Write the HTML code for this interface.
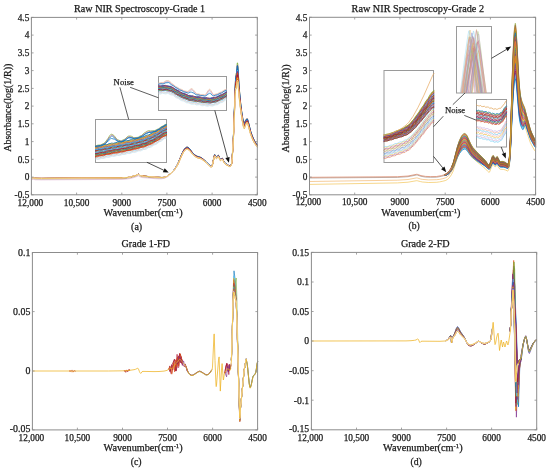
<!DOCTYPE html><html><head><meta charset="utf-8"><style>html,body{margin:0;padding:0;background:#fff;width:550px;height:471px;overflow:hidden}svg{display:block}</style></head><body><svg width="550" height="471" viewBox="0 0 550 471" font-family='"Liberation Serif", "DejaVu Serif", serif' fill="#1a1a1a">
<rect width="550" height="471" fill="#fff"/>
<style>path{fill:none;stroke-linejoin:round;stroke-linecap:round}text{stroke:#1a1a1a;stroke-width:0.25px}</style>
<path d="M31.5 178.3 33 178 36 178.4 41.5 178.5 74 178.2 110 178 119 178 122.5 178 127 177.6 129 177.3 130.5 177 133 176.3 135 175.7 136 175.3 137.5 174.5 138.4 174.2 139 174.6 139.5 175 140.5 175.5 141.5 175.8 143 176.1 154.5 177.1 159 177.4 162 177.5 164 177.4 165 177.2 166.5 176.5 167.5 176 168.5 175.3 171.5 172.6 173 171.1 174 169.9 175 168.5 176 166.9 177.5 164.2 178.5 162.1 182 153.4 183.5 150.4 184.5 148.9 185.5 147.8 186 147.4 186.5 147.2 187 147.1 187.5 147.1 188 147.3 189 148 190 149.2 192.5 152.6 193.5 153.6 194.5 154.5 195.5 155.3 196.5 155.9 197.5 156.3 200.5 157.3 201.5 157.8 202.5 158.5 204 159.7 206.5 162 209 164.6 211 166.4 211.5 166.5 211.8 166.2 212 165.8 212.5 163.9 214 156.7 214.5 154.8 214.6 154.7 215 154.7 216 156.8 216.5 157.4 217 157 218 155.3 218.4 155.2 219 156.2 220 158.9 220.3 159.3 220.5 159.4 221 159.1 221.5 158.5 222 158.1 222.3 158.1 222.5 158.3 223 159.3 224 161.7 225 162.9 226 163.7 229 165.6 229.5 165.8 230 165.9 230.5 165.7 231 165.2 231.2 164.6 231.5 163.6 231.8 161.9 232.2 157 233 144.4 233.5 133.5 235 91.1 235.5 78.9 235.8 75.3 236 73.8 236.2 73.4 236.5 72.7 236.6 72 237.2 63.7 237.4 62.8 237.5 62.9 237.8 64.3 238 67.1 239.2 87.1 240.4 100.5 241 106.1 241.8 112.1 242.5 117 243 119.6 243.3 120.8 243.8 122.1 244 122.5 244.2 122.6 244.5 122.3 245.5 120.3 246.8 118.7 247 118.6 247.2 118.6 247.5 119.1 248 120.7 248.8 123.6 250.5 130.7 252 135.1 253.5 138.7 254.5 140.7 256.5 143.9 257 144.5 257.5 144.9" stroke="#77AC30" stroke-width="0.8"/>
<path d="M31.5 178.3 33 178 36 178.4 41.5 178.5 74 178.2 110 178 119 178 122.5 178 127 177.6 129 177.3 130.5 177 133 176.3 135 175.7 136 175.3 137.5 174.5 138.4 174.2 139 174.6 139.5 175 140.5 175.5 141.5 175.8 143 176.1 154.5 177.1 159 177.4 162 177.5 164 177.4 165 177.2 166.5 176.5 167.5 176 168.5 175.3 171.5 172.6 173 171.1 174 169.9 175 168.5 176 166.9 177.5 164.2 178.5 162.1 182 153.5 183.5 150.4 184.5 148.9 185.5 147.8 186 147.5 186.5 147.2 187 147.1 187.5 147.2 188 147.4 189 148.1 190 149.2 192.5 152.6 193.5 153.7 194.5 154.5 195.5 155.3 196.5 155.9 197.5 156.4 200.5 157.3 201.5 157.8 202.5 158.5 204 159.7 206.5 162 209 164.6 211 166.5 211.5 166.5 211.8 166.2 212 165.8 212.5 164 214 156.7 214.5 154.8 214.6 154.7 215 154.8 216 156.8 216.5 157.4 217 157 218 155.4 218.4 155.2 219 156.2 220 158.9 220.3 159.3 220.5 159.4 221 159.1 221.5 158.5 222 158.1 222.3 158.1 222.5 158.3 223 159.3 224 161.7 225 162.9 226 163.7 229 165.6 229.5 165.8 230 165.9 230.5 165.7 231 165.2 231.2 164.6 231.5 163.6 231.8 161.9 232.2 157 233 144.5 233.5 133.7 235 92 235.5 80.2 235.8 76.8 236 75.6 236.2 75.3 236.5 74.7 236.6 74.1 237.2 66.1 237.4 65.3 237.5 65.3 237.8 66.7 238 69.3 239.2 88.3 239.8 94.4 240.5 102 241.2 108.5 242 114 242.8 118.6 243.2 120.9 243.8 122.3 244 122.7 244.3 122.8 244.5 122.6 244.8 122.1 245.5 120.5 246.8 118.8 247 118.7 247.2 118.7 247.5 119.2 248 120.7 248.8 123.6 250.5 130.7 252 135.1 253.5 138.7 254.5 140.7 256.5 143.9 257 144.6 257.5 145" stroke="#7E2F8E" stroke-width="0.8"/>
<path d="M31.5 178.3 33 178 36 178.4 41.5 178.5 74 178.2 110 178 119 178 122.5 178 127 177.6 129 177.3 130.5 177 133 176.3 135 175.7 136 175.3 137.5 174.5 138.4 174.2 139 174.6 139.5 175 140.5 175.5 141.5 175.8 143 176.1 154.5 177.1 159 177.4 162 177.5 164 177.4 165 177.2 166.5 176.5 167.5 176 168.5 175.3 171.5 172.7 173 171.1 174 169.9 175 168.6 176 167 177.5 164.3 178.5 162.2 182 153.7 183.5 150.7 184.5 149.2 185.5 148.1 186 147.7 186.5 147.5 187 147.4 187.5 147.4 188 147.6 189 148.3 190 149.5 192.5 152.8 193.5 153.8 194.5 154.7 195.5 155.5 196.5 156.1 197.5 156.5 200.5 157.5 201.5 158 202.5 158.7 204 159.9 206.5 162.1 209 164.7 211 166.5 211.5 166.6 211.8 166.3 212 165.9 212.5 164.1 214 156.9 214.5 155 214.6 154.9 215 154.9 216 157 216.5 157.5 217 157.2 218 155.5 218.4 155.4 219 156.4 220 159.1 220.3 159.5 220.5 159.5 221 159.3 221.5 158.7 222 158.2 222.3 158.3 222.5 158.5 223 159.5 224 161.8 225 163 226 163.8 229 165.7 229.5 165.9 230 166 230.5 165.8 231 165.3 231.2 164.7 231.5 163.8 231.8 162 232.2 157.2 233 144.8 233.5 134 235 92.6 235.5 80.8 235.8 77.4 236 76.1 236.2 75.8 236.5 75.2 236.6 74.7 237.2 66.6 237.4 65.8 237.5 65.9 237.8 67.2 238 69.9 239.2 88.9 239.8 94.9 240.5 102.5 241.2 109 242 114.5 242.8 119.1 243.2 121.4 243.8 122.9 244 123.3 244.3 123.4 244.5 123.2 244.8 122.7 245.5 121 246.8 119.3 247 119.1 247.2 119.2 247.5 119.6 248 121.2 248.8 124.1 250.5 131.1 252 135.5 253.5 139 254.5 141 256.5 144.2 257 144.8 257.5 145.2" stroke="#0072BD" stroke-width="0.8"/>
<path d="M31.5 178.3 33 178 36 178.4 41.5 178.5 74 178.2 110 178 119 178 122.5 178 127 177.6 129 177.3 130.5 177 133 176.3 135 175.7 136 175.3 137.5 174.5 138.4 174.3 139 174.6 139.5 175 140.5 175.5 141.5 175.8 143 176.1 154.5 177.1 159 177.4 162 177.5 164 177.4 165 177.1 166.5 176.5 167.5 176 168.5 175.3 171.5 172.7 173 171.2 174 170 175 168.6 176 167.1 177.5 164.4 178.5 162.3 182 153.8 183.5 150.9 184.5 149.4 185.5 148.3 186 147.9 186.5 147.7 187 147.6 187.5 147.6 188 147.8 189 148.5 190 149.7 192.5 153 193.5 154 194.5 154.9 195.5 155.6 196.5 156.3 197.5 156.7 200.5 157.6 201.5 158.1 202.5 158.8 204 160 206.5 162.3 209 164.8 211 166.6 211.5 166.7 211.8 166.4 212 166 212.5 164.2 214 157 214.5 155.2 214.6 155 215 155.1 216 157.1 216.5 157.7 217 157.3 218 155.7 218.4 155.6 219 156.6 220 159.2 220.3 159.6 220.5 159.7 221 159.4 221.5 158.8 222 158.4 222.3 158.4 222.5 158.6 223 159.6 224 162 225 163.1 226 163.9 229 165.8 229.5 166 230 166 230.5 165.9 231 165.3 231.2 164.8 231.5 163.9 231.8 162.1 232.2 157.4 233 145 233.5 134.5 235 93.9 235.5 82.7 235.8 79.5 236 78.4 236.2 78.2 236.5 77.7 236.6 77.2 237.2 69.5 237.4 68.8 237.5 68.8 237.8 70.1 238 72.6 239.2 90.6 240.4 102.5 241.8 113.4 242.5 118.2 243.2 122 243.8 123.5 244 123.9 244.3 124 244.5 123.8 244.8 123.3 245.5 121.6 246.5 120 246.8 119.7 247 119.6 247.2 119.7 247.5 120.1 248 121.6 248.8 124.5 250.5 131.4 252 135.8 253.5 139.3 254.5 141.3 256.5 144.4 257 145.1 257.5 145.5" stroke="#0072BD" stroke-width="0.8"/>
<path d="M31.5 178.3 33 178 36 178.4 41.5 178.4 74 178.1 110 178 119 178 122.5 177.9 127 177.6 129 177.3 130.5 177 133 176.3 135 175.7 136 175.3 137.5 174.6 138.4 174.3 139 174.6 139.5 175.1 140.5 175.5 141.5 175.9 143 176.1 154.5 177.1 159 177.4 162 177.5 164 177.4 165 177.1 166.5 176.5 167.5 176 168.5 175.3 171.5 172.8 173 171.2 174 170.1 175 168.7 176 167.2 177.5 164.6 178.5 162.5 182 154.1 183.5 151.2 184.5 149.7 185.5 148.7 186 148.3 186.5 148.1 187 148 187.5 148 188 148.2 189 148.9 190 150 192.5 153.3 193.5 154.3 194.5 155.2 195.5 155.9 196.5 156.5 197.5 157 200.5 157.9 201.5 158.4 202.5 159 204 160.2 206.5 162.4 209 164.9 211 166.8 211.5 166.8 211.8 166.5 212 166.1 212.5 164.3 214 157.3 214.5 155.5 214.6 155.3 215 155.4 216 157.4 216.5 157.9 217 157.6 218 156 218.4 155.8 219 156.8 220 159.4 220.3 159.8 220.5 159.9 221 159.6 221.5 159 222 158.6 222.3 158.7 222.5 158.9 223 159.8 224 162.2 225 163.3 226 164.1 229 165.9 229.5 166.1 230 166.2 230.5 166 231 165.5 231.2 164.9 231.5 164 231.8 162.3 232.2 157.6 233 145.5 233.5 135 235 95.1 235.5 84 235.8 80.8 236 79.7 236.2 79.6 236.5 79.1 236.6 78.6 237.2 71.1 237.4 70.3 237.5 70.3 237.8 71.6 238 74.1 239.2 91.7 240.4 103.6 241.8 114.2 242.5 119.1 243.2 122.8 243.8 124.4 244 124.8 244.3 124.9 244.5 124.7 244.8 124.2 245.5 122.4 246.5 120.8 246.8 120.5 247 120.4 247.2 120.4 247.5 120.8 248 122.4 248.8 125.2 250.5 132 252 136.3 253.5 139.8 254.5 141.7 256.5 144.8 257 145.5 257.5 145.9" stroke="#4DBEEE" stroke-width="0.8"/>
<path d="M31.5 178.3 33 178 36 178.4 41.5 178.4 74 178.1 110 178 119 178 122.5 177.9 127 177.6 129 177.3 130.5 177 133 176.3 135 175.7 136 175.3 137.5 174.6 138.4 174.3 139 174.6 139.5 175.1 140.5 175.5 141.5 175.9 143 176.1 154.5 177.1 159 177.4 162 177.5 164 177.4 165 177.1 166.5 176.5 167.5 176 168.5 175.3 171.5 172.8 173 171.2 174 170.1 175 168.7 176 167.2 177.5 164.6 178.5 162.5 182 154.1 183.5 151.2 184.5 149.7 185.5 148.6 186 148.2 186.5 148 187 147.9 187.5 148 188 148.2 189 148.8 190 150 192.5 153.3 193.5 154.3 194.5 155.1 195.5 155.9 196.5 156.5 197.5 156.9 200.5 157.8 201.5 158.3 202.5 159 204 160.2 206.5 162.4 209 164.9 211 166.7 211.5 166.8 211.8 166.5 212 166.1 212.5 164.3 214 157.3 214.5 155.4 214.6 155.3 215 155.4 216 157.3 216.5 157.9 217 157.5 218 155.9 218.4 155.8 219 156.8 220 159.4 220.3 159.8 220.5 159.9 221 159.6 221.5 159 222 158.6 222.3 158.6 222.5 158.8 223 159.8 224 162.1 225 163.3 226 164.1 229 165.9 229.5 166.1 230 166.2 230.5 166 231 165.5 231.2 164.9 231.5 164 231.8 162.3 232.2 157.6 233 145.4 233.5 135 235 95.3 235.5 84.3 235.8 81.3 236 80.2 236.2 80.1 236.5 79.8 236.6 79.3 237.2 71.9 237.4 71.1 237.5 71.1 237.8 72.4 238 74.8 239.2 92.1 240.4 103.6 241.2 110.6 242 115.8 242.8 120.5 243.3 123.1 243.8 124.4 244 124.9 244.3 125 244.5 124.8 244.8 124.3 245.5 122.4 246.5 120.7 246.8 120.4 247 120.3 247.2 120.3 247.5 120.7 248 122.3 248.8 125.1 250.5 132 252 136.3 253.5 139.7 254.5 141.7 256.5 144.8 257 145.4 257.5 145.8" stroke="#7E2F8E" stroke-width="0.8"/>
<path d="M31.5 178.3 33 177.9 36 178.4 41.5 178.4 74 178.1 122.5 177.9 127 177.6 129 177.3 130.5 177 133 176.3 135 175.7 136 175.3 137.5 174.6 138.4 174.3 139 174.6 139.5 175.1 140.5 175.5 141.5 175.9 143 176.1 154.5 177.1 159 177.4 162 177.5 164 177.4 165 177.1 166.5 176.5 167.5 176 168.5 175.3 171.5 172.8 173 171.3 174 170.1 175 168.8 176 167.3 177.5 164.7 178.5 162.6 182 154.3 183.5 151.4 184.5 149.9 185.5 148.9 186 148.5 186.5 148.3 187 148.2 187.5 148.2 188 148.4 189 149.1 190 150.2 192.5 153.5 193.5 154.5 194.5 155.3 195.5 156.1 196.5 156.7 197.5 157.1 200.5 158 201.5 158.5 202.5 159.2 204 160.3 206.5 162.6 209 165 211 166.8 211.5 166.9 211.8 166.6 212 166.2 212.5 164.4 214 157.4 214.5 155.6 214.6 155.5 215 155.6 216 157.5 216.5 158.1 217 157.7 218 156.1 218.4 156 219 157 220 159.6 220.3 160 220.5 160 221 159.7 221.5 159.2 222 158.8 222.3 158.8 222.5 159 223 160 224 162.3 225 163.4 226 164.2 229 166 229.5 166.2 230 166.3 230.5 166.1 231 165.6 231.2 165 231.5 164.1 231.8 162.4 232.2 157.8 233 145.7 233.5 135.4 235 96.2 235.5 85.5 235.8 82.5 236 81.5 236.2 81.5 236.5 81.1 236.6 80.7 237.2 73.4 237.4 72.7 237.5 72.7 237.8 73.9 238 76.3 239.2 93.1 240.4 104.4 241.2 111.2 242 116.4 242.8 121.1 243.3 123.7 243.8 125.1 244 125.6 244.3 125.7 244.5 125.5 244.8 124.9 245.5 123 246.5 121.3 246.8 120.9 247 120.8 247.2 120.9 247.5 121.2 248 122.8 248.8 125.5 250.5 132.4 252 136.6 253.5 140.1 254.5 142 256.5 145.1 257 145.7 257.5 146.1" stroke="#A2142F" stroke-width="0.8"/>
<path d="M31.5 178.3 33 177.9 36 178.4 41.5 178.4 74 178.1 122.5 177.9 127 177.6 129 177.3 130.5 177 133 176.3 135 175.7 136 175.3 137.5 174.6 138.4 174.3 139 174.6 139.5 175.1 140.5 175.5 141.5 175.9 143 176.1 154.5 177.1 159 177.4 162 177.5 164 177.4 165 177.1 166.5 176.5 167.5 176 168.5 175.3 171.5 172.8 173 171.3 174 170.1 175 168.8 176 167.3 177.5 164.7 178.5 162.6 182 154.4 183.5 151.4 184.5 150 185.5 148.9 186 148.6 186.5 148.4 187 148.3 187.5 148.3 188 148.5 189 149.2 190 150.3 192.5 153.5 193.5 154.5 194.5 155.4 195.5 156.1 196.5 156.7 197.5 157.1 200.5 158.1 201.5 158.5 202.5 159.2 204 160.4 206.5 162.6 209 165 211 166.9 211.5 166.9 211.8 166.6 212 166.2 212.5 164.5 214 157.5 214.5 155.7 214.6 155.5 215 155.6 216 157.6 216.5 158.1 217 157.8 218 156.2 218.4 156.1 219 157 220 159.6 220.3 160 220.5 160.1 221 159.8 221.5 159.2 222 158.8 222.3 158.9 222.5 159.1 223 160 224 162.3 225 163.4 226 164.2 229 166 229.5 166.2 230 166.3 230.5 166.1 231 165.6 231.2 165.1 231.5 164.2 231.8 162.5 232.2 157.8 233 145.8 233.5 135.5 235 96.4 235.5 85.7 235.8 82.7 236 81.7 236.2 81.7 236.5 81.3 236.6 80.8 237.2 73.6 237.4 72.9 237.5 72.9 237.8 74.1 238 76.5 239.2 93.3 240.4 104.6 241.2 111.4 242 116.6 242.8 121.3 243.3 123.9 243.8 125.4 244 125.9 244.3 126 244.5 125.8 244.8 125.3 245.5 123.2 246.5 121.4 246.8 121.1 247 120.9 247.2 121 247.5 121.4 248 122.9 248.8 125.7 250.5 132.5 252 136.7 253.5 140.2 254.5 142.1 256.5 145.2 257 145.8 257.5 146.2" stroke="#D95319" stroke-width="0.8"/>
<path d="M31.5 178.2 33 177.9 36 178.3 41.5 178.4 74 178.1 122.5 177.9 127 177.5 129 177.3 130.5 177 133 176.3 135 175.7 136 175.4 137.5 174.6 138.4 174.3 139 174.7 139.5 175.1 140.5 175.5 141.5 175.9 143 176.1 154.5 177.1 159 177.4 162 177.5 164 177.4 165 177.1 166.5 176.5 167.5 176 168.5 175.3 171.5 172.8 173 171.4 174 170.2 175 168.9 176 167.4 177.5 164.9 178.5 162.8 182 154.6 183.5 151.7 184.5 150.3 185.5 149.2 186 148.9 186.5 148.7 187 148.6 187.5 148.6 188 148.8 189 149.5 190 150.6 192.5 153.8 193.5 154.8 194.5 155.6 195.5 156.4 196.5 157 197.5 157.4 200.5 158.3 201.5 158.8 202.5 159.4 204 160.6 206.5 162.8 209 165.2 211 167 211.5 167 211.8 166.8 212 166.3 212.5 164.6 214 157.7 214.5 155.9 214.6 155.8 215 155.8 216 157.8 216.5 158.3 217 158 218 156.4 218.4 156.3 219 157.3 220 159.8 220.3 160.2 220.5 160.3 221 160 221.5 159.4 222 159 222.3 159.1 222.5 159.3 223 160.2 224 162.5 225 163.6 226 164.3 229 166.2 229.5 166.4 230 166.4 230.5 166.2 231 165.7 231.2 165.2 231.5 164.3 231.8 162.6 232.2 158 233 146.2 233.5 136 235 97.6 235.5 87.1 235.8 84.3 236 83.4 236.2 83.4 236.5 83.1 236.6 82.6 237.2 75.6 237.4 74.9 237.5 74.9 237.8 76.1 238 78.4 239.2 94.7 240.5 106.4 241.2 112.2 242.2 119 243 123.3 243.5 125.4 244 126.6 244.3 126.8 244.5 126.6 244.8 126 245.5 124 246.5 122.1 246.8 121.8 247 121.6 247.2 121.6 247.5 122 248 123.5 250.5 133 252 137.2 253.5 140.6 254.5 142.5 256.5 145.5 257 146.2 257.5 146.5" stroke="#A2142F" stroke-width="0.8"/>
<path d="M31.5 178.2 33 177.9 36 178.3 41.5 178.4 74 178.1 122.5 177.9 127 177.5 129 177.3 130.5 177 133 176.3 135 175.7 136 175.4 137.5 174.6 138.4 174.4 139 174.7 139.5 175.1 140.5 175.6 141.5 175.9 143 176.1 154.5 177.1 159 177.4 162 177.5 164 177.4 165 177.1 166.5 176.5 167.5 176 168.5 175.3 171.5 172.9 173 171.4 174 170.3 175 169 176 167.5 177.5 165 178.5 162.9 182 154.9 183.5 152 184.5 150.6 185.5 149.5 186 149.2 186.5 149 187 148.9 187.5 148.9 188 149.1 189 149.8 190 150.9 192.5 154.1 193.5 155 194.5 155.9 195.5 156.6 196.5 157.2 197.5 157.6 200.5 158.5 201.5 158.9 202.5 159.6 204 160.7 206.5 162.9 209 165.3 211 167.1 211.5 167.1 211.8 166.9 212 166.5 212.5 164.7 214 157.9 214.5 156.1 214.6 156 215 156.1 216 158 216.5 158.5 217 158.2 218 156.6 218.4 156.5 219 157.5 220 160 220.3 160.4 220.5 160.4 221 160.2 221.5 159.6 222 159.2 222.3 159.2 222.5 159.4 223 160.4 224 162.6 225 163.7 226 164.5 229 166.3 229.5 166.5 230 166.5 230.5 166.3 231 165.9 231.2 165.3 231.5 164.4 231.8 162.8 232.2 158.2 233 146.5 233.5 136.5 235 98.8 235.5 88.6 235.8 85.9 236 85.1 236.2 85.1 236.5 84.9 236.6 84.5 237.2 77.7 237.4 77 237.5 77 237.8 78.1 238 80.3 239.2 96 240.4 106.5 241.2 112.9 242.2 119.6 243 124 243.5 126.1 244 127.3 244.3 127.5 244.5 127.3 244.8 126.7 245.5 124.6 246.5 122.7 246.8 122.3 247 122.2 247.2 122.2 247.5 122.6 248 124.1 250.5 133.5 252 137.6 253.5 141 254.5 142.8 256.5 145.9 257 146.5 257.5 146.9" stroke="#D95319" stroke-width="0.8"/>
<path d="M31.5 178.2 33 177.9 36 178.3 41.5 178.4 74 178.1 122.5 177.9 127 177.5 129 177.3 130.5 177 133 176.3 135 175.7 136 175.4 137.5 174.6 138.4 174.4 139 174.7 139.5 175.1 140.5 175.6 141.5 175.9 143 176.1 154.5 177.1 159 177.4 162 177.5 164 177.4 165 177.1 166.5 176.5 167.5 176 168.5 175.3 171.5 172.9 173 171.4 174 170.3 175 169 176 167.5 177.5 164.9 178.5 162.9 182 154.8 183.5 151.9 184.5 150.5 185.5 149.5 186 149.1 186.5 148.9 187 148.8 187.5 148.9 188 149 189 149.7 190 150.8 192.5 154 193.5 155 194.5 155.8 195.5 156.5 196.5 157.1 197.5 157.5 200.5 158.4 201.5 158.9 202.5 159.5 204 160.7 206.5 162.9 209 165.3 211 167 211.5 167.1 211.8 166.8 212 166.4 212.5 164.7 214 157.8 214.5 156.1 214.6 155.9 215 156 216 157.9 216.5 158.5 217 158.1 218 156.6 218.4 156.4 219 157.4 220 159.9 220.3 160.3 220.5 160.4 221 160.1 221.5 159.5 222 159.1 222.3 159.2 222.5 159.4 223 160.3 224 162.6 225 163.7 226 164.4 229 166.2 229.5 166.4 230 166.5 230.5 166.3 231 165.8 231.2 165.3 231.5 164.4 231.8 162.8 232.2 158.2 233 146.4 233.5 136.4 235 98.9 235.5 89 235.8 86.3 236 85.6 236.2 85.8 236.5 85.6 236.6 85.2 237.2 78.6 237.4 77.9 237.5 77.9 237.8 79 238 81.2 239.2 95.9 240.4 106.5 241.2 112.8 242.2 119.5 243 123.9 243.5 126.1 244 127.4 244.3 127.5 244.5 127.3 244.8 126.8 245.5 124.6 246.5 122.6 246.8 122.2 247 122 247.2 122.1 247.5 122.4 248 123.9 250.5 133.3 252 137.5 253.5 140.9 254.5 142.7 256.5 145.8 257 146.4 257.5 146.8" stroke="#EDB120" stroke-width="0.8"/>
<path d="M31.5 178.2 33 177.9 36 178.3 41.5 178.4 74 178.1 122.5 177.9 127 177.5 129 177.3 130.5 177 133 176.3 135 175.7 136 175.4 137.5 174.6 138.4 174.4 139 174.7 139.5 175.1 140.5 175.6 141.5 175.9 143 176.1 154.5 177.1 159 177.4 162 177.5 164 177.4 165 177.1 166.5 176.5 167.5 176 168.5 175.3 171.5 172.9 173 171.5 174 170.3 175 169 176 167.6 177.5 165 178.5 163 182 155 183.5 152.1 184.5 150.7 185.5 149.7 186 149.3 186.5 149.1 187 149 187.5 149.1 188 149.3 189 149.9 190 151 192.5 154.2 193.5 155.1 194.5 156 195.5 156.7 196.5 157.3 197.5 157.7 200.5 158.6 201.5 159 202.5 159.7 204 160.8 206.5 163 209 165.4 211 167.1 211.5 167.2 211.8 166.9 212 166.5 212.5 164.8 214 158 214.5 156.2 214.6 156.1 215 156.2 216 158.1 216.5 158.6 217 158.3 218 156.7 218.4 156.6 219 157.6 220 160.1 220.3 160.5 220.5 160.5 221 160.2 221.5 159.7 222 159.3 222.3 159.3 222.5 159.5 223 160.4 224 162.7 225 163.8 226 164.5 229 166.3 229.5 166.5 230 166.6 230.5 166.4 231 165.9 231.2 165.4 231.5 164.5 231.8 162.9 232.2 158.3 233 146.7 233.5 136.8 235 99.8 235.5 90 235.8 87.5 236 86.8 236.2 87 236.5 86.9 236.6 86.5 237.2 80 237.4 79.3 237.5 79.3 237.8 80.4 238 82.5 239.2 96.9 240.2 106.1 241.2 113.4 242.2 120 243 124.5 243.5 126.7 244 128 244.2 128.2 244.5 127.9 245.5 125.1 246.2 123.5 246.8 122.7 247 122.5 247.2 122.5 247.5 122.9 248 124.4 250.5 133.7 252 137.8 253.5 141.2 254.5 143 256.5 146 257 146.6 257.5 147" stroke="#D95319" stroke-width="0.8"/>
<path d="M31.5 179 33.5 178.7 35.5 179.1 41.5 179.2 122.5 178.7 126.5 178.4 130.5 177.8 134.5 176.7 138.5 175.2 139.5 175.9 140.5 176.4 142.5 176.9 155.5 178 159.5 178.2 162.5 178.1 164.5 177.8 165.5 177.5 168.5 175.7 172.5 172.2 175.5 168.4" stroke="#9A8A5A" stroke-width="0.7" stroke-opacity="0.8"/>
<path d="M31.5 179.7 33.5 179.4 35.5 179.8 41.5 179.9 122.5 179.4 126.5 179.1 130.5 178.5 134.5 177.4 138.5 175.9 139.5 176.6 140.5 177.1 142.5 177.6 155.5 178.7 159.5 178.9 161.5 178.8 164.5 178.3 167.5 176.8 170.5 174.3 172.5 172.3 175.5 168.4" stroke="#D8A0C8" stroke-width="0.7" stroke-opacity="0.7"/>
<path d="M31.5 178.2 33 177.9 36 178.3 41.5 178.4 122.5 177.9 127 177.5 130.5 177 135 175.7 138.4 174.4 140.5 175.6 143 176.1 159 177.4 164 177.4 166.5 176.5 168.5 175.4 171.5 172.9 174 170.4 176 167.7 177.5 165.2 182 155.2 183.5 152.4 185.5 149.9 187 149.3 188 149.5 189 150.2 192.5 154.4 194.5 156.2 196.5 157.5 200.5 158.7 202.5 159.8 206.5 163.1 211 167.2 211.5 167.3 212 166.6 214 158.2 214.6 156.3 215 156.4 216 158.3 216.5 158.8 217 158.4 218 156.9 218.4 156.8 220.3 160.6 220.5 160.7 221 160.4 222 159.5 222.3 159.5 223 160.6 224 162.8 225 163.9 229 166.4 230 166.7 230.5 166.5 231 166 231.5 164.6 232.2 158.5 233.5 137.2 235.5 91.2 235.8 88.8 236 88.2 236.2 88.4 236.5 88.4 236.6 88 237.4 81 237.8 82.1 238 84.1 239.2 98 240.2 106.9 242.5 122.2 243.5 127.3 244 128.6 244.2 128.8 244.5 128.6 246.2 124.1 246.8 123.2 247.2 123 248 124.8 250.5 134.1 252 138.2 254.5 143.3 256.5 146.3 257.5 147.3" stroke="#ffffff" stroke-width="1.3"/>
<path d="M31.5 178.2 33 177.9 36 178.3 41.5 178.4 74 178.1 122.5 177.9 127 177.5 129 177.2 130.5 177 133 176.3 135 175.7 136 175.4 137.5 174.7 138.4 174.4 139 174.7 139.5 175.1 140.5 175.6 141.5 175.9 143 176.1 154.5 177.1 159 177.4 162 177.5 164 177.4 165 177.1 166.5 176.5 167.5 176 168.5 175.4 171.5 172.9 173 171.5 174 170.4 175 169.1 176 167.7 177.5 165.2 178.5 163.1 182 155.2 183.5 152.4 184.5 151 185.5 149.9 186 149.6 186.5 149.4 187 149.3 187.5 149.3 188 149.5 189 150.2 190 151.2 192.5 154.4 193.5 155.3 194.5 156.2 195.5 156.9 196.5 157.5 197.5 157.9 200.5 158.7 201.5 159.2 202.5 159.8 204 161 206.5 163.1 209 165.5 211 167.2 211.5 167.3 211.8 167 212 166.6 212.5 164.9 214 158.2 214.5 156.4 214.6 156.3 215 156.4 216 158.3 216.5 158.8 217 158.4 218 156.9 218.4 156.8 219 157.7 220 160.2 220.3 160.6 220.5 160.7 221 160.4 221.5 159.8 222 159.5 222.3 159.5 222.5 159.7 223 160.6 224 162.8 225 163.9 226 164.7 229 166.4 229.5 166.6 230 166.7 230.5 166.5 231 166 231.2 165.5 231.5 164.6 231.8 163 232.2 158.5 233 147 233.5 137.2 235 100.8 235.5 91.2 235.8 88.8 236 88.2 236.2 88.4 236.5 88.4 236.6 88 237.2 81.7 237.4 81 237.5 81 237.8 82.1 238 84.1 239.2 98 240.2 106.9 241.2 114.1 242.5 122.2 243 125.1 243.5 127.3 244 128.6 244.2 128.8 244.5 128.6 245.5 125.7 246.2 124.1 246.8 123.2 247 123 247.2 123 247.5 123.4 248 124.8 250.5 134.1 252 138.2 253.5 141.5 254.5 143.3 256.5 146.3 257 146.9 257.5 147.3" stroke="#E3B040" stroke-width="0.85"/>
<line x1="31.4" y1="194.8" x2="31.4" y2="192.6" stroke="#8c8c8c" stroke-width="0.8"/>
<line x1="31.4" y1="17.4" x2="31.4" y2="19.6" stroke="#8c8c8c" stroke-width="0.8"/>
<line x1="76.6" y1="194.8" x2="76.6" y2="192.6" stroke="#8c8c8c" stroke-width="0.8"/>
<line x1="76.6" y1="17.4" x2="76.6" y2="19.6" stroke="#8c8c8c" stroke-width="0.8"/>
<line x1="121.8" y1="194.8" x2="121.8" y2="192.6" stroke="#8c8c8c" stroke-width="0.8"/>
<line x1="121.8" y1="17.4" x2="121.8" y2="19.6" stroke="#8c8c8c" stroke-width="0.8"/>
<line x1="166.9" y1="194.8" x2="166.9" y2="192.6" stroke="#8c8c8c" stroke-width="0.8"/>
<line x1="166.9" y1="17.4" x2="166.9" y2="19.6" stroke="#8c8c8c" stroke-width="0.8"/>
<line x1="212.1" y1="194.8" x2="212.1" y2="192.6" stroke="#8c8c8c" stroke-width="0.8"/>
<line x1="212.1" y1="17.4" x2="212.1" y2="19.6" stroke="#8c8c8c" stroke-width="0.8"/>
<line x1="257.3" y1="194.8" x2="257.3" y2="192.6" stroke="#8c8c8c" stroke-width="0.8"/>
<line x1="257.3" y1="17.4" x2="257.3" y2="19.6" stroke="#8c8c8c" stroke-width="0.8"/>
<line x1="31.4" y1="194.8" x2="33.6" y2="194.8" stroke="#8c8c8c" stroke-width="0.8"/>
<line x1="257.3" y1="194.8" x2="255.1" y2="194.8" stroke="#8c8c8c" stroke-width="0.8"/>
<line x1="31.4" y1="177.1" x2="33.6" y2="177.1" stroke="#8c8c8c" stroke-width="0.8"/>
<line x1="257.3" y1="177.1" x2="255.1" y2="177.1" stroke="#8c8c8c" stroke-width="0.8"/>
<line x1="31.4" y1="159.3" x2="33.6" y2="159.3" stroke="#8c8c8c" stroke-width="0.8"/>
<line x1="257.3" y1="159.3" x2="255.1" y2="159.3" stroke="#8c8c8c" stroke-width="0.8"/>
<line x1="31.4" y1="141.6" x2="33.6" y2="141.6" stroke="#8c8c8c" stroke-width="0.8"/>
<line x1="257.3" y1="141.6" x2="255.1" y2="141.6" stroke="#8c8c8c" stroke-width="0.8"/>
<line x1="31.4" y1="123.8" x2="33.6" y2="123.8" stroke="#8c8c8c" stroke-width="0.8"/>
<line x1="257.3" y1="123.8" x2="255.1" y2="123.8" stroke="#8c8c8c" stroke-width="0.8"/>
<line x1="31.4" y1="106.1" x2="33.6" y2="106.1" stroke="#8c8c8c" stroke-width="0.8"/>
<line x1="257.3" y1="106.1" x2="255.1" y2="106.1" stroke="#8c8c8c" stroke-width="0.8"/>
<line x1="31.4" y1="88.4" x2="33.6" y2="88.4" stroke="#8c8c8c" stroke-width="0.8"/>
<line x1="257.3" y1="88.4" x2="255.1" y2="88.4" stroke="#8c8c8c" stroke-width="0.8"/>
<line x1="31.4" y1="70.6" x2="33.6" y2="70.6" stroke="#8c8c8c" stroke-width="0.8"/>
<line x1="257.3" y1="70.6" x2="255.1" y2="70.6" stroke="#8c8c8c" stroke-width="0.8"/>
<line x1="31.4" y1="52.9" x2="33.6" y2="52.9" stroke="#8c8c8c" stroke-width="0.8"/>
<line x1="257.3" y1="52.9" x2="255.1" y2="52.9" stroke="#8c8c8c" stroke-width="0.8"/>
<line x1="31.4" y1="35.1" x2="33.6" y2="35.1" stroke="#8c8c8c" stroke-width="0.8"/>
<line x1="257.3" y1="35.1" x2="255.1" y2="35.1" stroke="#8c8c8c" stroke-width="0.8"/>
<line x1="31.4" y1="17.4" x2="33.6" y2="17.4" stroke="#8c8c8c" stroke-width="0.8"/>
<line x1="257.3" y1="17.4" x2="255.1" y2="17.4" stroke="#8c8c8c" stroke-width="0.8"/>
<rect x="31.4" y="17.4" width="225.9" height="177.4" fill="none" stroke="#8c8c8c" stroke-width="1"/>
<text x="29.3" y="197.6" font-size="9.3" text-anchor="end" >-0.5</text>
<text x="29.3" y="180.2" font-size="9.3" text-anchor="end" >0</text>
<text x="29.3" y="162.5" font-size="9.3" text-anchor="end" >0.5</text>
<text x="29.3" y="144.7" font-size="9.3" text-anchor="end" >1</text>
<text x="29.3" y="127" font-size="9.3" text-anchor="end" >1.5</text>
<text x="29.3" y="109.3" font-size="9.3" text-anchor="end" >2</text>
<text x="29.3" y="91.5" font-size="9.3" text-anchor="end" >2.5</text>
<text x="29.3" y="73.8" font-size="9.3" text-anchor="end" >3</text>
<text x="29.3" y="56" font-size="9.3" text-anchor="end" >3.5</text>
<text x="29.3" y="38.3" font-size="9.3" text-anchor="end" >4</text>
<text x="29.3" y="20.6" font-size="9.3" text-anchor="end" >4.5</text>
<text x="30.4" y="205.6" font-size="9.3" text-anchor="middle" >12,000</text>
<text x="76.6" y="205.6" font-size="9.3" text-anchor="middle" >10,500</text>
<text x="121.8" y="205.6" font-size="9.3" text-anchor="middle" >9000</text>
<text x="166.9" y="205.6" font-size="9.3" text-anchor="middle" >7500</text>
<text x="212.1" y="205.6" font-size="9.3" text-anchor="middle" >6000</text>
<text x="257.3" y="205.6" font-size="9.3" text-anchor="middle" >4500</text>
<rect x="95.5" y="119.5" width="71" height="43" fill="#fff" stroke="#9a9a9a" stroke-width="1"/>
<path d="M95.5 158.2 96.5 157.8 97.5 157.6 99.5 157.8 102.5 156.6 104.5 156.8 105.5 156.6 107.5 155.6 109.5 155.7 110.5 155.6 112.5 154.7 115.5 154.8 117.5 153.9 118.5 153.8 120.5 153.9 123.5 152.8 125.5 152.9 128.5 151.7 130.5 151.9 131.5 151.7 133.5 150.7 136.5 150.6 138.5 149.5 139.5 149.3 141.5 149.2 144.5 147.8 146.5 147.6 149.5 145.8 151.5 145.4 152.5 144.9 154.5 143.3 156.5 142.8 157.5 142.2 159.5 140.4 160.5 139.8 162.5 139 164.5 137.3 165.5 136.8 166.5 136.8" stroke="#4DBEEE" stroke-width="0.8" stroke-opacity="0.55"/>
<path d="M95.5 158.6 97.5 158.9 98.5 158.7 100.5 157.8 103.5 157.8 105.5 156.8 106.5 156.6 108.5 156.8 110.5 155.8 111.5 155.6 113.5 155.8 116.5 154.8 118.5 155 119.5 154.8 121.5 153.9 124.5 153.9 126.5 152.9 127.5 152.8 129.5 152.9 131.5 151.9 132.5 151.7 134.5 151.8 137.5 150.4 139.5 150.5 140.5 150.2 142.5 149.1 144.5 149 145.5 148.7 147.5 147.4 150.5 146.7 152.5 145.2 153.5 144.6 155.5 144.1 158.5 141.8 160.5 141 163.5 138.5 166.5 137.7" stroke="#F0B0A0" stroke-width="0.8" stroke-opacity="0.55"/>
<path d="M95.5 159.4 96.5 159.2 98.5 159.4 99.5 159.2 101.5 158.3 103.5 158.4 104.5 158.3 106.5 157.3 109.5 157.3 111.5 156.4 112.5 156.2 114.5 156.4 117.5 155.3 119.5 155.6 120.5 155.3 122.5 154.4 124.5 154.5 125.5 154.4 127.5 153.4 130.5 153.4 132.5 152.4 133.5 152.2 135.5 152.3 138.5 150.9 140.5 150.9 141.5 150.6 143.5 149.5 145.5 149.4 146.5 149 148.5 147.7 151.5 146.9 153.5 145.4 154.5 144.9 156.5 144.3 159.5 141.8 161.5 141 164.5 138.7 166.5 138.4" stroke="#9FD8F0" stroke-width="0.8" stroke-opacity="0.55"/>
<path d="M95.5 146.6 98.5 146.7 100.5 145.9 102.5 145.3 104.5 145.4 106.5 145 108.5 144 110.5 143.9 112.5 144 113.5 143.5 116.5 142.6 117.5 142.9 120.5 142.5 121.5 141.9 122.5 141.7 124.5 141.4 125.5 141.6 126.5 141.4 129.5 140.2 133.5 139.9 134.5 139.6 135.5 138.9 137.5 138.5 138.5 138.3 139.5 138.4 142.5 137.3 143.5 136.6 147.5 135.9 149.5 134.6 151.5 133.5 153.5 133.1 155.5 131.9 157.5 130.3 161.5 128.3 162.5 127.3 165.5 125.4 166.5 125.5" stroke="#0072BD" stroke-width="0.8" stroke-opacity="0.95"/>
<path d="M95.5 148.1 96.5 148.1 97.5 147.8 99.5 148 101.5 147.4 103.5 146.6 104.5 146.7 107.5 146.5 108.5 145.9 111.5 145 112.5 145.3 113.5 145.2 115.5 144.8 117.5 144 121.5 144 122.5 143.4 124.5 142.8 125.5 142.6 126.5 142.8 128.5 142.4 129.5 142.2 130.5 141.5 131.5 141.4 133.5 141.1 134.5 141.3 137.5 140.2 138.5 139.6 140.5 139.6 142.5 139.1 144.5 137.9 146.5 137.3 148.5 137.1 152.5 134.5 153.5 134.3 156.5 133.1 158.5 131.3 160.5 129.9 162.5 129.2 163.5 128.3 166.5 126.6" stroke="#D95319" stroke-width="0.8" stroke-opacity="0.95"/>
<path d="M95.5 150.4 97.5 150.3 98.5 150.5 99.5 150.3 102.5 149.1 103.5 149 104.5 149.2 106.5 148.9 107.5 148.6 108.5 148 110.5 147.6 111.5 147.6 112.5 147.8 115.5 147 116.5 146.5 120.5 146.5 122.5 145.6 124.5 145.1 126.5 145.3 128.5 144.7 130.5 143.8 131.5 143.8 134.5 143.6 135.5 143 138.5 142 139.5 142.1 140.5 141.9 142.5 141.3 144.5 140.2 147.5 139.7 148.5 139.3 149.5 138.5 151.5 137.4 152.5 136.9 153.5 136.8 155.5 135.8 156.5 135.2 157.5 134.2 160.5 132.4 161.5 132.1 165.5 129.3 166.5 129.1" stroke="#EDB120" stroke-width="0.8" stroke-opacity="0.95"/>
<path d="M95.5 154.5 98.5 153.8 99.5 154 102.5 153.5 103.5 152.9 104.5 152.7 106.5 152.4 107.5 152.5 108.5 152.3 111.5 151.2 112.5 151.1 113.5 151.3 115.5 151.1 116.5 150.9 117.5 150.3 119.5 150 120.5 149.9 121.5 150.1 124.5 149.2 125.5 148.7 129.5 148.5 131.5 147.6 133.5 147.1 135.5 147.2 137.5 146.5 139.5 145.5 143.5 145 144.5 144.4 147.5 143 148.5 143 149.5 142.7 151.5 141.7 153.5 140.2 156.5 139.2 157.5 138.6 158.5 137.6 161.5 135.4 162.5 135.2 165.5 133.6 166.5 132.8" stroke="#7E2F8E" stroke-width="0.8" stroke-opacity="0.95"/>
<path d="M95.5 151 98.5 150.4 99.5 150.6 101.5 150.2 102.5 150 103.5 149.4 106.5 149 107.5 149.1 111.5 147.7 113.5 147.9 115.5 147.6 117.5 146.8 119.5 146.5 121.5 146.7 125.5 145.2 127.5 145.2 129.5 145 131.5 144.1 133.5 143.6 135.5 143.7 137.5 143 139.5 142 140.5 142.1 143.5 141.5 144.5 140.8 147.5 139.6 148.5 139.6 149.5 139.2 151.5 138.2 152.5 137.3 153.5 136.8 156.5 135.7 160.5 132.6 161.5 132 162.5 131.8 165.5 130.1 166.5 129.3" stroke="#77AC30" stroke-width="0.8" stroke-opacity="0.95"/>
<path d="M95.5 148 98.5 147.8 99.5 147.2 100.5 147 102.5 146.5 103.5 146.8 104.5 146.6 106.5 146 107.5 145.5 108.5 145.3 111.5 145.2 112.5 145 113.5 144.5 115.5 144 116.5 144 117.5 144.2 120.5 143.5 121.5 142.9 124.5 142.7 125.5 142.8 129.5 141.3 131.5 141.4 133.5 141 135.5 140 137.5 139.7 139.5 139.6 143.5 137.8 144.5 137.9 147.5 137 149.5 135.7 151.5 134.8 152.5 134.7 153.5 134.2 157.5 131.5 158.5 131.2 160.5 130 161.5 129.3 162.5 128.3 164.5 127.1 165.5 126.7 166.5 126.8" stroke="#4DBEEE" stroke-width="0.8" stroke-opacity="0.95"/>
<path d="M95.5 150.5 97.5 150.1 98.5 149.5 102.5 149.4 104.5 148.5 106.5 148 108.5 148.1 111.5 147.3 112.5 146.7 115.5 146.7 116.5 146.8 120.5 145.4 122.5 145.6 124.5 145.2 126.5 144.3 128.5 144 130.5 144.1 131.5 143.5 134.5 142.5 135.5 142.7 138.5 142.1 139.5 141.4 140.5 141.1 142.5 140.6 143.5 140.7 144.5 140.4 146.5 139.5 147.5 138.8 148.5 138.4 149.5 138.3 151.5 137.5 152.5 137 153.5 136.1 156.5 134.6 157.5 134.4 160.5 132.1 161.5 131.1 164.5 129.7 165.5 129.5 166.5 129" stroke="#A2142F" stroke-width="0.8" stroke-opacity="0.95"/>
<path d="M95.5 149.7 97.5 149.4 99.5 149.6 101.5 149 103.5 148.1 107.5 148 109.5 147.1 111.5 146.6 113.5 146.8 115.5 146.4 117.5 145.6 121.5 145.5 122.5 145 125.5 144.1 126.5 144.3 129.5 143.8 130.5 143.1 131.5 142.9 133.5 142.6 134.5 142.8 135.5 142.5 138.5 141.2 139.5 141 140.5 141.1 142.5 140.6 143.5 140.2 144.5 139.5 147.5 138.6 148.5 138.6 151.5 136.9 152.5 136 156.5 134.6 158.5 132.9 160.5 131.4 162.5 130.7 166.5 128.1" stroke="#0072BD" stroke-width="0.8" stroke-opacity="0.95"/>
<path d="M95.5 147.7 97.5 147.6 99.5 146.7 102.5 146.4 103.5 146.5 107.5 145 109.5 145.1 111.5 144.9 113.5 144 115.5 143.7 117.5 143.9 119.5 143.3 121.5 142.5 122.5 142.7 125.5 142.4 126.5 141.8 129.5 141 130.5 141.2 131.5 141.1 133.5 140.5 134.5 139.9 135.5 139.7 138.5 139.5 142.5 137.8 143.5 137.6 144.5 137.7 147.5 136.5 148.5 135.6 151.5 134.6 152.5 134.4 156.5 131.6 158.5 130.9 160.5 129.7 162.5 127.8 164.5 126.8 166.5 126.5" stroke="#D95319" stroke-width="0.8" stroke-opacity="0.95"/>
<path d="M95.5 155.2 98.5 154.5 99.5 154.8 102.5 154.3 103.5 153.7 104.5 153.4 106.5 153.2 107.5 153.3 110.5 152.4 111.5 152 112.5 151.8 113.5 152 115.5 151.9 116.5 151.6 117.5 151 119.5 150.8 120.5 150.7 121.5 150.9 124.5 150 125.5 149.4 129.5 149.3 131.5 148.3 133.5 147.8 135.5 147.9 137.5 147.3 139.5 146.2 140.5 146.3 143.5 145.8 144.5 145.1 147.5 143.8 148.5 143.8 149.5 143.4 151.5 142.5 153.5 141 156.5 139.9 157.5 139.4 158.5 138.4 161.5 136.2 162.5 135.9 165.5 134.4 166.5 133.6" stroke="#EDB120" stroke-width="0.8" stroke-opacity="0.95"/>
<path d="M95.5 152.8 97.5 152.6 99.5 151.6 101.5 151.4 103.5 151.5 107.5 150 108.5 150.2 111.5 149.9 113.5 149 115.5 148.7 117.5 148.9 121.5 147.6 122.5 147.7 125.5 147.4 126.5 146.7 128.5 146.3 129.5 146.1 130.5 146.3 131.5 146 133.5 145.5 134.5 144.9 137.5 144.5 138.5 144.5 140.5 143.5 142.5 142.8 144.5 142.7 146.5 141.9 148.5 140.6 152.5 139.5 156.5 136.7 158.5 136 160.5 134.6 162.5 132.8 164.5 131.8 166.5 131.5" stroke="#7E2F8E" stroke-width="0.8" stroke-opacity="0.95"/>
<path d="M95.5 155.7 98.5 154.9 99.5 155 102.5 154.7 104.5 153.8 106.5 153.5 108.5 153.5 112.5 152.2 113.5 152.3 116.5 152.1 117.5 151.5 120.5 151 121.5 151.2 122.5 151 124.5 150.4 125.5 149.9 128.5 149.6 129.5 149.7 131.5 148.8 133.5 148.2 135.5 148.3 137.5 147.7 139.5 146.6 143.5 146.2 147.5 144.1 149.5 143.8 151.5 142.9 153.5 141.4 157.5 139.8 161.5 136.5 162.5 136.2 165.5 134.9 166.5 134.1" stroke="#77AC30" stroke-width="0.8" stroke-opacity="0.95"/>
<path d="M95.5 152 97.5 151.6 98.5 151.1 101.5 150.8 102.5 150.9 103.5 150.6 104.5 150.1 106.5 149.5 107.5 149.4 108.5 149.6 111.5 148.8 112.5 148.3 115.5 148.2 116.5 148.3 120.5 147 122.5 147.1 124.5 146.8 126.5 145.8 128.5 145.6 130.5 145.6 134.5 144.1 135.5 144.2 138.5 143.7 139.5 143 140.5 142.6 142.5 142.1 143.5 142.2 144.5 142 148.5 139.9 149.5 139.8 152.5 138.6 153.5 137.6 155.5 136.6 156.5 136.1 157.5 135.9 160.5 133.7 161.5 132.6 164.5 131.2 165.5 131.1 166.5 130.5" stroke="#4DBEEE" stroke-width="0.8" stroke-opacity="0.95"/>
<path d="M95.5 151.2 96.5 151.2 97.5 150.9 99.5 151.1 101.5 150.5 103.5 149.7 104.5 149.8 107.5 149.5 108.5 149 111.5 148.1 112.5 148.4 113.5 148.3 115.5 147.9 116.5 147.4 117.5 147.1 118.5 147.2 121.5 147 122.5 146.5 124.5 145.9 125.5 145.7 126.5 145.9 128.5 145.5 129.5 145.2 130.5 144.6 133.5 144.2 134.5 144.4 137.5 143.2 138.5 142.7 140.5 142.6 142.5 142.2 144.5 141 146.5 140.4 148.5 140.2 152.5 137.6 153.5 137.4 156.5 136.2 158.5 134.4 160.5 133 162.5 132.2 163.5 131.4 166.5 129.7" stroke="#A2142F" stroke-width="0.8" stroke-opacity="0.95"/>
<path d="M95.5 154.7 97.5 154.7 98.5 154.8 102.5 153.3 104.5 153.5 106.5 153.1 108.5 152.1 110.5 151.9 112.5 152.1 113.5 151.6 116.5 150.7 117.5 150.9 120.5 150.7 121.5 150.1 122.5 149.8 124.5 149.4 125.5 149.6 126.5 149.5 130.5 148.1 131.5 148.2 133.5 148 134.5 147.7 135.5 147.1 137.5 146.5 138.5 146.3 139.5 146.5 142.5 145.4 143.5 144.7 147.5 144 149.5 142.7 151.5 141.6 153.5 141.2 155.5 140 157.5 138.4 161.5 136.4 163.5 134.7 165.5 133.5 166.5 133.5" stroke="#0072BD" stroke-width="0.8" stroke-opacity="0.95"/>
<path d="M95.5 156.2 97.5 156 98.5 155.7 99.5 155.2 102.5 154.8 103.5 155 106.5 154 107.5 153.5 111.5 153.4 113.5 152.5 115.5 152.1 117.5 152.4 119.5 151.8 121.5 151 122.5 151.1 125.5 150.9 126.5 150.3 129.5 149.4 130.5 149.7 131.5 149.5 133.5 149 134.5 148.4 135.5 148.1 138.5 147.9 139.5 147.7 140.5 147 142.5 146.3 143.5 146 144.5 146.1 146.5 145.4 147.5 145 148.5 144.1 151.5 143 152.5 142.9 156.5 140.1 158.5 139.4 160.5 138.1 162.5 136.3 164.5 135.2 166.5 135" stroke="#D95319" stroke-width="0.8" stroke-opacity="0.95"/>
<path d="M95.5 148.5 97.5 148.3 98.5 148.6 99.5 148.4 102.5 147.2 103.5 147.1 104.5 147.2 106.5 147 107.5 146.7 108.5 146.1 110.5 145.7 111.5 145.6 112.5 145.9 115.5 145 116.5 144.5 120.5 144.6 122.5 143.6 124.5 143.2 126.5 143.3 128.5 142.7 130.5 141.8 134.5 141.7 135.5 141.1 138.5 140 139.5 140.1 140.5 140 142.5 139.4 144.5 138.3 148.5 137.4 149.5 136.6 152.5 135 153.5 134.9 156.5 133.3 157.5 132.3 160.5 130.5 161.5 130.2 165.5 127.3 166.5 127.1" stroke="#EDB120" stroke-width="0.8" stroke-opacity="0.95"/>
<path d="M95.5 149.4 97.5 149 99.5 148.2 103.5 148 104.5 147.5 107.5 146.6 108.5 146.8 111.5 146.3 112.5 145.7 113.5 145.5 115.5 145.3 116.5 145.6 119.5 144.8 120.5 144.3 121.5 144.2 122.5 144.4 124.5 144.1 125.5 143.8 126.5 143.2 128.5 142.8 129.5 142.7 130.5 142.9 133.5 141.9 134.5 141.3 138.5 141 140.5 140 142.5 139.3 144.5 139.3 146.5 138.4 148.5 137.1 149.5 137 152.5 136 153.5 135.1 156.5 133.2 157.5 133.1 158.5 132.5 160.5 131.1 161.5 130 162.5 129.3 164.5 128.4 166.5 128" stroke="#7E2F8E" stroke-width="0.8" stroke-opacity="0.95"/>
<path d="M95.5 153 98.5 152.8 99.5 152.2 102.5 151.5 103.5 151.8 104.5 151.6 106.5 151.1 107.5 150.5 110.5 150.1 111.5 150.2 112.5 150 113.5 149.5 115.5 149 116.5 149 117.5 149.2 120.5 148.5 121.5 147.9 124.5 147.7 125.5 147.8 129.5 146.3 131.5 146.4 133.5 146.1 135.5 145 137.5 144.7 139.5 144.6 143.5 142.8 144.5 142.8 147.5 142 149.5 140.7 151.5 139.8 152.5 139.7 153.5 139.3 157.5 136.5 158.5 136.2 160.5 135 161.5 134.4 162.5 133.3 164.5 132.1 165.5 131.7 166.5 131.8" stroke="#77AC30" stroke-width="0.8" stroke-opacity="0.95"/>
<path d="M95.5 149.6 97.5 149.2 98.5 148.7 100.5 148.8 102.5 148.6 104.5 147.7 106.5 147.2 108.5 147.4 112.5 145.9 113.5 146.1 116.5 146 117.5 145.5 120.5 144.7 121.5 145 122.5 144.9 124.5 144.4 125.5 143.8 126.5 143.5 129.5 143.4 130.5 143.2 131.5 142.7 133.5 142.1 134.5 141.9 135.5 142.1 137.5 141.5 138.5 141.2 139.5 140.5 142.5 140 143.5 140 146.5 138.6 147.5 137.9 149.5 137.6 151.5 136.8 153.5 135.2 155.5 134.3 157.5 133.7 161.5 130.3 165.5 128.8 166.5 128" stroke="#4DBEEE" stroke-width="0.8" stroke-opacity="0.95"/>
<path d="M95.5 156.4 98.5 155.7 99.5 155.9 102.5 155.4 103.5 154.8 104.5 154.6 106.5 154.3 107.5 154.5 108.5 154.3 111.5 153.1 115.5 153 116.5 152.8 117.5 152.2 119.5 151.9 120.5 151.8 121.5 152.1 124.5 151.1 125.5 150.6 129.5 150.4 131.5 149.5 133.5 149 135.5 149.1 137.5 148.4 139.5 147.4 143.5 147 144.5 146.3 147.5 144.9 148.5 144.9 149.5 144.6 151.5 143.6 153.5 142.1 156.5 141.1 157.5 140.6 158.5 139.6 161.5 137.3 162.5 137.1 165.5 135.5 166.5 134.8" stroke="#A2142F" stroke-width="0.8" stroke-opacity="0.95"/>
<path d="M95.5 146.3 98.5 145.8 99.5 146 102.5 145.3 103.5 144.7 106.5 144.4 107.5 144.5 111.5 143.1 113.5 143.3 115.5 143 117.5 142.1 119.5 141.9 121.5 142.1 125.5 140.6 126.5 140.7 129.5 140.4 131.5 139.4 133.5 139 135.5 139.1 139.5 137.4 140.5 137.5 143.5 136.9 144.5 136.1 147.5 135 148.5 135 151.5 133.5 152.5 132.6 155.5 131.4 156.5 131.1 160.5 128 162.5 127.2 166.5 124.7" stroke="#0072BD" stroke-width="0.8" stroke-opacity="0.95"/>
<path d="M95.5 157 97.5 156.8 99.5 155.9 101.5 155.7 103.5 155.8 107.5 154.2 108.5 154.4 111.5 154.1 113.5 153.2 115.5 152.9 117.5 153.1 121.5 151.8 122.5 152 125.5 151.6 126.5 151 129.5 150.3 130.5 150.5 133.5 149.7 134.5 149.1 137.5 148.7 138.5 148.7 140.5 147.7 142.5 147 144.5 146.9 146.5 146.2 148.5 144.9 152.5 143.7 156.5 140.9 158.5 140.2 160.5 138.9 162.5 137 164.5 136.1 166.5 135.7" stroke="#D95319" stroke-width="0.8" stroke-opacity="0.95"/>
<path d="M95.5 147.1 98.5 146.5 99.5 146.8 102.5 146.1 103.5 145.5 106.5 145.1 107.5 145.3 111.5 143.8 113.5 144 115.5 143.8 117.5 142.9 119.5 142.7 121.5 142.8 125.5 141.3 126.5 141.4 129.5 141.2 131.5 140.2 133.5 139.8 135.5 139.9 139.5 138.2 140.5 138.2 143.5 137.7 144.5 137 147.5 135.7 148.5 135.8 149.5 135.4 151.5 134.3 152.5 133.4 155.5 132.1 156.5 131.9 160.5 128.7 161.5 128.2 162.5 127.9 166.5 125.5" stroke="#EDB120" stroke-width="0.8" stroke-opacity="0.95"/>
<path d="M95.5 153.6 97.5 153.2 98.5 152.6 99.5 152.5 102.5 152.4 103.5 152.2 104.5 151.6 106.5 151.1 107.5 151 108.5 151.2 111.5 150.4 112.5 149.8 115.5 149.7 116.5 149.9 120.5 148.5 122.5 148.7 124.5 148.3 126.5 147.3 128.5 147.1 130.5 147.2 134.5 145.6 135.5 145.7 138.5 145.2 139.5 144.5 140.5 144.2 142.5 143.7 143.5 143.7 144.5 143.5 148.5 141.4 149.5 141.3 152.5 140.1 153.5 139.2 155.5 138.1 156.5 137.6 157.5 137.4 160.5 135.2 161.5 134.2 164.5 132.8 165.5 132.6 166.5 132.1" stroke="#7E2F8E" stroke-width="0.8" stroke-opacity="0.95"/>
<path d="M95.5 154.4 97.5 154 98.5 153.5 99.5 153.2 102.5 153.2 103.5 153 104.5 152.4 106.5 151.9 107.5 151.7 108.5 151.9 110.5 151.5 111.5 151.2 112.5 150.6 115.5 150.4 116.5 150.6 120.5 149.3 122.5 149.4 124.5 149.1 126.5 148.1 128.5 147.8 130.5 147.9 134.5 146.4 135.5 146.4 138.5 146 140.5 144.9 142.5 144.4 144.5 144.3 146.5 143.4 148.5 142.2 149.5 142.1 152.5 140.9 153.5 140 156.5 138.3 157.5 138.1 158.5 137.5 160.5 136.1 161.5 135 162.5 134.4 164.5 133.5 165.5 133.4 166.5 132.9" stroke="#77AC30" stroke-width="0.8" stroke-opacity="0.95"/>
<path d="M95.5 152.4 97.5 152.2 99.5 151.3 101.5 151 103.5 151.1 107.5 149.6 108.5 149.7 111.5 149.5 113.5 148.6 115.5 148.3 117.5 148.5 121.5 147.2 122.5 147.3 125.5 147 126.5 146.4 129.5 145.7 130.5 145.9 131.5 145.7 133.5 145.1 134.5 144.5 137.5 144.1 138.5 144.1 140.5 143.1 142.5 142.4 143.5 142.2 144.5 142.3 146.5 141.6 148.5 140.2 151.5 139.2 152.5 139.1 156.5 136.3 158.5 135.6 160.5 134.3 162.5 132.4 164.5 131.4 166.5 131.1" stroke="#4DBEEE" stroke-width="0.8" stroke-opacity="0.95"/>
<path d="M95.5 153.7 98.5 153.6 99.5 153.1 102.5 152.3 103.5 152.5 104.5 152.4 106.5 151.9 107.5 151.3 108.5 151 112.5 150.8 113.5 150.3 115.5 149.8 116.5 149.7 117.5 149.9 119.5 149.6 120.5 149.4 121.5 148.7 124.5 148.4 125.5 148.6 129.5 147.1 131.5 147.2 133.5 146.8 135.5 145.8 137.5 145.4 139.5 145.4 143.5 143.6 144.5 143.6 147.5 142.8 149.5 141.4 151.5 140.5 153.5 140 155.5 138.8 157.5 137.2 158.5 136.9 161.5 135.2 162.5 134.1 164.5 132.9 165.5 132.4 166.5 132.5" stroke="#A2142F" stroke-width="0.8" stroke-opacity="0.95"/>
<path d="M95.5 145.7 96.1 145.7 97.9 145.1 100.3 145 104.5 143.1 108.1 138.3 109.9 135.4 110.5 134.7 111.1 134.3 111.7 134.3 112.3 134.5 114.1 135.6 116.5 138.8 117.7 139.8 120.7 140.9 121.3 140.8 124.9 139.1 127.3 136.7 128.5 136.1 130.9 136.1 131.5 136.3 133.9 137.7 138.1 137.3 139.9 136.1 141.7 135.4 144.1 133.1 147.7 131 148.9 130.7 150.7 131 152.5 130.6 154.3 130.7 154.9 130.6 156.7 129.5 158.5 128.9 160.9 127 163.3 125.8 165.1 124.5 166.3 124.3" stroke="#77AC30" stroke-width="0.8" stroke-opacity="0.9"/>
<path d="M95.5 146 97.9 146.1 99.7 145.4 101.5 145.2 102.7 144.8 105.7 142.5 106.3 141.9 109.3 137.2 111.7 135.2 112.3 135.1 112.9 135.4 115.3 138.1 118.3 140.9 118.9 141.2 122.5 141.1 123.7 140.5 125.5 138.9 129.1 136.6 129.7 136.5 131.5 137.4 133.3 137.8 135.1 138.4 135.7 138.4 137.5 137.7 139.3 137.4 139.9 137.1 141.7 135.7 144.1 134.2 145.9 132.6 146.5 132.2 148.3 131.9 150.1 131.3 152.5 131.7 154.3 131 156.7 130.5 158.5 129.1 160.9 128 162.7 126.4 165.1 125.5 166.3 124.8" stroke="#E07090" stroke-width="0.8" stroke-opacity="0.9"/>
<path d="M95.5 146.6 97.3 146.8 99.1 146.1 101.5 145.9 105.1 143.8 106.3 142.5 108.7 139 110.5 137 111.7 136.1 112.3 136.2 112.9 136.5 118.3 141.6 121.9 141.9 123.1 141.4 126.7 139 127.9 137.9 128.5 137.5 129.1 137.3 132.7 138.2 134.5 139 135.1 139.1 136.9 138.5 139.3 138 141.1 136.7 143.5 135.4 145.3 133.7 145.9 133.4 149.5 132.1 151.9 132.4 153.7 131.8 156.1 131.4 157.9 130.1 160.3 129 162.1 127.4 164.5 126.4 166.3 125.3" stroke="#0072BD" stroke-width="0.8" stroke-opacity="0.9"/>
<path d="M95.5 146.2 96.7 146.1 98.5 145.5 100.3 145.5 102.7 144.5 104.5 144.1 108.7 140.6 110.5 138.8 111.1 138.5 111.7 138.5 114.7 139.3 117.1 141 117.7 141.2 119.5 141.2 121.3 141.5 123.7 140.4 125.5 139.8 127.9 138.1 131.5 137.8 133.9 138.5 136.3 138 138.1 137.9 140.5 136.6 142.3 136.1 144.7 134.3 146.5 133.7 148.3 132.7 148.9 132.5 150.7 132.5 152.5 131.7 154.9 131.3 157.3 129.8 159.1 129.1 161.5 127.1 163.3 126.3 165.1 125 166.3 124.7" stroke="#0072BD" stroke-width="0.8" stroke-opacity="0.9"/>
<rect x="158.5" y="76.5" width="68" height="34" fill="#fff" stroke="#9a9a9a" stroke-width="1"/>
<path d="M158.5 91.9 160.5 92.3 162.5 91.7 163.5 91.6 165.5 92.2 168.5 91.9 171.5 93.5 173.5 93.9 176.5 96.4 178.5 97 181.5 99 184.5 99.8 186.5 101.1 187.5 101.4 189.5 101.5 191.5 102.5 192.5 102.6 194.5 102.4 197.5 103.4 199.5 103.1 200.5 103.3 202.5 104.1 204.5 103.9 205.5 103.9 207.5 104.6 210.5 104 212.5 104.4 213.5 104.3 215.5 103.2 217.5 102.9 218.5 102.6 220.5 101.2 223.5 100.1 225.5 98.4 226.5 98" stroke="#4DBEEE" stroke-width="0.8" stroke-opacity="0.55"/>
<path d="M158.5 92.8 159.5 93.1 160.5 93.1 162.5 92.5 165.5 93 167.5 92.6 168.5 92.8 170.5 94 172.5 94.3 173.5 94.7 175.5 96.5 176.5 97.1 178.5 97.8 180.5 99.3 181.5 99.8 183.5 100.2 186.5 101.9 188.5 102.1 191.5 103.4 194.5 103.2 196.5 104.1 199.5 103.9 201.5 104.7 202.5 104.9 204.5 104.6 207.5 105.4 209.5 104.9 212.5 105.3 215.5 104.1 217.5 103.9 220.5 102 222.5 101.5 223.5 100.9 225.5 99.2 226.5 98.9" stroke="#F0B0A0" stroke-width="0.8" stroke-opacity="0.55"/>
<path d="M158.5 93.7 159.5 94 160.5 94 162.5 93.3 165.5 93.9 167.5 93.5 168.5 93.7 170.5 94.8 172.5 95.2 173.5 95.6 175.5 97.4 176.5 97.9 178.5 98.6 180.5 100.2 181.5 100.7 183.5 101 186.5 102.8 188.5 102.9 191.5 104.2 194.5 104.1 196.5 104.9 199.5 104.7 201.5 105.6 202.5 105.8 204.5 105.5 207.5 106.3 209.5 105.7 212.5 106.1 215.5 104.9 217.5 104.7 220.5 102.8 222.5 102.4 223.5 101.7 225.5 100 226.5 99.8" stroke="#9FD8F0" stroke-width="0.8" stroke-opacity="0.55"/>
<path d="M158.5 86.4 160.5 86.3 162.5 85.7 164.5 85.8 166.5 86.3 167.5 86.1 170.5 86.6 171.5 87.4 174.5 89.1 175.5 89.3 176.5 89.9 178.5 91.2 179.5 92.1 182.5 93.3 183.5 93.4 187.5 95.5 188.5 95.8 189.5 95.6 191.5 96.1 192.5 96.3 193.5 96.9 196.5 97 197.5 96.8 200.5 97.6 201.5 98.1 203.5 97.9 205.5 97.9 207.5 98.6 209.5 98.6 211.5 98 212.5 98.1 215.5 97.9 216.5 97.2 219.5 95.6 220.5 95.6 221.5 95.2 223.5 94.1 224.5 93.1 225.5 92.4 226.5 92.2" stroke="#0072BD" stroke-width="0.8" stroke-opacity="0.95"/>
<path d="M158.5 89.2 160.5 89.2 162.5 88.5 164.5 88.7 166.5 89.2 167.5 89 170.5 89.4 171.5 90.2 174.5 92 175.5 92.2 176.5 92.7 178.5 94 179.5 94.9 180.5 95.5 182.5 96.1 183.5 96.2 187.5 98.4 188.5 98.6 189.5 98.5 191.5 98.9 192.5 99.2 193.5 99.7 196.5 99.9 197.5 99.6 200.5 100.5 201.5 100.9 205.5 100.8 207.5 101.5 209.5 101.4 211.5 100.8 212.5 101 215.5 100.8 219.5 98.5 220.5 98.4 221.5 98.1 223.5 97 224.5 96 225.5 95.3 226.5 95" stroke="#D95319" stroke-width="0.8" stroke-opacity="0.95"/>
<path d="M158.5 87.7 160.5 87.8 161.5 88.1 162.5 87.7 165.5 87.3 169.5 88.5 171.5 88.7 173.5 89.8 175.5 91.5 179.5 93.2 180.5 94.1 181.5 94.6 183.5 95.6 184.5 95.6 187.5 96.7 188.5 97.5 189.5 97.8 191.5 98 192.5 97.8 193.5 98 194.5 98.4 196.5 98.9 197.5 99 198.5 98.7 200.5 99 201.5 99.3 202.5 99.8 205.5 99.9 206.5 99.6 210.5 100.4 214.5 99.2 216.5 99.1 218.5 98.2 220.5 96.8 221.5 96.6 224.5 95.3 225.5 94.4 226.5 93.9" stroke="#EDB120" stroke-width="0.8" stroke-opacity="0.95"/>
<path d="M158.5 89.4 160.5 89.2 161.5 88.8 165.5 89.4 167.5 89 169.5 89.4 171.5 90.7 175.5 92.2 176.5 93.1 179.5 95.3 180.5 95.4 183.5 96.4 185.5 97.8 187.5 98.5 188.5 98.5 189.5 98.7 190.5 99.1 193.5 100 194.5 99.8 197.5 100 198.5 100.5 201.5 101 202.5 100.7 205.5 101.2 206.5 101.7 209.5 101.5 210.5 101.1 212.5 101.4 214.5 101.3 216.5 100 218.5 99.2 220.5 98.9 222.5 97.7 224.5 96 226.5 95.4" stroke="#7E2F8E" stroke-width="0.8" stroke-opacity="0.95"/>
<path d="M158.5 90.4 161.5 90 162.5 90.4 164.5 90.4 165.5 90.5 166.5 90 167.5 90.2 169.5 90.7 170.5 91.5 174.5 92.8 176.5 94.5 178.5 95.9 179.5 96.3 180.5 96.4 182.5 97.3 184.5 98.7 187.5 99.5 188.5 99.5 190.5 100.4 192.5 101.1 194.5 100.8 196.5 101 198.5 101.8 200.5 102 202.5 101.8 203.5 102.2 206.5 102.9 207.5 102.6 210.5 102.3 211.5 102.7 214.5 102.3 215.5 101.6 216.5 101.2 218.5 100.6 219.5 100.5 220.5 100.1 224.5 97.3 225.5 97.1 226.5 96.7" stroke="#77AC30" stroke-width="0.8" stroke-opacity="0.95"/>
<path d="M158.5 85.9 160.5 85.9 162.5 85.2 164.5 85.3 166.5 85.9 167.5 85.7 170.5 86.1 174.5 88.7 175.5 88.9 178.5 90.6 180.5 92.1 182.5 92.9 184.5 93.3 185.5 94 188.5 95.4 189.5 95.2 192.5 95.8 193.5 96.3 196.5 96.6 197.5 96.4 200.5 97.1 201.5 97.6 205.5 97.4 207.5 98.1 209.5 98.1 211.5 97.5 215.5 97.4 219.5 95.1 221.5 94.7 223.5 93.7 225.5 91.9 226.5 91.7" stroke="#4DBEEE" stroke-width="0.8" stroke-opacity="0.95"/>
<path d="M158.5 89.7 160.5 89.4 161.5 89 164.5 89.3 165.5 89.6 167.5 89.3 169.5 89.6 171.5 90.9 175.5 92.4 179.5 95.5 183.5 96.7 185.5 98 187.5 98.8 189.5 98.9 193.5 100.2 194.5 100 197.5 100.2 198.5 100.7 200.5 101.1 201.5 101.3 202.5 101 205.5 101.4 206.5 101.9 209.5 101.7 210.5 101.4 212.5 101.6 214.5 101.5 215.5 101 216.5 100.3 218.5 99.5 220.5 99.2 222.5 97.9 224.5 96.2 226.5 95.6" stroke="#A2142F" stroke-width="0.8" stroke-opacity="0.95"/>
<path d="M158.5 87.1 160.5 86.9 161.5 86.4 164.5 86.7 165.5 87 167.5 86.7 169.5 87 171.5 88.3 175.5 89.8 179.5 92.9 183.5 94 185.5 95.4 187.5 96.2 189.5 96.3 193.5 97.6 194.5 97.5 197.5 97.5 198.5 98 201.5 98.7 202.5 98.4 203.5 98.5 205.5 98.8 206.5 99.2 209.5 99.1 210.5 98.8 211.5 98.7 212.5 99 214.5 98.9 215.5 98.5 216.5 97.7 218.5 96.9 219.5 96.5 220.5 96.5 223.5 94.6 224.5 93.6 226.5 93" stroke="#0072BD" stroke-width="0.8" stroke-opacity="0.95"/>
<path d="M158.5 88.4 160.5 88.2 162.5 88.7 164.5 88.5 166.5 88 168.5 88.6 170.5 89.6 171.5 89.7 172.5 90 174.5 90.9 176.5 92.7 178.5 93.9 179.5 94 180.5 94.4 184.5 96.7 185.5 96.8 187.5 97.3 188.5 97.7 189.5 98.4 191.5 98.9 192.5 99 193.5 98.7 196.5 99.3 197.5 99.8 200.5 99.9 201.5 99.8 203.5 100.5 205.5 100.9 207.5 100.5 209.5 100.5 211.5 101 213.5 100.5 215.5 99.6 216.5 99.5 219.5 98.7 223.5 96 225.5 95.3 226.5 94.8" stroke="#D95319" stroke-width="0.8" stroke-opacity="0.95"/>
<path d="M158.5 88.4 160.5 88.5 161.5 88.4 162.5 87.9 164.5 87.9 165.5 88 166.5 88.4 170.5 88.7 173.5 90.4 174.5 91.3 176.5 92.1 177.5 92.8 178.5 93.2 180.5 94.7 182.5 95.6 184.5 95.9 188.5 98.1 192.5 98.3 194.5 99.1 196.5 99.4 198.5 99.1 200.5 99.6 202.5 100.3 203.5 100.2 206.5 100.1 207.5 100.6 210.5 100.7 211.5 100.2 214.5 99.9 215.5 100 218.5 98.5 219.5 97.8 221.5 97.3 223.5 96.3 225.5 94.6 226.5 94.3" stroke="#EDB120" stroke-width="0.8" stroke-opacity="0.95"/>
<path d="M158.5 90.7 161.5 90.8 162.5 90.4 165.5 90.3 166.5 90.7 169.5 91.2 170.5 91.1 173.5 92.8 174.5 93.7 178.5 95.6 180.5 97.1 182.5 98 183.5 98.2 184.5 98.3 188.5 100.4 191.5 100.7 192.5 100.6 194.5 101.4 196.5 101.8 198.5 101.5 200.5 101.9 202.5 102.7 206.5 102.5 207.5 102.9 210.5 103.2 211.5 102.7 214.5 102.2 215.5 102.3 218.5 101 219.5 100.2 220.5 99.7 221.5 99.6 223.5 98.7 225.5 97 226.5 96.7" stroke="#7E2F8E" stroke-width="0.8" stroke-opacity="0.95"/>
<path d="M158.5 87.2 160.5 87.2 161.5 87.5 164.5 87.1 165.5 86.8 168.5 87.6 169.5 88 171.5 88.2 173.5 89.2 175.5 91 178.5 92.4 179.5 92.7 183.5 95.2 185.5 95.5 187.5 96.2 189.5 97.3 191.5 97.6 193.5 97.4 194.5 97.9 197.5 98.6 198.5 98.4 201.5 98.6 202.5 99.2 203.5 99.4 205.5 99.6 206.5 99.2 207.5 99.3 209.5 99.5 210.5 99.8 211.5 99.7 215.5 98.5 216.5 98.6 219.5 97.3 220.5 96.4 223.5 95.1 224.5 94.8 226.5 93.5" stroke="#77AC30" stroke-width="0.8" stroke-opacity="0.95"/>
<path d="M158.5 88.6 160.5 88.6 161.5 88.9 164.5 88.6 165.5 88.3 166.5 88.4 169.5 89.5 171.5 89.7 173.5 90.6 174.5 91.4 175.5 92.4 178.5 93.9 179.5 94.1 183.5 96.6 185.5 96.9 187.5 97.6 189.5 98.8 191.5 99.1 193.5 98.8 197.5 100.1 198.5 99.9 201.5 100 202.5 100.6 205.5 101 206.5 100.7 207.5 100.7 208.5 100.9 209.5 100.9 210.5 101.2 211.5 101.2 215.5 99.9 216.5 100 219.5 98.7 220.5 97.9 223.5 96.4 224.5 96.2 226.5 94.9" stroke="#4DBEEE" stroke-width="0.8" stroke-opacity="0.95"/>
<path d="M158.5 85.8 160.5 85.9 161.5 86.1 165.5 85.4 169.5 86.6 171.5 86.8 173.5 87.8 175.5 89.6 179.5 91.3 180.5 92.1 183.5 93.7 184.5 93.7 185.5 94 187.5 94.8 188.5 95.5 189.5 95.9 191.5 96.1 192.5 95.9 193.5 96.1 194.5 96.5 196.5 97 197.5 97.1 198.5 96.9 200.5 97.1 201.5 97.3 202.5 97.9 205.5 98 206.5 97.7 210.5 98.5 214.5 97.3 216.5 97.2 218.5 96.3 220.5 94.9 221.5 94.7 224.5 93.4 225.5 92.5 226.5 92" stroke="#A2142F" stroke-width="0.8" stroke-opacity="0.95"/>
<path d="M158.5 86.9 160.5 86.7 161.5 86.2 164.5 86.4 165.5 86.7 167.5 86.5 169.5 86.7 170.5 87.2 171.5 88 174.5 89.4 175.5 89.6 179.5 92.7 183.5 93.8 185.5 95.1 187.5 96 189.5 96 193.5 97.4 197.5 97.3 198.5 97.8 201.5 98.5 202.5 98.2 203.5 98.3 205.5 98.5 206.5 99 207.5 99.1 209.5 98.9 210.5 98.6 211.5 98.5 212.5 98.7 214.5 98.6 215.5 98.3 216.5 97.5 218.5 96.6 219.5 96.3 220.5 96.2 223.5 94.4 224.5 93.4 226.5 92.7" stroke="#0072BD" stroke-width="0.8" stroke-opacity="0.95"/>
<path d="M158.5 87.4 160.5 87.3 162.5 87.7 164.5 87.5 166.5 87.1 168.5 87.7 170.5 88.7 171.5 88.7 173.5 89.5 174.5 90 175.5 91 176.5 91.8 178.5 92.9 179.5 93 180.5 93.5 183.5 95.4 184.5 95.8 185.5 95.8 186.5 96.2 187.5 96.4 188.5 96.8 189.5 97.5 191.5 97.9 192.5 98 193.5 97.7 196.5 98.4 197.5 98.9 201.5 98.8 203.5 99.6 205.5 99.9 207.5 99.5 208.5 99.7 209.5 99.6 211.5 100.1 213.5 99.6 215.5 98.6 216.5 98.6 219.5 97.7 220.5 96.9 223.5 95.1 224.5 94.8 226.5 93.8" stroke="#D95319" stroke-width="0.8" stroke-opacity="0.95"/>
<path d="M158.5 86.9 160.5 86.8 162.5 87.2 166.5 86.6 170.5 88.2 171.5 88.1 173.5 89 174.5 89.5 175.5 90.6 176.5 91.3 178.5 92.4 179.5 92.5 182.5 94.2 183.5 94.9 187.5 95.9 189.5 97 191.5 97.5 192.5 97.5 193.5 97.2 196.5 98 197.5 98.4 201.5 98.3 203.5 99.1 205.5 99.5 207.5 99 208.5 99.2 209.5 99.1 211.5 99.6 213.5 99.1 215.5 98.2 216.5 98.2 219.5 97.2 220.5 96.3 223.5 94.6 224.5 94.4 226.5 93.3" stroke="#EDB120" stroke-width="0.8" stroke-opacity="0.95"/>
<path d="M158.5 86.5 160.5 86.6 161.5 86.5 162.5 86 164.5 86 165.5 86.1 166.5 86.5 170.5 86.8 173.5 88.5 174.5 89.4 176.5 90.2 177.5 90.9 178.5 91.3 180.5 92.8 182.5 93.7 184.5 94 188.5 96.2 192.5 96.4 193.5 96.9 196.5 97.5 197.5 97.2 198.5 97.2 200.5 97.7 202.5 98.4 203.5 98.2 206.5 98.2 207.5 98.7 209.5 98.8 210.5 98.8 211.5 98.3 214.5 98 215.5 98.1 218.5 96.6 219.5 95.9 221.5 95.4 223.5 94.4 225.5 92.7 226.5 92.4" stroke="#7E2F8E" stroke-width="0.8" stroke-opacity="0.95"/>
<path d="M158.5 90.3 161.5 90.3 162.5 89.9 164.5 89.8 165.5 89.8 166.5 90.3 169.5 90.7 170.5 90.6 173.5 92.3 174.5 93.2 178.5 95.1 180.5 96.6 182.5 97.5 184.5 97.8 188.5 100 192.5 100.1 194.5 101 196.5 101.3 198.5 101 200.5 101.5 202.5 102.3 206.5 102 207.5 102.5 210.5 102.6 211.5 102.2 214.5 101.8 215.5 101.9 218.5 100.5 219.5 99.7 221.5 99.1 223.5 98.2 225.5 96.5 226.5 96.2" stroke="#77AC30" stroke-width="0.8" stroke-opacity="0.95"/>
<path d="M158.5 90.1 161.5 89.5 162.5 89.8 165.5 90.1 166.5 89.7 167.5 89.7 169.5 90.2 171.5 91.4 174.5 92.4 175.5 93 176.5 93.9 179.5 95.9 180.5 96 182.5 96.8 183.5 97.3 184.5 98.1 185.5 98.5 187.5 99.1 188.5 99 192.5 100.6 194.5 100.4 196.5 100.5 198.5 101.3 200.5 101.6 202.5 101.4 206.5 102.5 210.5 101.8 212.5 102.2 214.5 101.9 216.5 100.7 218.5 100 220.5 99.6 222.5 98.3 224.5 96.7 226.5 96.2" stroke="#4DBEEE" stroke-width="0.8" stroke-opacity="0.95"/>
<path d="M158.5 89.5 160.5 89.4 162.5 89.9 166.5 89.2 170.5 90.8 171.5 90.7 173.5 91.6 174.5 92.2 175.5 93.2 176.5 93.9 178.5 95 179.5 95.1 182.5 96.8 183.5 97.6 187.5 98.5 189.5 99.7 191.5 100.1 193.5 99.8 196.5 100.6 197.5 101.1 201.5 100.9 203.5 101.8 205.5 102.1 207.5 101.6 208.5 101.8 209.5 101.8 211.5 102.2 213.5 101.7 215.5 100.8 216.5 100.8 219.5 99.8 220.5 98.9 223.5 97.3 224.5 97 226.5 95.9" stroke="#A2142F" stroke-width="0.8" stroke-opacity="0.95"/>
<path d="M158.5 88.2 160.5 88.3 162.5 87.6 164.5 87.7 166.5 88.2 167.5 88.1 170.5 88.4 173.5 90.3 174.5 91.1 176.5 91.8 178.5 93 180.5 94.5 182.5 95.3 184.5 95.6 185.5 96.3 188.5 97.8 189.5 97.7 192.5 98.1 193.5 98.6 196.5 99.1 197.5 98.8 198.5 98.9 200.5 99.4 201.5 99.9 202.5 100 205.5 99.8 206.5 100 207.5 100.4 209.5 100.5 210.5 100.4 211.5 99.9 215.5 99.8 218.5 98.2 219.5 97.5 221.5 97.1 223.5 96.1 225.5 94.3 226.5 94.1" stroke="#0072BD" stroke-width="0.8" stroke-opacity="0.95"/>
<path d="M158.5 83.1 160.9 82.5 162.7 82.6 163.3 82.5 165.7 80.9 168.1 80.5 168.7 80.5 169.3 80.8 171.7 83.5 173.5 84.5 175.3 86.2 177.7 87.4 179.5 88.7 181.9 89.5 183.7 90.7 187.3 91.5 187.9 91.4 188.5 91.1 190.3 89.1 190.9 88.7 191.5 88.6 192.1 88.8 193.3 89.8 196.3 93.4 196.9 93.7 198.7 93.8 200.5 94.5 202.9 94.5 204.1 94.8 204.7 94.9 205.3 94.6 205.9 94.1 208.3 90.3 208.9 89.6 209.5 89.2 210.1 89.4 210.7 90.1 212.5 93.4 213.1 94.2 213.7 94.5 217.3 93.8 219.7 92.4 221.5 91.9 223.9 90.2 226.3 89.2" stroke="#E8C8A0" stroke-width="0.8" stroke-opacity="0.9"/>
<path d="M158.5 83.5 159.7 83.6 161.5 83.1 163.9 82.9 166.3 81.2 166.9 81.2 168.7 81.5 169.9 82.1 172.3 84.6 174.1 85.6 176.5 87.6 178.3 88.3 180.7 89.9 182.5 90.4 184.9 91.7 187.9 91.9 188.5 91.7 189.1 91.4 190.9 89.4 191.5 89.2 192.1 89.5 195.7 93.3 196.9 94.3 197.5 94.5 199.3 94.5 201.7 95.3 203.5 95.1 205.3 95.3 205.9 94.9 206.5 94.2 208.3 90.9 208.9 90.3 209.5 90.2 210.1 90.5 210.7 91.1 213.1 94.6 213.7 95.1 214.3 95.2 216.1 94.5 218.5 93.9 220.3 92.7 222.7 91.9 224.5 90.4 226.3 89.8" stroke="#F0A0B0" stroke-width="0.8" stroke-opacity="0.9"/>
<path d="M158.5 83.9 160.9 84.1 161.5 84 162.7 83.5 165.1 82.9 166.9 81.7 167.5 81.6 168.1 81.8 171.1 83.8 173.5 86.2 175.9 87.4 177.7 89 180.1 89.9 181.9 91.1 183.7 91.5 185.5 92.5 186.7 92.8 189.1 91.8 191.5 90.1 192.1 90.1 192.7 90.5 194.5 93 195.7 94 198.7 95.4 200.5 95.3 202.9 96.1 205.3 95.6 206.5 94.9 208.9 91 209.5 90.7 210.1 91.1 211.9 94 212.5 94.6 213.7 95.4 214.9 95.7 215.5 95.7 217.9 94.4 219.7 94 221.5 92.8 223.9 91.7 225.7 90.3 226.3 90.1" stroke="#C0C0E0" stroke-width="0.8" stroke-opacity="0.9"/>
<path d="M158.5 84.2 160.9 83.7 162.7 83.9 163.3 83.8 165.7 82.8 168.7 82.6 169.3 82.9 171.1 84.6 173.5 85.8 175.3 87.3 177.7 88.5 179.5 89.9 181.9 90.6 183.7 91.8 186.1 92.3 187.9 93.2 188.5 93.1 190.3 92.2 191.5 92.2 193.9 93.2 196.3 94.9 198.7 94.9 200.5 95.6 202.9 95.6 204.7 96.1 205.9 95.8 208.9 93.6 209.5 93.3 210.1 93.4 210.7 93.7 212.5 95.6 213.1 95.9 213.7 95.9 215.5 95.2 217.3 94.9 219.7 93.5 221.5 93 223.9 91.3 226.3 90.3" stroke="#0072BD" stroke-width="0.8" stroke-opacity="0.9"/>
<line x1="119.9" y1="87.3" x2="128.7" y2="119.5" stroke="#333" stroke-width="0.8"/>
<line x1="130.1" y1="87.3" x2="158.5" y2="97.8" stroke="#333" stroke-width="0.8"/>
<text x="113.6" y="84.6" font-size="9" text-anchor="start" textLength="20.3" lengthAdjust="spacingAndGlyphs" >Noise</text>
<line x1="146.9" y1="162.3" x2="163.7" y2="170.2" stroke="#222" stroke-width="0.8"/>
<polygon points="168.7,172.5 162.8,172.2 164.7,168.2" fill="#111"/>
<line x1="214.8" y1="110.5" x2="227.5" y2="157.5" stroke="#222" stroke-width="0.8"/>
<polygon points="228.9,162.8 225.3,158.1 229.6,156.9" fill="#111"/>
<text x="74.1" y="11.6" font-size="10" text-anchor="start" textLength="131" lengthAdjust="spacingAndGlyphs" >Raw NIR Spectroscopy-Grade 1</text>
<text x="103.6" y="216.1" font-size="10" text-anchor="start" textLength="79" lengthAdjust="spacingAndGlyphs" >Wavenumber(cm<tspan font-size="6.5" dy="-3.2">-1</tspan><tspan dy="3.2">)</tspan></text>
<text x="131.1" y="230.2" font-size="10" text-anchor="start" textLength="11.1" lengthAdjust="spacingAndGlyphs" >(a)</text>
<text transform="translate(10.7 107.7) rotate(-90)" font-size="10" text-anchor="middle" textLength="88" lengthAdjust="spacingAndGlyphs">Absorbance(log(1/R))</text>
<path d="M444.5 175.4 446.5 174.8 448.5 173.5 450 172 451.5 170 453.5 166.2 457.5 155 459.5 150.8 461.5 147.8 462.5 146.8 463.5 146.1 464.2 145.9 465.5 146.1 467 147.4 470.5 153.1 472.5 155.6 476.5 158.8 485 164.9 487.5 167.4 488.5 168.2 489.5 168.3 492.5 161.9 493 161.5 493.5 161.8 494.5 163.4 495 163.8 495.5 163.7 496.5 162.7 497.3 162.4 499.5 165.5 500.5 165.9 503.5 166 505.5 166.6 507.5 167.5 508.5 166.8 509.3 163.4 509.5 161.7 510.5 147 512.5 100 513.5 81.7 514.5 70.2 515.3 67.2 515.5 67.6 516.3 73.4 518.8 106.3 519.5 112.8 520.5 118.8 521.5 121.9 522.5 124 523.5 124.2 524.5 122.2 525.5 122.2 530.5 137.2 534.5 144.7 535.5 146" stroke="#D95319" stroke-width="0.65"/>
<path d="M444.5 175.5 446.5 175 448.5 173.8 450 172.5 451.5 170.6 453.5 167.2 457.5 156.9 459.5 153 461.5 150.4 462.5 149.4 464.2 148.6 465.5 148.8 467 149.9 470.5 155.2 472.5 157.4 476.5 160.4 485 165.9 487.5 168.2 488.5 168.9 489.5 169 492.5 163.3 493 162.9 493.5 163.1 494.5 164.6 495 164.9 495.5 164.8 496.5 163.9 497.3 163.6 499.5 166.5 500.5 166.9 503.5 167 505.5 167.5 507.5 168.3 508.5 167.7 509.3 164.6 509.5 163 510.5 149.6 512.5 106.7 513.5 90 514.5 79.5 515.3 76.7 515.5 77.1 516.3 82.4 518.8 112.4 519.5 118.3 520.5 123.9 521.5 126.7 522.5 128.7 523.5 128.4 524.5 125.4 525.5 124.6 530.5 138.8 534.5 146 535.5 147.2" stroke="#4DBEEE" stroke-width="0.65"/>
<path d="M444.5 174.8 446.5 173.9 448.5 172.2 450 170.1 451.5 167.3 453.5 162.1 457.5 146.6 459.5 140.7 461.5 136.7 462.5 135.2 463.5 134.3 464.2 133.9 465.5 134.2 467 136 470.5 143.9 472.5 147.4 476.5 151.9 485 160.2 487.5 163.7 488.5 164.8 489.3 165.1 489.5 164.9 492.5 156.2 493 155.6 493.5 156 494.5 158.1 495 158.7 495.5 158.5 496.5 157.2 497.3 156.8 499.5 161.1 500.5 161.7 502.5 161.6 503.5 161.8 505.5 162.6 506.5 163.4 507.5 163.8 508.5 162.8 509.3 158.2 509.5 155.8 510.5 135.5 512.5 70.5 513.5 45.3 514.5 29.4 515.3 25.2 515.5 25.8 516.3 33.8 518.8 79.2 519.5 88.2 520.5 96.5 521.5 100.8 522.2 102.9 524.5 108.1 530.3 129.5 531.5 132.6 534.5 139 535.5 140.5" stroke="#A2142F" stroke-width="0.65"/>
<path d="M444.5 174.8 446.5 174 448.5 172.3 450 170.3 451.5 167.6 453.5 162.4 457.5 147.3 459.5 141.6 461.5 137.7 462.5 136.3 463.5 135.3 464.2 135 465.5 135.3 467 137 470.5 144.7 472.5 148.1 476.5 152.5 485 160.6 487.5 164.1 488.5 165.1 489.3 165.4 489.5 165.2 492.5 156.7 493 156.1 493.5 156.5 494.5 158.6 495 159.2 495.5 159 496.5 157.7 497.3 157.3 499.5 161.5 500.5 162.1 502.5 162 503.5 162.2 505.5 162.9 506.5 163.7 507.5 164.2 508.5 163.2 509.3 158.7 509.5 156.3 510.5 136.6 512.5 73.2 513.5 48.6 514.5 33.1 515.3 29 515.5 29.6 516.3 37.4 518.8 81.7 519.5 90.4 520.5 98.6 521.5 102.7 522.5 105.6 524.5 109.3 530.3 130.2 531.5 133.2 534.5 139.5 535.5 141" stroke="#EDB120" stroke-width="0.65"/>
<path d="M444.5 174.9 446.5 174.1 448.5 172.5 450 170.5 451.5 167.9 453.5 163 457.5 148.5 459.5 143 461.5 139.2 462.5 137.9 463.5 137 464.2 136.7 465.5 136.9 467 138.6 470.5 146 472.5 149.2 476.5 153.4 485 161.3 487.5 164.6 488.5 165.6 489.3 165.8 489.5 165.7 492.5 157.5 493 156.9 493.5 157.3 494.5 159.3 495 159.9 495.5 159.7 496.5 158.4 497.3 158 499.5 162.1 500.5 162.6 502.5 162.6 503.5 162.8 505.5 163.5 506.5 164.2 507.5 164.7 508.5 163.7 509.3 159.4 509.5 157.1 510.5 138.1 512.5 77.2 513.5 53.6 514.5 38.6 515.3 34.8 515.5 35.3 516.3 42.8 518.8 85.4 519.5 93.8 520.5 101.6 521.5 105.6 522.5 108.4 524.5 111.3 525.5 114.2 529.5 128.7 530.5 131.7 534.5 140.3 535.5 141.7" stroke="#7E2F8E" stroke-width="0.65"/>
<path d="M444.5 175.3 446.5 174.6 448.5 173.3 450 171.8 451.5 169.7 453.5 165.7 457.5 153.8 459.5 149.4 461.5 146.3 462.5 145.2 463.5 144.5 464.2 144.2 465.5 144.5 467 145.8 470.5 151.8 472.5 154.5 476.5 157.9 485 164.2 487.5 166.9 488.5 167.7 489.5 167.8 492.5 161.2 493 160.7 493.5 161 494.5 162.7 495 163.1 495.5 163 496.5 161.9 497.3 161.6 499.5 164.9 500.5 165.3 503.5 165.5 505.5 166 507.5 167 508.5 166.2 509.3 162.7 509.5 160.9 510.5 145.4 512.5 95.9 513.5 76.8 514.5 64.6 515.3 61.5 515.5 61.9 516.3 68 518.8 102.6 519.5 109.4 520.5 115.8 521.5 119 522.5 121.3 523.5 121.7 524.5 120.3 525.5 120.8 530.5 136.2 534.5 143.9 535.5 145.2" stroke="#77AC30" stroke-width="0.65"/>
<path d="M444.5 175.1 446.5 174.4 448.5 173 450 171.2 451.5 168.9 453.5 164.5 457.5 151.5 459.5 146.7 461.5 143.3 462.5 142.1 463.5 141.3 464.2 141 465.5 141.2 467 142.7 470.5 149.3 472.5 152.2 476.5 156 485 163 487.5 165.9 488.5 166.8 489.3 167 489.5 166.9 492.5 159.6 493 159.1 493.5 159.4 494.5 161.2 495 161.7 495.5 161.6 496.5 160.4 497.3 160.1 499.5 163.7 500.5 164.2 503.5 164.3 505.5 164.9 507.5 166 508.5 165.2 509.3 161.3 509.5 159.3 510.5 142.3 512.5 87.9 513.5 66.8 514.5 53.5 515.3 50 515.5 50.5 516.3 57.2 518.8 95.2 519.5 102.7 520.5 109.7 521.5 113.2 522.5 115.8 523.5 116.7 524.5 116.4 525.5 118 530.3 133.8 531.5 136.6 534.5 142.4 535.5 143.7" stroke="#7E2F8E" stroke-width="0.65"/>
<path d="M444.5 175.2 446.5 174.4 448.5 173 450 171.3 451.5 169 453.5 164.7 457.5 151.9 459.5 147.1 461.5 143.8 462.5 142.6 463.5 141.8 464.2 141.5 465.5 141.8 467 143.2 470.5 149.7 472.5 152.6 476.5 156.3 485 163.2 487.5 166.1 488.5 166.9 489.3 167.2 489.5 167.1 492.5 159.8 493 159.4 493.5 159.7 494.5 161.5 495 162 495.5 161.8 496.5 160.7 497.3 160.3 499.5 163.9 500.5 164.4 503.5 164.5 505.5 165.1 507.5 166.2 508.5 165.3 509.3 161.5 509.5 159.5 510.5 142.8 512.5 89.2 513.5 68.5 514.5 55.4 515.3 51.9 515.5 52.4 516.3 59 518.8 96.4 519.5 103.8 520.5 110.7 521.5 114.2 522.5 116.7 523.5 117.5 524.5 117.1 525.5 118.5 530.3 134.1 531.5 136.9 534.5 142.6 535.5 144" stroke="#D95319" stroke-width="0.65"/>
<path d="M444.5 174.9 446.5 174 448.5 172.3 450 170.4 451.5 167.7 453.5 162.6 457.5 147.7 459.5 142.1 461.5 138.2 462.5 136.8 463.5 135.9 464.2 135.6 465.5 135.9 467 137.6 470.5 145.2 472.5 148.5 476.5 152.8 485 160.8 487.5 164.2 488.5 165.2 489.3 165.5 489.5 165.4 492.5 157 493 156.4 493.5 156.8 494.5 158.8 495 159.4 495.5 159.2 496.5 157.9 497.3 157.5 499.5 161.7 500.5 162.2 502.5 162.2 503.5 162.4 505.5 163.1 506.5 163.9 507.5 164.3 508.5 163.4 509.3 158.9 509.5 156.6 510.5 137.1 512.5 74.5 513.5 50.3 514.5 34.9 515.3 30.9 515.5 31.5 516.3 39.2 518.8 82.9 519.5 91.5 520.5 99.6 521.5 103.6 522.5 106.6 524.5 110 530.3 130.5 531.5 133.5 534.5 139.8 535.5 141.2" stroke="#77AC30" stroke-width="0.65"/>
<path d="M444.5 175.3 446.5 174.6 448.5 173.3 450 171.7 451.5 169.5 453.5 165.5 457.5 153.5 459.5 148.9 461.5 145.8 462.5 144.7 463.5 144 464.2 143.7 465.5 143.9 467 145.3 470.5 151.4 472.5 154.1 476.5 157.6 485 164 487.5 166.7 488.5 167.6 489.3 167.8 489.5 167.7 492.5 160.9 493 160.4 493.5 160.7 494.5 162.4 495 162.9 495.5 162.7 496.5 161.7 497.3 161.3 499.5 164.7 500.5 165.1 503.5 165.3 505.5 165.9 507.5 166.8 508.5 166 509.3 162.5 509.5 160.6 510.5 144.9 512.5 94.6 513.5 75.1 514.5 62.8 515.3 59.6 515.5 60 516.3 66.2 518.8 101.4 519.5 108.3 520.5 114.7 521.5 118 522.5 120.4 523.5 120.8 524.5 119.6 525.5 120.4 530.5 135.9 534.5 143.7 535.5 145" stroke="#EDB120" stroke-width="0.65"/>
<path d="M444.5 175.5 446.5 174.9 448.5 173.7 450 172.3 451.5 170.4 453.5 166.8 457.5 156.1 459.5 152.1 461.5 149.3 462.5 148.4 463.5 147.7 464.2 147.5 465.5 147.7 467 148.9 470.5 154.3 472.5 156.7 476.5 159.8 485 165.5 487.5 167.9 488.5 168.6 489.5 168.7 492.5 162.7 493 162.3 493.5 162.6 494.5 164.1 495 164.5 495.5 164.3 496.5 163.4 497.3 163.1 499.5 166.1 500.5 166.5 503.5 166.6 505.5 167.1 507.5 168 508.5 167.3 509.3 164.1 509.5 162.5 510.5 148.6 512.5 104 513.5 86.7 514.5 75.8 515.3 72.9 515.5 73.3 516.3 78.8 518.8 110 519.5 116.1 520.5 121.8 521.5 124.7 522.5 126.8 523.5 126.7 524.5 124.1 525.5 123.6 530.5 138.2 534.5 145.5 535.5 146.7" stroke="#0072BD" stroke-width="0.65"/>
<path d="M444.5 175.1 446.5 174.3 448.5 172.8 450 171 451.5 168.6 453.5 164 457.5 150.4 459.5 145.3 461.5 141.7 462.5 140.5 463.5 139.6 464.2 139.4 465.5 139.6 467 141.2 470.5 148.1 472.5 151.1 476.5 155 485 162.3 487.5 165.4 488.5 166.3 489.3 166.6 489.5 166.4 492.5 158.8 493 158.3 493.5 158.6 494.5 160.5 495 161 495.5 160.9 496.5 159.7 497.3 159.3 499.5 163.1 500.5 163.6 502.5 163.6 503.5 163.7 505.5 164.4 507.5 165.5 508.5 164.6 509.3 160.6 509.5 158.4 510.5 140.7 512.5 83.9 513.5 61.9 514.5 47.9 515.3 44.3 515.5 44.8 516.3 51.8 518.8 91.5 519.5 99.4 520.5 106.7 521.5 110.4 522.5 113 523.5 114.2 524.5 114.5 525.5 116.6 530.5 133.3 534.5 141.6 535.5 143" stroke="#EDB120" stroke-width="0.65"/>
<path d="M444.5 175.1 446.5 174.4 448.5 172.9 450 171.1 451.5 168.8 453.5 164.3 457.5 151.2 459.5 146.2 461.5 142.7 462.5 141.5 463.5 140.7 464.2 140.4 465.5 140.7 467 142.2 470.5 148.9 472.5 151.8 476.5 155.7 485 162.8 487.5 165.7 488.5 166.6 489.3 166.9 489.5 166.8 492.5 159.3 493 158.8 493.5 159.1 494.5 161 495 161.5 495.5 161.3 496.5 160.2 497.3 159.8 499.5 163.5 500.5 164 502.5 164 503.5 164.1 505.5 164.8 507.5 165.8 508.5 165 509.3 161.1 509.5 159 510.5 141.8 512.5 86.6 513.5 65.2 514.5 51.6 515.3 48.1 515.5 48.6 516.3 55.4 518.8 94 519.5 101.6 520.5 108.7 521.5 112.3 522.5 114.8 523.5 115.8 524.5 115.8 525.5 117.5 530.3 133.4 531.5 136.2 534.5 142.1 535.5 143.5" stroke="#0072BD" stroke-width="0.65"/>
<path d="M444.5 174.8 446.5 173.9 448.5 172.2 450 170.2 451.5 167.5 453.5 162.3 457.5 146.9 459.5 141.2 461.5 137.2 462.5 135.8 463.5 134.8 464.2 134.5 465.5 134.8 467 136.5 470.5 144.3 472.5 147.7 476.5 152.2 485 160.4 487.5 163.9 488.5 164.9 489.3 165.2 489.5 165.1 492.5 156.4 493 155.8 493.5 156.2 494.5 158.4 495 159 495.5 158.8 496.5 157.4 497.3 157 499.5 161.3 500.5 161.9 502.5 161.8 503.5 162 505.5 162.8 506.5 163.5 507.5 164 508.5 163 509.3 158.5 509.5 156 510.5 136 512.5 71.8 513.5 47 514.5 31.2 515.3 27.1 515.5 27.7 516.3 35.6 518.8 80.5 519.5 89.3 520.5 97.5 521.5 101.7 522.5 104.7 524.5 108.7 530.3 129.9 531.5 132.9 534.5 139.2 535.5 140.7" stroke="#D95319" stroke-width="0.65"/>
<path d="M444.5 175.2 446.5 174.5 448.5 173.1 450 171.4 451.5 169.2 453.5 164.9 457.5 152.3 459.5 147.6 461.5 144.3 462.5 143.1 463.5 142.3 464.2 142.1 465.5 142.3 467 143.8 470.5 150.2 472.5 153 476.5 156.6 485 163.4 487.5 166.2 488.5 167.1 489.3 167.3 489.5 167.2 492.5 160.1 493 159.6 493.5 159.9 494.5 161.7 495 162.2 495.5 162 496.5 160.9 497.3 160.6 499.5 164.1 500.5 164.6 503.5 164.7 505.5 165.3 507.5 166.3 508.5 165.5 509.3 161.8 509.5 159.8 510.5 143.4 512.5 90.6 513.5 70.1 514.5 57.2 515.3 53.8 515.5 54.3 516.3 60.8 518.8 97.7 519.5 104.9 520.5 111.7 521.5 115.1 522.5 117.6 523.5 118.3 524.5 117.7 525.5 118.9 530.3 134.4 531.5 137.2 534.5 142.9 535.5 144.2" stroke="#7E2F8E" stroke-width="0.65"/>
<path d="M444.5 175.3 446.5 174.7 448.5 173.4 450 171.8 451.5 169.8 453.5 165.8 457.5 154.2 459.5 149.9 461.5 146.8 462.5 145.7 463.5 145 464.2 144.8 465.5 145 467 146.3 470.5 152.2 472.5 154.8 476.5 158.2 485 164.4 487.5 167.1 488.5 167.9 489.5 168 492.5 161.4 493 161 493.5 161.3 494.5 162.9 495 163.3 495.5 163.2 496.5 162.2 497.3 161.9 499.5 165.1 500.5 165.5 503.5 165.7 505.5 166.2 507.5 167.2 508.5 166.4 509.3 163 509.5 161.1 510.5 146 512.5 97.3 513.5 78.4 514.5 66.5 515.3 63.4 515.5 63.8 516.3 69.8 518.8 103.8 519.5 110.5 520.5 116.8 521.5 119.9 522.5 122.2 523.5 122.5 524.5 120.9 525.5 121.3 530.5 136.5 534.5 144.2 535.5 145.5" stroke="#0072BD" stroke-width="0.65"/>
<path d="M444.5 175.5 446.5 174.9 448.5 173.8 450 172.4 451.5 170.5 453.5 167 457.5 156.5 459.5 152.6 461.5 149.9 462.5 148.9 463.5 148.3 464.2 148 465.5 148.2 467 149.4 470.5 154.7 472.5 157.1 476.5 160.1 485 165.7 487.5 168.1 488.5 168.8 489.5 168.9 492.5 163 493 162.6 493.5 162.9 494.5 164.3 495 164.7 495.5 164.6 496.5 163.7 497.3 163.4 499.5 166.3 500.5 166.7 503.5 166.8 505.5 167.3 507.5 168.2 508.5 167.5 509.3 164.4 509.5 162.7 510.5 149.1 512.5 105.3 513.5 88.4 514.5 77.6 515.3 74.8 515.5 75.2 516.3 80.6 518.8 111.2 519.5 117.2 520.5 122.8 521.5 125.7 522.5 127.7 523.5 127.5 524.5 124.8 525.5 124.1 530.5 138.5 534.5 145.8 535.5 147" stroke="#4DBEEE" stroke-width="0.65"/>
<path d="M444.5 174.7 446.5 173.8 448.5 172.1 450 170 451.5 167.2 453.5 161.9 457.5 146.2 459.5 140.3 461.5 136.1 462.5 134.7 463.5 133.7 464.2 133.4 465.5 133.7 467 135.5 470.5 143.5 472.5 147 476.5 151.5 485 160 487.5 163.6 488.5 164.6 489.3 164.9 489.5 164.8 492.5 155.9 493 155.3 493.5 155.7 494.5 157.9 495 158.5 495.5 158.3 496.5 156.9 497.3 156.5 499.5 160.9 500.5 161.5 502.5 161.4 503.5 161.6 505.5 162.4 506.5 163.2 507.5 163.7 508.5 162.7 509.3 158 509.5 155.5 510.5 135 512.5 69.1 513.5 43.6 514.5 27.5 515.3 23.3 515.5 23.9 516.3 32 518.8 78 519.5 87.1 520.5 95.5 521.5 99.8 522.2 102 524.5 107.4 526.5 115.4 530.3 129.2 531.5 132.3 534.5 138.7 535.5 140.2" stroke="#8A9A30" stroke-width="0.65"/>
<path d="M444.5 175.4 446.5 174.8 448.5 173.6 450 172.1 451.5 170.1 453.5 166.4 457.5 155.4 459.5 151.2 461.5 148.3 462.5 147.3 463.5 146.6 464.2 146.4 465.5 146.6 467 147.9 470.5 153.5 472.5 155.9 476.5 159.1 485 165.1 487.5 167.6 488.5 168.3 489.5 168.4 492.5 162.2 493 161.8 493.5 162.1 494.5 163.6 495 164 495.5 163.9 496.5 162.9 497.3 162.6 499.5 165.7 500.5 166.1 503.5 166.2 505.5 166.8 507.5 167.7 508.5 166.9 509.3 163.7 509.5 161.9 510.5 147.5 512.5 101.3 513.5 83.4 514.5 72.1 515.3 69.1 515.5 69.5 516.3 75.2 518.8 107.5 519.5 113.9 520.5 119.8 521.5 122.8 522.5 125 523.5 125 524.5 122.9 525.5 122.7 530.5 137.5 534.5 145 535.5 146.2" stroke="#7E2F8E" stroke-width="0.65"/>
<path d="M444.5 175.5 446.5 174.8 448.5 173.6 450 172.2 451.5 170.3 453.5 166.6 457.5 155.8 459.5 151.7 461.5 148.8 462.5 147.8 463.5 147.2 464.2 146.9 465.5 147.2 467 148.4 470.5 153.9 472.5 156.3 476.5 159.5 485 165.3 487.5 167.7 488.5 168.5 489.5 168.6 492.5 162.5 493 162.1 493.5 162.3 494.5 163.8 495 164.3 495.5 164.1 496.5 163.2 497.3 162.9 499.5 165.9 500.5 166.3 503.5 166.4 505.5 166.9 507.5 167.8 508.5 167.1 509.3 163.9 509.5 162.2 510.5 148.1 512.5 102.6 513.5 85 514.5 73.9 515.3 71 515.5 71.4 516.3 77 518.8 108.7 519.5 115 520.5 120.8 521.5 123.8 522.5 125.9 523.5 125.9 524.5 123.5 525.5 123.2 530.5 137.8 534.5 145.3 535.5 146.5" stroke="#A2142F" stroke-width="0.65"/>
<path d="M444.5 175 446.5 174.2 448.5 172.6 450 170.7 451.5 168.2 453.5 163.4 457.5 149.2 459.5 143.9 461.5 140.2 462.5 138.9 463.5 138 464.2 137.7 465.5 138 467 139.6 470.5 146.8 472.5 150 476.5 154.1 485 161.7 487.5 164.9 488.5 165.9 489.3 166.1 489.5 166 492.5 158 493 157.5 493.5 157.8 494.5 159.8 495 160.3 495.5 160.2 496.5 158.9 497.3 158.5 499.5 162.5 500.5 163 502.5 163 503.5 163.2 505.5 163.9 506.5 164.6 507.5 165 508.5 164.1 509.3 159.9 509.5 157.6 510.5 139.2 512.5 79.9 513.5 56.9 514.5 42.4 515.3 38.6 515.5 39.1 516.3 46.4 518.8 87.8 519.5 96 520.5 103.6 521.5 107.5 522.5 110.2 523.5 111.7 524.5 112.6 525.5 115.2 529.5 129.3 530.5 132.3 534.5 140.8 535.5 142.2" stroke="#7E2F8E" stroke-width="0.65"/>
<path d="M444.5 175.2 446.5 174.5 448.5 173.1 450 171.5 451.5 169.3 453.5 165.1 457.5 152.7 459.5 148 461.5 144.8 462.5 143.6 463.5 142.9 464.2 142.6 465.5 142.9 467 144.3 470.5 150.6 472.5 153.3 476.5 156.9 485 163.6 487.5 166.4 488.5 167.2 489.3 167.5 489.5 167.4 492.5 160.4 493 159.9 493.5 160.2 494.5 161.9 495 162.4 495.5 162.3 496.5 161.2 497.3 160.8 499.5 164.3 500.5 164.8 503.5 164.9 505.5 165.5 507.5 166.5 508.5 165.7 509.3 162 509.5 160.1 510.5 143.9 512.5 91.9 513.5 71.8 514.5 59.1 515.3 55.7 515.5 56.2 516.3 62.6 518.8 98.9 519.5 106.1 520.5 112.7 521.5 116.1 522.5 118.5 523.5 119.2 524.5 118.4 525.5 119.4 530.3 134.8 531.5 137.5 534.5 143.2 535.5 144.5" stroke="#A2142F" stroke-width="0.65"/>
<path d="M444.5 175 446.5 174.2 448.5 172.6 450 170.8 451.5 168.3 453.5 163.6 457.5 149.6 459.5 144.4 461.5 140.7 462.5 139.4 463.5 138.6 464.2 138.3 465.5 138.6 467 140.1 470.5 147.2 472.5 150.4 476.5 154.4 485 161.9 487.5 165.1 488.5 166 489.3 166.3 489.5 166.1 492.5 158.3 493 157.7 493.5 158.1 494.5 160 495 160.6 495.5 160.4 496.5 159.2 497.3 158.8 499.5 162.7 500.5 163.2 502.5 163.2 503.5 163.4 505.5 164 507.5 165.2 508.5 164.3 509.3 160.1 509.5 157.9 510.5 139.7 512.5 81.2 513.5 58.6 514.5 44.2 515.3 40.5 515.5 41 516.3 48.2 518.8 89.1 519.5 97.1 520.5 104.6 521.5 108.4 522.5 111.2 523.5 112.5 524.5 113.2 525.5 115.6 530.5 132.7 534.5 141.1 535.5 142.5" stroke="#A2142F" stroke-width="0.65"/>
<path d="M444.5 175.4 446.5 174.7 448.5 173.4 450 171.9 451.5 169.9 453.5 166 457.5 154.6 459.5 150.3 461.5 147.3 462.5 146.3 463.5 145.6 464.2 145.3 465.5 145.5 467 146.8 470.5 152.7 472.5 155.2 476.5 158.5 485 164.7 487.5 167.2 488.5 168 489.5 168.1 492.5 161.7 493 161.2 493.5 161.5 494.5 163.1 495 163.6 495.5 163.4 496.5 162.4 497.3 162.1 499.5 165.3 500.5 165.7 503.5 165.8 505.5 166.4 507.5 167.3 508.5 166.6 509.3 163.2 509.5 161.4 510.5 146.5 512.5 98.6 513.5 80.1 514.5 68.3 515.3 65.3 515.5 65.7 516.3 71.6 518.8 105.1 519.5 111.6 520.5 117.8 521.5 120.9 522.5 123.1 523.5 123.4 524.5 121.6 525.5 121.8 530.5 136.9 534.5 144.5 535.5 145.7" stroke="#7E2F8E" stroke-width="0.65"/>
<path d="M444.5 175.3 446.5 174.6 448.5 173.2 450 171.6 451.5 169.4 453.5 165.3 457.5 153.1 459.5 148.5 461.5 145.3 462.5 144.2 463.5 143.4 464.2 143.2 465.5 143.4 467 144.8 470.5 151 472.5 153.7 476.5 157.2 485 163.8 487.5 166.6 488.5 167.4 489.3 167.6 489.5 167.5 492.5 160.6 493 160.2 493.5 160.5 494.5 162.2 495 162.6 495.5 162.5 496.5 161.4 497.3 161.1 499.5 164.5 500.5 165 503.5 165.1 505.5 165.7 507.5 166.7 508.5 165.9 509.3 162.3 509.5 160.3 510.5 144.4 512.5 93.3 513.5 73.5 514.5 60.9 515.3 57.7 515.5 58.1 516.3 64.4 518.8 100.1 519.5 107.2 520.5 113.7 521.5 117.1 522.5 119.4 523.5 120 524.5 119 525.5 119.9 530.5 135.6 534.5 143.4 535.5 144.7" stroke="#D95319" stroke-width="0.65"/>
<path d="M444.5 175.6 446.5 175 448.5 173.9 450 172.5 451.5 170.8 453.5 167.3 457.5 157.3 459.5 153.5 461.5 150.9 462.5 149.9 464.2 149.1 465.5 149.3 467 150.5 470.5 155.6 472.5 157.8 476.5 160.7 485 166.1 487.5 168.4 488.5 169.1 489.5 169.2 492.5 163.5 493 163.1 493.5 163.4 494.5 164.8 495 165.2 495.5 165 496.5 164.2 497.3 163.9 499.5 166.7 500.5 167.1 503.5 167.2 505.5 167.7 507.5 168.5 508.5 167.8 509.3 164.9 509.5 163.3 510.5 150.1 512.5 108 513.5 91.7 514.5 81.3 515.3 78.7 515.5 79 516.3 84.2 518.8 113.7 519.5 119.5 520.5 124.9 521.5 127.6 522.5 129.6 523.5 129.2 524.5 126.1 525.5 125.1 530.5 139.1 534.5 146.3 535.5 147.5" stroke="#0072BD" stroke-width="0.65"/>
<path d="M444.5 174.9 446.5 174 448.5 172.4 450 170.4 451.5 167.8 453.5 162.8 457.5 148.1 459.5 142.5 461.5 138.7 462.5 137.3 463.5 136.4 464.2 136.1 465.5 136.4 467 138.1 470.5 145.6 472.5 148.9 476.5 153.1 485 161.1 487.5 164.4 488.5 165.4 489.3 165.7 489.5 165.5 492.5 157.2 493 156.7 493.5 157 494.5 159.1 495 159.7 495.5 159.5 496.5 158.2 497.3 157.8 499.5 161.9 500.5 162.4 502.5 162.4 503.5 162.6 505.5 163.3 506.5 164 507.5 164.5 508.5 163.5 509.3 159.2 509.5 156.8 510.5 137.6 512.5 75.8 513.5 51.9 514.5 36.8 515.3 32.8 515.5 33.4 516.3 41 518.8 84.1 519.5 92.7 520.5 100.6 521.5 104.6 522.5 107.5 524.5 110.6 530.5 131.4 534.5 140 535.5 141.5" stroke="#0072BD" stroke-width="0.65"/>
<path d="M444.5 174.9 446.5 174.1 448.5 172.5 450 170.6 451.5 168.1 453.5 163.2 457.5 148.9 459.5 143.5 461.5 139.7 462.5 138.4 463.5 137.5 464.2 137.2 465.5 137.5 467 139.1 470.5 146.4 472.5 149.6 476.5 153.8 485 161.5 487.5 164.7 488.5 165.7 489.3 166 489.5 165.8 492.5 157.7 493 157.2 493.5 157.6 494.5 159.6 495 160.1 495.5 159.9 496.5 158.7 497.3 158.3 499.5 162.3 500.5 162.8 502.5 162.8 503.5 163 505.5 163.7 506.5 164.4 507.5 164.8 508.5 163.9 509.3 159.7 509.5 157.4 510.5 138.7 512.5 78.5 513.5 55.2 514.5 40.5 515.3 36.7 515.5 37.2 516.3 44.6 518.8 86.6 519.5 94.9 520.5 102.6 521.5 106.5 522.5 109.3 523.5 110.8 524.5 111.9 525.5 114.7 529.5 129 530.5 132 534.5 140.5 535.5 142" stroke="#D95319" stroke-width="0.65"/>
<path d="M444.5 175 446.5 174.2 448.5 172.7 450 170.9 451.5 168.4 453.5 163.8 457.5 150 459.5 144.8 461.5 141.2 462.5 140 463.5 139.1 464.2 138.8 465.5 139.1 467 140.7 470.5 147.7 472.5 150.7 476.5 154.7 485 162.1 487.5 165.2 488.5 166.2 489.3 166.4 489.5 166.3 492.5 158.5 493 158 493.5 158.4 494.5 160.3 495 160.8 495.5 160.6 496.5 159.4 497.3 159.1 499.5 162.9 500.5 163.4 502.5 163.4 503.5 163.6 505.5 164.2 507.5 165.3 508.5 164.4 509.3 160.4 509.5 158.2 510.5 140.2 512.5 82.5 513.5 60.2 514.5 46.1 515.3 42.4 515.5 42.9 516.3 50 518.8 90.3 519.5 98.2 520.5 105.6 521.5 109.4 522.5 112.1 523.5 113.3 524.5 113.9 525.5 116.1 530.5 133 534.5 141.3 535.5 142.7" stroke="#D95319" stroke-width="0.65"/>
<path d="M444.5 175.1 446.5 174.3 448.5 172.8 450 171.1 451.5 168.7 453.5 164.1 457.5 150.8 459.5 145.7 461.5 142.2 462.5 141 463.5 140.2 464.2 139.9 465.5 140.2 467 141.7 470.5 148.5 472.5 151.5 476.5 155.3 485 162.5 487.5 165.6 488.5 166.5 489.3 166.7 489.5 166.6 492.5 159.1 493 158.5 493.5 158.9 494.5 160.8 495 161.3 495.5 161.1 496.5 159.9 497.3 159.6 499.5 163.3 500.5 163.8 502.5 163.8 503.5 163.9 505.5 164.6 507.5 165.7 508.5 164.8 509.3 160.8 509.5 158.7 510.5 141.3 512.5 85.2 513.5 63.5 514.5 49.8 515.3 46.2 515.5 46.7 516.3 53.6 518.8 92.8 519.5 100.5 520.5 107.7 521.5 111.3 522.5 113.9 523.5 115 524.5 115.1 525.5 117.1 530.3 133.1 531.5 135.9 534.5 141.9 535.5 143.2" stroke="#77AC30" stroke-width="0.65"/>
<path d="M309.5 181.5 397.5 180.2 408 179.5 416.5 177.9 417.5 178 420.5 179 422.5 179.4 428.5 179.9 436.5 179.7 439.5 179.4 442.5 178.7 445.5 177.8 447 177 448.5 175.7 450.5 173.1 451.5 171.3 453 168 457.5 152.3 459.5 147 461 144 462.5 142 463.5 141.1 464.5 140.7 465.5 141.1 467 142.7 470.5 149.8 472.5 153 476.5 157 485 164.6 487.5 167.8 488.5 168.7 489.3 168.9 489.5 168.8 492.5 160.8 493 160.3 493.5 160.6 494.5 162.6 495 163.1 495.5 163 496.5 161.7 497.3 161.3 499.6 165.4 500.5 165.8 502.5 165.7 503.5 165.9 505.5 166.6 506.5 167.3 507.5 167.7 507.9 167.5 508.5 166.8 509.3 162.6 509.5 160.3 510.5 141.9 513 69.9 514.3 47.3 514.5 45.1 515.3 41.3 515.5 41.8 516.3 49.1 518.8 90.5 519.5 98.7 520.5 106.3 521.5 110.1 522.2 112.1 524.5 116.9 526.5 124.1 530.3 136.5 531.5 139.3 534.5 145 535.5 146.4" stroke="#EDA040" stroke-width="0.75" stroke-opacity="0.7"/>
<path d="M309.5 184.4 397.5 182.9 408 182.2 416.5 180.7 417.5 180.8 420.5 181.6 422.5 182 428.5 182.5 436.5 182.3 439.5 181.9 442.5 181.3 445.5 180.5 447 179.7 448.5 178.6 450.5 176.1 451.5 174.5 453 171.5 457.5 157.2 459.5 152.3 461 149.7 462.5 147.8 463.5 147 464.5 146.6 465.5 146.9 467 148.4 470.5 154.9 472.5 157.7 476.5 161.4 485 168.3 487.5 171.1 488.5 172 489.3 172.2 489.5 172.1 492.5 164.8 493 164.3 493.5 164.6 494.5 166.4 495 166.9 495.5 166.7 496.5 165.6 497.3 165.2 499.6 168.9 500.5 169.3 503.5 169.4 505.5 170 507.5 171 507.9 170.8 508.5 170.2 509.3 166.3 509.5 164.3 510.5 147.5 513 81.8 514.3 61.3 514.5 59.3 515.3 55.8 515.5 56.3 516.3 62.9 518.8 100.6 519.5 108.1 520.5 115 522.2 120.3 524.5 124.7 526.5 131.3 530.3 142.5 531.5 145 534.5 150.3 535.5 151.5" stroke="#EDB120" stroke-width="0.75" stroke-opacity="0.7"/>
<path d="M309.5 178 397.5 177.4 408 176.7 416.5 175 417.5 175.1 421 176.3 425.5 177.1 430.5 177.3 436.5 177.2 441.5 176.3 444.5 175.4 446.5 174.5 448.5 172.8 449.5 171.5 451.5 167.9" stroke="#A09088" stroke-width="0.7"/>
<path d="M309.5 177.3 397.5 176.7 408 176 416.5 174.3 417.5 174.4 421 175.6 425.5 176.4 430.5 176.6 436.5 176.5 441.5 175.6 444.5 174.7 446.5 173.8 448.5 172.1 449.5 170.8 451.5 167.2" stroke="#D98060" stroke-width="0.7"/>
<line x1="309.5" y1="194.8" x2="309.5" y2="192.6" stroke="#8c8c8c" stroke-width="0.8"/>
<line x1="309.5" y1="17.3" x2="309.5" y2="19.5" stroke="#8c8c8c" stroke-width="0.8"/>
<line x1="354.7" y1="194.8" x2="354.7" y2="192.6" stroke="#8c8c8c" stroke-width="0.8"/>
<line x1="354.7" y1="17.3" x2="354.7" y2="19.5" stroke="#8c8c8c" stroke-width="0.8"/>
<line x1="399.9" y1="194.8" x2="399.9" y2="192.6" stroke="#8c8c8c" stroke-width="0.8"/>
<line x1="399.9" y1="17.3" x2="399.9" y2="19.5" stroke="#8c8c8c" stroke-width="0.8"/>
<line x1="445.2" y1="194.8" x2="445.2" y2="192.6" stroke="#8c8c8c" stroke-width="0.8"/>
<line x1="445.2" y1="17.3" x2="445.2" y2="19.5" stroke="#8c8c8c" stroke-width="0.8"/>
<line x1="490.4" y1="194.8" x2="490.4" y2="192.6" stroke="#8c8c8c" stroke-width="0.8"/>
<line x1="490.4" y1="17.3" x2="490.4" y2="19.5" stroke="#8c8c8c" stroke-width="0.8"/>
<line x1="535.6" y1="194.8" x2="535.6" y2="192.6" stroke="#8c8c8c" stroke-width="0.8"/>
<line x1="535.6" y1="17.3" x2="535.6" y2="19.5" stroke="#8c8c8c" stroke-width="0.8"/>
<line x1="309.5" y1="194.8" x2="311.7" y2="194.8" stroke="#8c8c8c" stroke-width="0.8"/>
<line x1="535.6" y1="194.8" x2="533.4" y2="194.8" stroke="#8c8c8c" stroke-width="0.8"/>
<line x1="309.5" y1="177.1" x2="311.7" y2="177.1" stroke="#8c8c8c" stroke-width="0.8"/>
<line x1="535.6" y1="177.1" x2="533.4" y2="177.1" stroke="#8c8c8c" stroke-width="0.8"/>
<line x1="309.5" y1="159.3" x2="311.7" y2="159.3" stroke="#8c8c8c" stroke-width="0.8"/>
<line x1="535.6" y1="159.3" x2="533.4" y2="159.3" stroke="#8c8c8c" stroke-width="0.8"/>
<line x1="309.5" y1="141.6" x2="311.7" y2="141.6" stroke="#8c8c8c" stroke-width="0.8"/>
<line x1="535.6" y1="141.6" x2="533.4" y2="141.6" stroke="#8c8c8c" stroke-width="0.8"/>
<line x1="309.5" y1="123.8" x2="311.7" y2="123.8" stroke="#8c8c8c" stroke-width="0.8"/>
<line x1="535.6" y1="123.8" x2="533.4" y2="123.8" stroke="#8c8c8c" stroke-width="0.8"/>
<line x1="309.5" y1="106.1" x2="311.7" y2="106.1" stroke="#8c8c8c" stroke-width="0.8"/>
<line x1="535.6" y1="106.1" x2="533.4" y2="106.1" stroke="#8c8c8c" stroke-width="0.8"/>
<line x1="309.5" y1="88.3" x2="311.7" y2="88.3" stroke="#8c8c8c" stroke-width="0.8"/>
<line x1="535.6" y1="88.3" x2="533.4" y2="88.3" stroke="#8c8c8c" stroke-width="0.8"/>
<line x1="309.5" y1="70.6" x2="311.7" y2="70.6" stroke="#8c8c8c" stroke-width="0.8"/>
<line x1="535.6" y1="70.6" x2="533.4" y2="70.6" stroke="#8c8c8c" stroke-width="0.8"/>
<line x1="309.5" y1="52.8" x2="311.7" y2="52.8" stroke="#8c8c8c" stroke-width="0.8"/>
<line x1="535.6" y1="52.8" x2="533.4" y2="52.8" stroke="#8c8c8c" stroke-width="0.8"/>
<line x1="309.5" y1="35.1" x2="311.7" y2="35.1" stroke="#8c8c8c" stroke-width="0.8"/>
<line x1="535.6" y1="35.1" x2="533.4" y2="35.1" stroke="#8c8c8c" stroke-width="0.8"/>
<line x1="309.5" y1="17.3" x2="311.7" y2="17.3" stroke="#8c8c8c" stroke-width="0.8"/>
<line x1="535.6" y1="17.3" x2="533.4" y2="17.3" stroke="#8c8c8c" stroke-width="0.8"/>
<rect x="309.5" y="17.3" width="226.1" height="177.5" fill="none" stroke="#8c8c8c" stroke-width="1"/>
<text x="307.3" y="197.6" font-size="9.3" text-anchor="end" >-0.5</text>
<text x="307.3" y="180.2" font-size="9.3" text-anchor="end" >0</text>
<text x="307.3" y="162.5" font-size="9.3" text-anchor="end" >0.5</text>
<text x="307.3" y="144.7" font-size="9.3" text-anchor="end" >1</text>
<text x="307.3" y="127" font-size="9.3" text-anchor="end" >1.5</text>
<text x="307.3" y="109.2" font-size="9.3" text-anchor="end" >2</text>
<text x="307.3" y="91.5" font-size="9.3" text-anchor="end" >2.5</text>
<text x="307.3" y="73.7" font-size="9.3" text-anchor="end" >3</text>
<text x="307.3" y="56" font-size="9.3" text-anchor="end" >3.5</text>
<text x="307.3" y="38.2" font-size="9.3" text-anchor="end" >4</text>
<text x="307.3" y="20.5" font-size="9.3" text-anchor="end" >4.5</text>
<text x="308.5" y="205.4" font-size="9.3" text-anchor="middle" >12,000</text>
<text x="354.7" y="205.4" font-size="9.3" text-anchor="middle" >10,500</text>
<text x="399.9" y="205.4" font-size="9.3" text-anchor="middle" >9000</text>
<text x="445.2" y="205.4" font-size="9.3" text-anchor="middle" >7500</text>
<text x="490.4" y="205.4" font-size="9.3" text-anchor="middle" >6000</text>
<text x="535.6" y="205.4" font-size="9.3" text-anchor="middle" >4500</text>
<rect x="384" y="70.5" width="49.5" height="92" fill="#fff" stroke="#9a9a9a" stroke-width="1"/>
<path d="M384 136.7 385 136.5 386 137 387 136.5 388 136.3 389 135.2 390 135.6 391 135.2 392 135.4 393 134.2 395 133.6 396 133.7 397 133.3 398 132.4 400 131.7 401 132.1 402 131.1 403 130.7 404 129.7 405 130 407 128.8 408 127.6 409 126.9 410 126.4 412 124.4 413 122.5 414 121.9 415 120.6 416 120 417 117.9 419 115.1 420 114.4 424 108.2 425 107.4 427 104.1 428 102.1 429 101.5 430 99.9 431 98.9 432 96.8 433 96 434 95.8" stroke="#0072BD" stroke-width="0.8" stroke-opacity="0.9"/>
<path d="M384 135.7 385 134.8 386 135.4 387 135 388 135.2 389 134 391 133.6 392 133.8 394 132.3 396 131.7 397 132 398 130.9 399 130.6 400 129.7 401 130.2 403 129.1 404 128 406 127.5 407 126.9 408 126.1 409 124.7 410 124.3 411 123.2 412 122.6 413 120.5 414 119.5 415 118.1 416 117.5 419 112.5 421 110.4 424 105 425 104.3 426 102.6 427 101.3 428 99 431 95.4 433 92.2 434 92" stroke="#77AC30" stroke-width="0.8" stroke-opacity="0.9"/>
<path d="M384 139.1 385 139.9 386 139.3 387 139 388 138.2 390 138.5 392 137.4 393 136.7 394 137.1 395 136.6 396 136.6 397 135.3 398 135.4 399 135.1 400 135.4 402 133.9 403 133.6 405 133.5 406 132.4 407 131.9 408 131 409 131.2 410 130 411 129.2 412 127.5 413 127 415 125.1 417 122 418 121.3 420 119.2 421 117 422 116.1 423 114.7 424 114.2 425 112.3 427 109.3 429 107.6 432 103.1 433 103.1 434 102.6" stroke="#4DBEEE" stroke-width="0.8" stroke-opacity="0.9"/>
<path d="M384 141.7 385 140.9 386 140.6 389 140.5 390 139.5 391 139.4 392 139 393 139.5 394 138.6 395 138.3 396 137.5 397 137.9 399 137.3 400 136.6 401 136.2 402 136.5 404 135.8 405 134.6 406 134.8 407 134.2 408 134.3 409 132.9 411 131.2 412 130.9 413 129.9 414 128.5 416 126.2 417 125.9 418 124.2 419 123.1 420 121.2 421 120.9 423 118.7 424 116.8 428 112.5 429 110.7 431 108.7 432 108.4 433 106.9 434 106.9" stroke="#7E2F8E" stroke-width="0.8" stroke-opacity="0.9"/>
<path d="M384 135.6 385 136.3 386 135.4 387 135.2 388 134.5 389 134.9 391 134.2 392 133.4 393 133 394 133.2 396 132.4 397 131.2 398 131.4 399 131 400 131.1 401 129.9 403 129.1 404 129.1 405 128.5 406 127.5 408 126.2 409 126.1 410 124.6 411 123.6 412 121.9 413 121.6 415 119.1 416 117.2 418 114.9 420 112.1 421 110 422 109 423 107.5 424 106.7 425 104.3 427 101.2 428 100.5 431 95.4 432 94.2 433 93.7 434 92.9" stroke="#D95319" stroke-width="0.8" stroke-opacity="0.9"/>
<path d="M384 141.2 385 141.1 386 140.2 387 140.2 388 139.9 389 140.4 390 139.5 391 139.2 392 138.5 393 138.9 395 138.2 396 137.4 397 137.1 398 137.4 400 136.7 401 135.7 402 136 403 135.5 404 135.7 405 134.5 407 133.7 408 133.8 409 133 410 131.8 412 130 413 129.7 414 128.1 415 127.1 416 125.4 417 125.1 419 122.8 420 120.9 423 118.1 424 116.7 425 114.8 426 114 427 112.8 428 112.2 429 110.2 430 109.2 431 107.7 432 107.5 433 106.6 434 106.2" stroke="#A2142F" stroke-width="0.8" stroke-opacity="0.9"/>
<path d="M384 137.9 385 138.4 386 138.3 389 136.8 390 137.3 391 136.8 392 136.6 393 135.4 394 135.6 395 135.2 396 135.5 397 134.4 399 133.7 400 133.8 401 133.6 402 132.6 404 131.7 405 132.1 406 131 407 130.6 408 129.3 409 129.3 411 127.6 412 126.1 413 124.9 414 124.3 416 122.1 417 120 418 119.2 419 117.8 420 117.2 421 115.1 423 112.3 424 111.6 428 105.6 429 105 430 103.3 431 102.1 432 100.2 434 99.6" stroke="#C06040" stroke-width="0.8" stroke-opacity="0.9"/>
<path d="M384 136.9 385 136.9 386 136 387 136 388 135.6 389 136.1 390 135.2 391 134.9 392 134 393 134.4 395 133.6 396 132.8 397 132.3 398 132.6 400 131.8 401 130.6 402 130.8 403 130.3 404 130.4 405 129.1 407 127.9 408 127.8 409 127.1 410 125.7 412 123.5 413 123.1 414 121.4 415 120.3 416 118.3 417 117.8 419 115.2 420 113.2 424 108.1 425 105.9 426 104.8 427 103.3 428 102.6 429 100.4 431 97.3 432 96.9 433 95.7 434 95.1" stroke="#8B4513" stroke-width="0.8" stroke-opacity="0.9"/>
<path d="M384 139.9 385 139.1 386 139.6 387 139.3 388 139.4 389 138.3 391 138 392 138.2 393 137.7 394 136.8 396 136.4 397 136.7 398 135.7 399 135.5 400 134.7 401 135.2 403 134.4 404 133.4 406 133.1 407 132.6 408 131.9 409 130.6 410 130.4 411 129.5 412 129 413 127.1 414 126.2 415 125 416 124.6 419 120.2 420 119.1 421 118.4 422 116.7 423 115.5 424 113.6 425 113.2 426 111.7 427 110.6 428 108.6 431 105.7 433 103.1 434 103.2" stroke="#0072BD" stroke-width="0.8" stroke-opacity="0.9"/>
<path d="M384 138.3 385 138.3 386 138.7 388 137.9 389 137 390 137.4 391 137 392 137.1 393 135.9 395 135.5 396 135.7 398 134.3 399 134 400 133.8 401 134.1 402 133 403 132.7 404 131.8 405 132.3 406 131.5 407 131.1 408 129.8 410 128.9 411 128.1 413 125.2 414 124.6 415 123.5 416 122.8 417 120.6 418 119.6 419 118.2 420 117.6 423 112.9 425 111 428 106 429 105.6 430 104 431 102.9 432 101 433 100.5 434 100.3" stroke="#77AC30" stroke-width="0.8" stroke-opacity="0.9"/>
<path d="M384 140.7 385 141 386 140 387 140 388 139.4 389 140 390 139.4 391 139 392 138.2 394 138.3 396 137.4 397 136.6 398 137 399 136.6 400 136.6 401 135.4 402 135.5 403 135.1 404 135.3 405 134.5 407 133.3 409 132.8 412 129.3 413 129.2 414 127.8 415 126.9 416 125 417 124.4 419 122.4 421 119.2 422 118.4 424 116.4 425 114.3 426 113.3 427 111.9 428 111.6 429 109.8 431 107 434 105.5" stroke="#4DBEEE" stroke-width="0.8" stroke-opacity="0.9"/>
<path d="M384 140.3 385 140.4 386 139.4 387 139.4 388 138.9 389 139.6 390 138.7 391 138.4 392 137.6 393 137.9 394 137.7 397 136.1 398 136.4 399 136 400 135.9 401 134.7 402 134.9 403 134.4 404 134.7 405 133.6 407 132.5 408 132.4 409 131.9 410 130.6 412 128.5 413 128.4 414 126.8 415 125.9 416 124 417 123.6 419 121.3 420 119.5 421 118.2 422 117.3 424 115.1 425 113 426 112.1 427 110.8 428 110.3 429 108.4 431 105.6 432 105.3 433 104.5 434 104" stroke="#7E2F8E" stroke-width="0.8" stroke-opacity="0.9"/>
<path d="M384 134.8 385 135.4 386 135.2 388 134.1 389 133.8 390 134.1 392 133.3 393 132.1 394 132.4 395 131.9 396 132.1 397 130.8 399 130.1 400 130.3 401 129.8 402 128.8 404 127.9 405 128.1 406 126.9 407 126.3 408 125 409 125.1 411 123 412 121.3 415 118.2 416 116.8 417 114.7 418 113.8 419 112.3 420 111.5 421 109.2 423 106.1 424 105.4 427 100 428 98.7 429 97.8 432 92.4 433 92.1 434 91.4" stroke="#D95319" stroke-width="0.8" stroke-opacity="0.9"/>
<path d="M384 137.7 385 136.8 386 137.3 387 137 388 137.2 389 136.1 391 135.7 392 135.8 393 135.3 394 134.4 396 133.8 397 134.2 398 133.2 399 132.9 400 132 401 132.5 403 131.6 404 130.5 406 130.1 408 128.9 409 127.4 410 127.1 411 126.1 412 125.6 413 123.6 414 122.6 415 121.3 416 120.8 419 116.1 420 114.9 421 114.2 422 112.4 423 111 424 109 425 108.4 426 106.8 427 105.7 428 103.5 431 100.2 433 97.3 434 97.2" stroke="#A2142F" stroke-width="0.8" stroke-opacity="0.9"/>
<path d="M384 138.9 385 138.8 386 139.2 388 138.5 389 137.5 390 138 391 137.6 392 137.7 393 136.5 395 136 396 136.2 397 135.8 398 134.9 400 134.4 401 134.8 402 133.8 403 133.4 404 132.5 405 133 407 131.9 408 130.6 410 129.7 412 127.7 413 126 414 125.5 415 124.3 416 123.7 417 121.6 418 120.6 419 119.2 420 118.6 423 114 424 112.9 425 112.2 428 107.2 429 106.8 430 105.3 431 104.4 432 102.4 433 101.9 434 101.8" stroke="#C06040" stroke-width="0.8" stroke-opacity="0.9"/>
<path d="M384 141.3 385 140.9 386 141.5 387 141 388 141 389 139.9 390 140.2 391 139.8 392 140.1 393 139.1 394 138.7 395 138.5 397 138.4 398 137.5 399 137.3 400 136.9 401 137.4 402 136.6 403 136.3 404 135.4 405 135.7 407 134.9 409 133.2 410 132.9 412 131.3 413 129.5 414 129 415 127.9 416 127.5 417 125.7 419 123.2 420 122.6 421 121.5 424 117.4 425 116.9 426 115.3 427 114.2 428 112.3 429 111.9 430 110.7 431 109.9 432 108.2 433 107.6 434 107.7" stroke="#8B4513" stroke-width="0.8" stroke-opacity="0.9"/>
<path d="M384 137.5 385 137.4 386 137.8 388 137.1 389 136.1 390 136.5 391 136.1 392 136.2 393 135 395 134.5 396 134.7 398 133.3 400 132.8 401 133.1 402 132 403 131.7 404 130.8 405 131.2 407 129.9 408 128.7 410 127.7 412 125.6 413 123.9 414 123.3 415 122.1 416 121.4 417 119.2 418 118.1 419 116.6 420 116.1 423 111.2 425 109.2 428 104.1 429 103.6 430 102 431 100.9 432 98.8 433 98.3 434 98.1" stroke="#0072BD" stroke-width="0.8" stroke-opacity="0.9"/>
<path d="M384 135.4 385 135 386 134.3 388 134 389 134.4 390 133.3 391 133.1 392 132.3 393 132.8 395 131.7 396 130.8 398 130.7 399 130.2 400 129.7 401 128.6 402 128.8 403 128.3 404 128.2 405 126.8 406 126.4 407 125.7 408 125.7 411 122.1 413 120.5 416 115.6 417 115.1 419 112.1 420 109.9 423 106.3 425 102.4 427 99.7 428 98.7 429 96.4 431 93.3 432 92.8 433 91.2 434 90.6" stroke="#77AC30" stroke-width="0.8" stroke-opacity="0.9"/>
<path d="M384 136.3 385 135.8 386 136.4 387 135.9 388 135.9 389 134.7 390 134.9 391 134.6 392 134.8 393 133.8 394 133.2 395 133 397 132.8 398 131.8 399 131.5 400 130.9 401 131.4 402 130.4 403 130.1 404 128.9 405 129.1 407 128.1 409 126 410 125.6 412 123.7 413 121.7 414 120.9 415 119.6 416 119 417 117 419 114 420 113.2 421 111.9 424 106.9 425 106.2 426 104.4 427 103 428 100.8 429 100.1 430 98.6 431 97.5 432 95.5 433 94.5 434 94.3" stroke="#4DBEEE" stroke-width="0.8" stroke-opacity="0.9"/>
<path d="M384 136.6 386 135.4 389 135.4 390 134.4 391 134.2 392 133.6 393 134.1 394 133.2 395 132.9 396 131.9 397 132.2 398 132 399 131.5 401 130.1 402 130.3 404 129.5 405 128.1 406 128 407 127.3 408 127.3 409 125.9 411 123.7 412 123.1 413 122.1 416 117.6 417 117.1 418 115.3 419 114 420 111.9 421 111.1 423 108.6 425 104.8 428 101.1 429 98.9 431 96.2 432 95.7 433 93.9 434 93.5" stroke="#7E2F8E" stroke-width="0.8" stroke-opacity="0.9"/>
<path d="M384 137.7 386 136.6 389 136.6 390 135.5 391 135.4 392 134.8 393 135.3 394 134.5 395 134.1 396 133.2 397 133.4 398 133.2 399 132.8 401 131.4 402 131.6 403 131.2 404 131 405 129.6 406 129.5 407 128.8 408 128.9 409 127.5 411 125.4 412 124.8 413 123.9 416 119.5 417 119.1 418 117.3 419 116.1 420 114 421 113.2 423 110.8 425 107.2 428 103.7 429 101.5 430 100.4 431 98.9 432 98.5 433 96.9 434 96.5" stroke="#D95319" stroke-width="0.8" stroke-opacity="0.9"/>
<path d="M384 138.3 385 137.4 386 137.8 387 137.5 388 137.8 389 136.8 391 136.2 392 136.3 393 136 394 135 396 134.4 397 134.8 398 133.9 399 133.6 400 132.7 401 133.1 403 132.3 404 131.3 405 130.8 406 130.9 408 129.8 409 128.2 410 127.9 411 126.9 412 126.5 413 124.6 415 122.2 416 121.6 420 115.9 421 115.2 422 113.5 423 112.2 424 110.1 425 109.5 426 108 427 107 428 104.9 431 101.5 433 98.7 434 98.7" stroke="#A2142F" stroke-width="0.8" stroke-opacity="0.9"/>
<path d="M384 139.9 385 140.3 386 140.3 389 138.8 390 139.3 391 138.8 392 138.7 393 137.5 394 137.7 395 137.4 396 137.6 397 136.6 399 136 400 136.1 401 135.9 402 135 404 134.2 405 134.6 406 133.6 407 133.2 408 132 409 132.1 411 130.6 413 128 414 127.4 416 125.4 417 123.4 418 122.7 419 121.4 420 120.9 421 118.9 423 116.2 424 115.6 428 110 429 109.6 430 108 431 106.9 432 105.1 434 104.8" stroke="#C06040" stroke-width="0.8" stroke-opacity="0.9"/>
<path d="M384 138.5 385 139.3 387 138.4 388 137.7 390 137.9 392 136.9 393 136 394 136.4 395 136 396 136 397 134.7 398 134.8 399 134.4 400 134.7 402 133.2 403 132.9 405 132.8 406 131.6 407 131.2 408 130.2 409 130.4 410 129.2 411 128.4 412 126.7 413 126.1 415 124.2 417 121 418 120.3 420 118.1 421 116 422 115 423 113.5 424 113 427 108 429 106.3 432 101.7 433 101.6 434 101.1" stroke="#8B4513" stroke-width="0.8" stroke-opacity="0.9"/>
<path d="M384 147.3 385 146.3 386 146.6 387 146.4 388 146.6 389 145.8 390 145.3 393 145 394 144 395 143.8 396 143.2 397 143.8 398 142.9 399 142.6 400 141.7 401 142 402 141.8 403 141.4 405 139.9 406 140 408 139 409 137.4 410 137.1 411 136.1 412 135.7 413 134 415 131.5 416 130.9 417 129.8 420 125.3 421 124.8 422 123.1 423 121.9 424 119.8 425 119.2 427 116.7 428 114.8 429 113.5 432 110.4 433 108.8 434 108.8" stroke="#4DBEEE" stroke-width="0.8" stroke-opacity="0.5"/>
<path d="M384 147.6 385 148.2 386 147.9 388 146.9 389 146.6 390 147 392 146.2 393 145.1 394 145.4 395 145 396 145.2 397 144 399 143.4 400 143.6 401 143.2 402 142.3 404 141.6 405 141.9 406 140.8 407 140.3 408 139.2 409 139.3 411 137.5 412 135.9 415 133.2 416 132 417 130.1 418 129.3 419 128 420 127.3 421 125.2 423 122.5 424 121.9 427 117.2 428 116.1 429 115.4 432 110.7 433 110.6 434 110.2" stroke="#EDB120" stroke-width="0.8" stroke-opacity="0.5"/>
<path d="M384 149.6 385 148.8 386 148.4 389 148.4 390 147.4 391 147.2 392 146.7 393 147.3 394 146.4 395 146.1 396 145.2 397 145.5 398 145.3 399 144.9 401 143.6 402 143.9 404 143.2 405 141.9 406 141.9 407 141.3 408 141.4 409 140 411 138.1 412 137.6 413 136.6 414 135.1 416 132.6 417 132.2 418 130.5 419 129.3 420 127.3 421 126.7 423 124.4 424 122.4 425 121 428 117.7 429 115.7 431 113.4 432 113 433 111.4 434 111.2" stroke="#7E2F8E" stroke-width="0.8" stroke-opacity="0.5"/>
<path d="M384 150.2 385 149.4 386 150 387 149.6 388 149.8 389 148.6 391 148.3 392 148.5 394 147.1 396 146.7 397 147 398 145.9 399 145.7 400 144.9 401 145.5 402 144.9 403 144.5 404 143.5 406 143.2 407 142.7 408 142 409 140.7 410 140.5 411 139.5 412 139 413 137 414 136.2 415 134.9 416 134.5 419 130 421 128.2 424 123.3 425 122.8 426 121.2 427 120.2 428 118.1 431 115.1 433 112.4 434 112.4" stroke="#D95319" stroke-width="0.8" stroke-opacity="0.5"/>
<path d="M384 151 385 151.6 386 150.7 387 150.6 388 149.9 389 150.4 391 149.6 392 148.8 393 148.5 394 148.8 396 148 397 146.9 398 147.2 399 146.8 400 147 401 145.9 403 145.2 404 145.3 405 144.8 406 143.9 408 142.8 409 142.8 410 141.4 411 140.6 412 139 413 138.8 415 136.6 416 134.7 419 131.7 420 130.3 421 128.4 422 127.5 423 126.3 424 125.6 425 123.4 427 120.6 428 120.2 431 115.6 432 114.6 433 114.4 434 113.8" stroke="#77AC30" stroke-width="0.8" stroke-opacity="0.5"/>
<path d="M384 152.3 385 151.5 386 152.1 387 151.7 388 151.8 389 150.7 391 150.4 392 150.6 394 149.2 396 148.8 397 149.1 398 148 399 147.8 400 147.1 401 147.6 402 147 403 146.7 404 145.6 406 145.4 407 144.9 408 144.1 409 142.9 410 142.6 411 141.7 412 141.2 413 139.2 414 138.4 415 137.1 416 136.7 419 132.2 421 130.4 424 125.6 425 125.1 426 123.6 427 122.5 428 120.4 431 117.5 433 114.8 434 114.8" stroke="#E08080" stroke-width="0.8" stroke-opacity="0.5"/>
<path d="M384 153 385 153.7 386 152.8 387 152.7 388 151.9 389 152.4 391 151.7 392 151 393 150.6 394 150.9 396 150.2 397 149 398 149.3 399 148.9 400 149.2 401 148 403 147.3 404 147.4 405 147 406 146 408 144.9 409 145 410 143.6 411 142.8 412 141.2 413 140.9 415 138.8 416 137 418 135 420 132.6 421 130.6 422 129.8 423 128.5 424 127.9 425 125.7 427 122.9 428 122.4 431 118 432 117 433 116.8 434 116.2" stroke="#0072BD" stroke-width="0.8" stroke-opacity="0.5"/>
<path d="M384 154.8 385 154 386 153.6 389 153.7 390 152.6 391 152.5 392 152 393 152.5 394 151.6 395 151.3 396 150.4 397 150.8 398 150.6 399 150.2 401 148.9 402 149.2 404 148.6 405 147.3 406 147.3 407 146.7 408 146.8 409 145.4 411 143.5 412 143.1 413 142.2 414 140.6 416 138.1 417 137.7 418 136.1 419 134.9 420 132.9 421 132.4 423 130.1 424 128.2 425 126.8 428 123.6 429 121.6 430 120.6 431 119.3 432 119 433 117.4 434 117.2" stroke="#9090D0" stroke-width="0.8" stroke-opacity="0.5"/>
<path d="M384 155.2 385 154.8 386 155.3 387 154.9 388 154.8 389 153.7 390 154 391 153.6 392 153.8 393 152.9 394 152.4 395 152.2 397 152.1 398 151.1 399 150.9 400 150.4 401 150.9 402 150.1 403 149.8 404 148.7 405 149 407 148.2 409 146.3 410 146 412 144.3 413 142.4 414 141.8 415 140.6 416 140.1 417 138.2 419 135.5 420 134.9 421 133.7 424 129.3 425 128.7 426 127 427 125.8 428 123.8 429 123.3 430 122 431 121.1 432 119.3 433 118.5 434 118.5" stroke="#4DBEEE" stroke-width="0.8" stroke-opacity="0.5"/>
<path d="M384 156.8 385 155.7 386 156 387 155.8 388 156.1 390 154.7 393 154.5 394 153.5 395 153.3 396 152.7 397 153.3 398 152.5 399 152.2 400 151.3 401 151.5 402 151.4 403 151 405 149.5 406 149.6 408 148.8 409 147.2 410 146.9 411 145.9 412 145.6 413 143.9 415 141.5 416 140.9 417 139.9 420 135.4 421 135 422 133.3 423 132.2 424 130.1 425 129.5 427 127.2 428 125.4 429 124 432 121.2 433 119.6 434 119.6" stroke="#EDB120" stroke-width="0.8" stroke-opacity="0.5"/>
<path d="M384 157.6 385 156.7 386 157.2 387 156.9 388 157.1 389 156 391 155.6 392 155.8 393 155.4 394 154.5 396 154 397 154.4 398 153.4 399 153.2 400 152.3 401 152.8 403 152 404 151.1 405 150.8 406 150.8 408 149.7 409 148.3 410 148 411 147.1 412 146.7 413 144.8 414 143.9 415 142.6 416 142.2 419 137.8 420 136.7 421 136.1 422 134.4 423 133.2 424 131.3 425 130.8 426 129.4 427 128.3 428 126.3 431 123.4 433 120.7 434 120.8" stroke="#7E2F8E" stroke-width="0.8" stroke-opacity="0.5"/>
<path d="M384 158.2 385 158.9 386 158.2 387 157.9 388 157.2 389 157.5 390 157.4 393 155.7 394 156.1 395 155.6 396 155.5 397 154.3 398 154.5 399 154.2 400 154.4 401 153.5 402 153 403 152.6 405 152.5 406 151.4 407 151 408 150.2 409 150.4 410 149.1 411 148.3 412 146.6 413 146.3 415 144.4 417 141.3 418 140.6 420 138.4 421 136.3 422 135.5 423 134.1 424 133.6 425 131.6 427 128.7 428 128.2 429 127 431 124 432 122.8 433 122.8 434 122.2" stroke="#D95319" stroke-width="0.8" stroke-opacity="0.5"/>
<path d="M384 135.5 387 134.9 391 133.6 395 131.8 399 129.8 402 128.1 405 125.9 407 124.2 409 122.1 413 116.4 418 107.4 424 95.1 432 76.9 433 74.9 434 73.4" stroke="#E8A860" stroke-width="0.8" stroke-opacity="0.9"/>
<rect x="456.5" y="26.5" width="35" height="66.5" fill="#fff" stroke="#9a9a9a" stroke-width="1"/>
<path d="M466.3 92.5 471.6 61.3 472.5 57.5 472.9 56.7 473.7 51.4 474.1 51.1 474.5 49.1 475 49.6 475.4 52.4 475.9 53.2 476.3 54.9 476.7 58.6 477.2 59.5 478.1 64.9 478.9 68.4 483.3 92.5" stroke="#D9A86A" stroke-width="0.6" stroke-opacity="0.65"/>
<path d="M465.8 92.5 470 46.9 470.6 42.8 470.9 38.5 471.2 37.6 471.8 32.7 472.4 35.9 473.2 45.7 473.5 47.2 477.5 92.5" stroke="#B58FD0" stroke-width="0.6" stroke-opacity="0.65"/>
<path d="M461.3 92.5 465.9 55.8 466.3 54.5 467.4 45.4 469 37.2 469.8 40.1 470.3 44.3 470.7 45 471.6 51.6 472 53.2 477.7 92.5" stroke="#7FCBEA" stroke-width="0.6" stroke-opacity="0.65"/>
<path d="M471 92.5 475 60.6 476.1 54 476.4 50.7 478.2 40.3 479.9 48.1 481.5 58.2 486.3 92.5" stroke="#E39A8E" stroke-width="0.6" stroke-opacity="0.65"/>
<path d="M463.6 92.5 467.2 69 469.6 55.9 470 52.7 470.4 51.8 471.7 46 472.1 47.3 473.8 55.9 474.2 56.9 480.1 92.5" stroke="#9FC36A" stroke-width="0.6" stroke-opacity="0.65"/>
<path d="M462.9 92.5 467.2 51.1 468.6 39.5 470 30 471.7 42.1 474.5 67.7 476.9 92.5" stroke="#E0B050" stroke-width="0.6" stroke-opacity="0.65"/>
<path d="M465.7 92.5 470.4 49.8 471.9 39.7 472.3 42.1 472.6 42.4 473.6 51.2 474.9 60.3 478.5 92.5" stroke="#C07890" stroke-width="0.6" stroke-opacity="0.65"/>
<path d="M467.1 92.5 470.7 58.6 472.6 43.3 473.6 37.1 474 38.6 474.3 41.8 474.7 42.7 475.4 48.9 475.8 50.2 481 92.5" stroke="#8FB0E0" stroke-width="0.6" stroke-opacity="0.65"/>
<path d="M470.2 92.5 474.6 45.5 475.3 41.1 475.6 36.9 476.5 30.6 476.9 31.8 477.4 35.3 477.8 36.7 479.5 48.4 484.9 92.5" stroke="#A070C0" stroke-width="0.6" stroke-opacity="0.65"/>
<path d="M462.3 92.5 465.2 71.3 467.4 57.6 467.8 54.4 468.1 53.3 468.9 48.1 469.2 47.3 469.6 45.6 470 46.5 470.5 49.8 471.3 52.6 471.8 55.7 472.2 56.6 472.6 60 473.1 61.3 473.9 67.3 475.2 73.9 478.3 92.5" stroke="#E08A50" stroke-width="0.6" stroke-opacity="0.65"/>
<path d="M462.8 92.5 468.2 50.1 468.9 44.8 469.3 44 469.7 40.9 470.5 37 470.8 37.6 471.5 44 472.8 53 477.2 92.5" stroke="#D9A86A" stroke-width="0.6" stroke-opacity="0.65"/>
<path d="M461.5 92.5 465.6 67.4 466.3 63.7 467 61.8 467.7 57.2 468.3 55 468.8 55.7 469.7 59.7 470.1 60.2 471.4 66.9 472.3 69.9 472.7 72.5 473.2 73.3 477.1 92.5" stroke="#B58FD0" stroke-width="0.6" stroke-opacity="0.65"/>
<path d="M460.3 92.5 465.1 54.7 465.5 52.9 466 48.7 467.7 36.8 468.6 31.8 469 30.7 471.2 45.3 476.2 92.5" stroke="#7FCBEA" stroke-width="0.6" stroke-opacity="0.65"/>
<path d="M460.6 92.5 463.9 73.2 466.4 60 468.1 53.2 468.5 52.3 468.9 50 470.2 56.6 472.2 68.9 475.5 92.5" stroke="#E39A8E" stroke-width="0.6" stroke-opacity="0.65"/>
<path d="M470.4 92.5 474.3 55 476 43.4 476.3 45.6 476.6 46 477.2 51.9 478 58 481.7 92.5" stroke="#9FC36A" stroke-width="0.6" stroke-opacity="0.65"/>
<path d="M466.2 92.5 471 62.7 471.3 62.1 472 57 472.7 53.9 473.1 53.6 473.7 57.2 474 57.4 474.3 60.3 474.6 61.2 475.3 65.8 476.5 72.6 479.3 92.5" stroke="#E0B050" stroke-width="0.6" stroke-opacity="0.65"/>
<path d="M466.1 92.5 470.6 60.6 471.6 55.4 472.3 50.6 472.7 50.3 473 47.9 473.4 48.8 473.9 51.5 474.3 52 474.8 55.4 478.4 72.4 481.9 92.5" stroke="#C07890" stroke-width="0.6" stroke-opacity="0.65"/>
<path d="M464.3 92.5 468.2 59.5 469.8 48.6 470.2 44.5 470.9 40.3 471.7 33.9 472.1 33 474.3 45 476 56.5 480.7 92.5" stroke="#8FB0E0" stroke-width="0.6" stroke-opacity="0.65"/>
<path d="M466.3 92.5 471.5 59.3 473.1 50.6 473.5 49.6 473.8 46.7 474.2 46.1 476.3 55.9 477.9 65.2 478.3 66.5 482.3 92.5" stroke="#A070C0" stroke-width="0.6" stroke-opacity="0.65"/>
<path d="M467.8 92.5 470.8 62.2 472.5 46.3 473.7 38.1 474.5 41.5 475.2 47.3 476 51 481.3 92.5" stroke="#E08A50" stroke-width="0.6" stroke-opacity="0.65"/>
<path d="M468.3 92.5 472.8 54.1 473.6 49.1 474.9 38.6 476.5 29.5 478.5 44.5 483.3 92.5" stroke="#D9A86A" stroke-width="0.6" stroke-opacity="0.65"/>
<path d="M471.5 92.5 475.6 53.7 476.3 49.4 477 42.5 477.4 40 477.7 39 478.4 34 478.8 34.8 481 53.9 484.9 92.5" stroke="#B58FD0" stroke-width="0.6" stroke-opacity="0.65"/>
<path d="M464.1 92.5 468.3 57.6 469.2 50.5 470.5 43.7 470.9 46.2 471.3 46.9 473.1 59.1 473.9 62.8 477.9 92.5" stroke="#7FCBEA" stroke-width="0.6" stroke-opacity="0.65"/>
<path d="M462.2 92.5 466.6 56.3 468.4 43.2 468.7 40.9 469.1 40.1 469.4 37.5 470.2 42.2 470.6 43 471.3 47.8 471.7 51.7 472.4 55.9 476.9 92.5" stroke="#E39A8E" stroke-width="0.6" stroke-opacity="0.65"/>
<path d="M472.2 92.5 476.2 45.9 477.1 39.2 477.7 32.7 478 31.5 478.4 32.8 478.8 35.3 479.1 39.3 479.5 40.5 480.7 49.1 485.9 92.5" stroke="#9FC36A" stroke-width="0.6" stroke-opacity="0.65"/>
<path d="M464.5 92.5 468.9 64.9 470.2 58.3 470.6 54.6 471 53.3 471.9 47.6 472.8 45.1 473.2 42.8 473.6 44.5 473.9 45.3 474.3 49.3 474.7 50.3 476.9 64.7 480.6 92.5" stroke="#E0B050" stroke-width="0.6" stroke-opacity="0.65"/>
<path d="M471.5 92.5 475.7 53.9 475.9 53 476.8 45 477.4 41.9 477.8 44.6 478.1 45.3 478.5 47 479.2 52.9 479.5 54.4 480.5 61.9 484.4 92.5" stroke="#C07890" stroke-width="0.6" stroke-opacity="0.65"/>
<path d="M464.6 92.5 468.1 65.9 469.1 60.6 470 53.2 470.3 52.4 470.7 50 471 49.1 471.7 51.2 472.1 54.5 472.4 55.2 472.8 58.4 473.1 59.7 475.3 73 478.1 92.5" stroke="#8FB0E0" stroke-width="0.6" stroke-opacity="0.65"/>
<path d="M466.8 92.5 473.3 55.3 473.7 55 474.9 49.5 475.2 49.9 476.3 57.7 476.5 61.1 477.1 64.1 480.4 92.5" stroke="#A070C0" stroke-width="0.6" stroke-opacity="0.65"/>
<path d="M464.5 92.5 469.3 55.3 470.5 48.2 471.8 39.2 472.2 38.7 472.6 36.3 475.3 55.2 479.4 92.5" stroke="#E08A50" stroke-width="0.6" stroke-opacity="0.65"/>
<path d="M464.3 92.5 467 72.6 470.5 51.6 471.2 48.7 472.7 57 473.3 61.4 477.2 92.5" stroke="#D9A86A" stroke-width="0.6" stroke-opacity="0.65"/>
<path d="M463.7 92.5 466.3 65.7 469 42.6 469.6 39.5 471.2 52.1 475.1 92.5" stroke="#B58FD0" stroke-width="0.6" stroke-opacity="0.65"/>
<path d="M465.7 92.5 470.7 48.7 471.5 44.2 472.3 37 472.7 34.9 473.1 33.9 473.4 30.9 473.9 31.9 476.1 45.7 476.5 49.9 478.7 64.7 482.2 92.5" stroke="#7FCBEA" stroke-width="0.6" stroke-opacity="0.65"/>
<path d="M469.8 92.5 474.8 55.2 475.8 50.1 476.5 44.4 476.9 43.8 477.7 46.7 478.1 49.6 478.4 50.5 482.3 75.9 484.7 92.5" stroke="#E39A8E" stroke-width="0.6" stroke-opacity="0.65"/>
<path d="M463.1 92.5 468.8 62.6 470.1 57.2 471.5 50.7 471.9 50.4 472.3 52.5 473.2 54.6 475 63.6 475.8 67 480.7 92.5" stroke="#9FC36A" stroke-width="0.6" stroke-opacity="0.65"/>
<path d="M472.1 92.5 476.8 58.5 477.4 54.4 477.8 52.8 478.1 52.4 478.4 50.5 478.7 51.9 479.1 52.5 479.8 57.8 483 75.7 485.5 92.5" stroke="#E0B050" stroke-width="0.6" stroke-opacity="0.65"/>
<path d="M469.6 92.5 475.1 55.8 477.6 42.4 478 41.3 478.5 43.5 478.9 44.3 479.3 47.9 479.7 48.6 482.9 69.4 486.2 92.5" stroke="#C07890" stroke-width="0.6" stroke-opacity="0.65"/>
<path d="M466.9 92.5 470.9 65.7 471.2 64.9 471.5 61.5 471.8 60.4 472.5 55.8 473.2 52.7 473.5 52.2 473.9 53.2 474.2 55.9 474.6 55.9 475.3 60.7 476.1 63.5 480.9 92.5" stroke="#8FB0E0" stroke-width="0.6" stroke-opacity="0.65"/>
<path d="M468.4 92.5 473.4 66.5 474.2 63.7 474.6 60.9 474.9 60.7 475.3 58 476.1 56 477.2 61.7 478.4 69.5 478.6 70.4 481.7 92.5" stroke="#A070C0" stroke-width="0.6" stroke-opacity="0.65"/>
<path d="M465.6 92.5 468.7 74.9 471.8 59.7 472.2 56.8 473.6 51 474 48.1 474.5 47.7 474.9 50.2 475.3 50.5 475.7 52.8 476.1 53.9 477 59.7 477.4 60.8 478.2 66 478.6 67.6 482.8 92.5" stroke="#E08A50" stroke-width="0.6" stroke-opacity="0.65"/>
<path d="M461.4 92.5 465.9 58.3 467.5 48.5 467.9 44.9 468.3 43.7 468.7 39.5 469.2 39.2 469.6 36.5 470.4 39.4 471.3 46.2 472.6 53.7 473.1 55.3 478.4 92.5" stroke="#D9A86A" stroke-width="0.6" stroke-opacity="0.65"/>
<path d="M463.9 92.5 466.1 76.5 470.6 46.9 471.9 39.3 472.3 38.6 472.8 36.4 473.5 39.8 474.6 47.3 474.9 51 475.6 55.3 479.9 92.5" stroke="#B58FD0" stroke-width="0.6" stroke-opacity="0.65"/>
<path d="M470.6 92.5 474.9 56.2 475.2 55.1 475.5 51.7 475.9 50.8 476.8 44.5 477.1 46.5 477.4 46.9 478.4 55 479 58.1 483.1 92.5" stroke="#7FCBEA" stroke-width="0.6" stroke-opacity="0.65"/>
<path d="M462.5 92.5 465.4 70.5 465.7 69.7 467.7 55.6 468 55.7 468.3 53.5 468.6 55.8 468.9 55.3 470.5 64.9 474.5 92.5" stroke="#E39A8E" stroke-width="0.6" stroke-opacity="0.65"/>
<rect x="476.5" y="99.5" width="30" height="47.5" fill="#fff" stroke="#9a9a9a" stroke-width="1"/>
<path d="M476.5 104.8 477.5 105.5 478.5 105.8 479.5 105.9 480.5 105.5 481.5 106.4 482.5 106.6 484.5 106.3 485.5 107.2 487.5 107 488.5 107.2 489.5 108.1 491.5 108 493.5 109.2 495.5 108.7 496.5 109.3 497.5 109.2 498.5 108.6 499.5 108.3 500.5 108.4 504.5 103.6 505.5 101.6 506.5 100.6" stroke="#E0A050" stroke-width="0.8" stroke-opacity="0.9"/>
<path d="M476.5 110.4 477.5 110.5 478.5 110 479.5 111 481.5 111.1 482.5 110.8 483.5 111.9 484.5 111.6 486.5 111.6 487.5 112.6 488.5 112.2 489.5 112.4 490.5 112.8 491.5 113.7 492.5 113.2 495.5 114.3 496.5 113.6 498.5 114 499.5 113.6 500.5 112.5 501.5 112.3 502.5 111.4 504.5 107.7 506.5 106" stroke="#0072BD" stroke-width="0.8" stroke-opacity="0.95"/>
<path d="M476.5 111.2 477.5 111.3 478.5 110.9 480.5 112 482.5 111.7 483.5 112.4 484.5 112.7 485.5 112.4 486.5 112.5 487.5 113.1 488.5 113.4 489.5 113.1 491.5 114.3 492.5 114.4 493.5 114.1 494.5 114.8 495.5 115 497.5 114.3 498.5 114.8 499.5 114.4 501.5 112.7 502.5 112.4 504.5 108.7 505.5 107.3 506.5 107" stroke="#77AC30" stroke-width="0.8" stroke-opacity="0.95"/>
<path d="M476.5 111.3 477.5 112 478.5 112.3 479.5 112.4 480.5 112 481.5 113 484.5 112.8 485.5 113.7 487.5 113.5 488.5 113.7 489.5 114.6 490.5 114.4 491.5 114.6 493.5 115.7 494.5 115.2 495.5 115.3 496.5 115.7 497.5 115.7 498.5 115 500.5 114.9 504.5 110.1 505.5 108.1 506.5 107" stroke="#7E2F8E" stroke-width="0.8" stroke-opacity="0.95"/>
<path d="M476.5 112.9 478.5 112.9 479.5 112.6 480.5 113.7 483.5 113.5 484.5 114.5 485.5 114 487.5 114.3 488.5 115.3 489.5 114.7 491.5 115.6 492.5 116.4 493.5 115.7 494.5 116.2 496.5 116.6 497.5 115.8 498.5 116.3 499.5 116 500.5 115.5 501.5 114.1 502.5 113.8 505.5 108.7 506.5 108.5" stroke="#D95319" stroke-width="0.8" stroke-opacity="0.95"/>
<path d="M476.5 113.6 477.5 113.2 478.5 113.5 479.5 114.2 481.5 114 483.5 115 484.5 114.6 485.5 114.7 487.5 115.7 488.5 115.2 490.5 116.3 491.5 116.7 492.5 116.2 493.5 117 494.5 117.3 495.5 117.2 496.5 116.7 497.5 117.4 499.5 116.6 500.5 115.7 501.5 115.8 504.5 111 505.5 110.4 506.5 108.7" stroke="#A2142F" stroke-width="0.8" stroke-opacity="0.95"/>
<path d="M476.5 114.5 477.5 113.8 478.5 114.6 479.5 114.9 480.5 115 481.5 114.6 482.5 115.6 485.5 115.4 486.5 116.3 488.5 116.1 489.5 116.4 490.5 117.3 491.5 117.1 492.5 117.2 494.5 118.2 495.5 117.7 496.5 117.7 497.5 118.1 498.5 117.9 499.5 117.1 501.5 116.5 503.5 113.3 505.5 111 506.5 109.5" stroke="#8B3A2F" stroke-width="0.8" stroke-opacity="0.95"/>
<path d="M476.5 115.2 477.5 114.6 478.5 115.6 480.5 115.7 481.5 115.4 482.5 116.5 483.5 116.2 485.5 116.2 486.5 117.2 487.5 116.7 488.5 117 489.5 117.3 490.5 118.2 491.5 117.7 494.5 119.1 495.5 118.3 496.5 118.7 497.5 118.9 498.5 118.7 499.5 117.8 500.5 117.9 501.5 117.2 502.5 115.9 503.5 114 504.5 113.2 506.5 110.3" stroke="#4DBEEE" stroke-width="0.8" stroke-opacity="0.95"/>
<path d="M476.5 116.1 479.5 115.9 480.5 116.9 481.5 116.7 483.5 116.8 484.5 117.7 485.5 117.2 487.5 117.6 488.5 118.4 489.5 117.8 492.5 119.5 493.5 118.8 494.5 119.5 495.5 119.7 496.5 119.8 497.5 118.9 498.5 119.5 500.5 118.6 501.5 117.3 502.5 117.1 505.5 111.9 506.5 111.8" stroke="#C05030" stroke-width="0.8" stroke-opacity="0.95"/>
<path d="M476.5 116.7 477.5 116.2 478.5 117.2 480.5 117.3 481.5 117.1 482.5 118.2 483.5 117.8 485.5 117.9 486.5 118.9 487.5 118.3 489.5 118.9 490.5 119.8 491.5 119.3 494.5 120.7 495.5 119.9 496.5 120.4 498.5 120.3 499.5 119.3 500.5 119.5 501.5 118.8 502.5 117.5 503.5 115.6 504.5 114.8 506.5 111.9" stroke="#7E2F8E" stroke-width="0.8" stroke-opacity="0.95"/>
<path d="M476.5 117.7 477.5 117.2 479.5 118.2 481.5 117.9 483.5 119 484.5 118.6 485.5 118.7 486.5 119.3 487.5 119.6 488.5 119.2 490.5 120.4 491.5 120.6 492.5 120.3 493.5 121 494.5 121.3 496.5 120.7 497.5 121.4 498.5 121.1 500.5 119.8 501.5 119.8 504.5 115.1 505.5 114.4 506.5 112.7" stroke="#A2142F" stroke-width="0.8" stroke-opacity="0.95"/>
<path d="M476.5 117.7 477.5 118.5 479.5 118.8 480.5 118.4 481.5 119.5 484.5 119.2 485.5 120.2 486.5 119.9 488.5 120.1 489.5 121.1 490.5 120.7 491.5 121 493.5 122.1 494.5 121.5 496.5 122.1 497.5 122.1 498.5 121.3 499.5 121.4 500.5 121.2 501.5 120.3 502.5 118.7 503.5 117.8 505.5 114.5 506.5 113.4" stroke="#0072BD" stroke-width="0.8" stroke-opacity="0.95"/>
<path d="M476.5 119.1 478.5 119.5 479.5 119 480.5 119.9 481.5 120.1 483.5 119.8 484.5 120.7 486.5 120.5 487.5 120.6 488.5 121.5 490.5 121.4 492.5 122.7 493.5 122.4 494.5 122.4 495.5 122.9 496.5 123 497.5 122.4 498.5 122.3 499.5 122.6 500.5 121.9 501.5 120.7 503.5 118.9 505.5 115.2 506.5 114.6" stroke="#77AC30" stroke-width="0.8" stroke-opacity="0.95"/>
<path d="M476.5 119.4 477.5 120.2 480.5 120.2 481.5 121.2 482.5 120.8 483.5 120.8 484.5 121.1 485.5 121.8 486.5 121.3 488.5 121.9 489.5 122.6 490.5 122.1 491.5 122.8 493.5 123.6 494.5 122.9 495.5 123.7 497.5 123.6 498.5 122.8 499.5 123.4 501.5 121.8 502.5 120.3 503.5 119.7 504.5 117.7 506.5 115" stroke="#7E2F8E" stroke-width="0.8" stroke-opacity="0.95"/>
<path d="M476.5 120.9 479.5 120.8 480.5 121.7 482.5 121.5 483.5 121.7 484.5 122.5 485.5 121.9 487.5 122.5 488.5 123.2 489.5 122.6 492.5 124.3 493.5 123.6 494.5 124.4 496.5 124.5 497.5 123.7 498.5 124.4 500.5 123.4 501.5 122.1 502.5 122 505.5 116.7 506.5 116.6" stroke="#D95319" stroke-width="0.8" stroke-opacity="0.95"/>
<path d="M476.5 126 477.5 126.7 478.5 127.1 479.5 127.2 480.5 126.9 481.5 127.9 482.5 128 484.5 127.9 485.5 128.8 487.5 128.6 488.5 128.9 489.5 129.9 491.5 130 493.5 131.3 494.5 130.9 495.5 130.9 496.5 131.4 497.5 131.3 498.5 130.6 500.5 130.3 501.5 129 504.5 124.3 505.5 121.9 506.5 120.6" stroke="#C0A0E0" stroke-width="0.8" stroke-opacity="0.7"/>
<path d="M476.5 128.3 477.5 127.8 479.5 129 480.5 129 481.5 128.8 482.5 129.5 483.5 129.9 484.5 129.7 485.5 129.7 486.5 130.4 487.5 130.7 488.5 130.4 489.5 130.9 490.5 131.7 491.5 131.9 492.5 131.8 493.5 132.5 494.5 132.9 496.5 132.3 497.5 132.9 498.5 132.6 500.5 131.2 501.5 131 504.5 125.2 505.5 124.1 506.5 122.2" stroke="#F0A080" stroke-width="0.8" stroke-opacity="0.7"/>
<path d="M476.5 129.1 477.5 129.9 479.5 130.3 480.5 130 481.5 131.1 484.5 131 485.5 132 486.5 131.8 487.5 131.8 488.5 132 489.5 133.1 490.5 132.8 491.5 133.1 493.5 134.4 494.5 133.9 496.5 134.5 497.5 134.5 498.5 133.6 500.5 133.3 501.5 132.1 504.5 127.3 505.5 125.1 506.5 123.7" stroke="#4DBEEE" stroke-width="0.8" stroke-opacity="0.7"/>
<path d="M476.5 131.4 478.5 131.3 479.5 131.5 480.5 132.4 482.5 132.3 483.5 132.6 484.5 133.4 485.5 132.9 486.5 133.1 488.5 134.2 489.5 133.8 492.5 135.6 493.5 135 494.5 135.8 496.5 136 497.5 135.2 498.5 135.8 500.5 134.6 501.5 133.2 502.5 132.7 505.5 126.4 506.5 126.1" stroke="#E8B0C0" stroke-width="0.8" stroke-opacity="0.7"/>
<path d="M476.5 132.9 477.5 133 478.5 132.5 479.5 133.6 481.5 133.8 482.5 133.6 483.5 134.7 484.5 134.5 486.5 134.5 487.5 135.6 488.5 135.3 489.5 135.5 490.5 136 491.5 136.9 492.5 136.6 495.5 137.7 496.5 137 498.5 137.3 499.5 136.9 500.5 135.7 501.5 135.2 502.5 134.1 504.5 129.7 506.5 127.3" stroke="#EDB120" stroke-width="0.8" stroke-opacity="0.7"/>
<path d="M476.5 134.5 478.5 134.7 479.5 134.4 480.5 135.5 483.5 135.4 484.5 136.5 485.5 136.1 487.5 136.4 488.5 137.4 489.5 137 491.5 138 492.5 138.8 493.5 138.3 494.5 138.7 496.5 139.2 497.5 138.4 498.5 138.7 499.5 138.5 500.5 137.8 501.5 136.3 502.5 135.6 505.5 129.5 506.5 128.9" stroke="#A0D0F0" stroke-width="0.8" stroke-opacity="0.7"/>
<path d="M476.5 135.4 478.5 136.4 479.5 136.5 480.5 136.3 481.5 137 482.5 137.4 484.5 137.2 485.5 138 486.5 138.2 487.5 137.9 488.5 138.3 489.5 139.1 490.5 139.3 491.5 139.2 493.5 140.5 495.5 140.1 496.5 140.7 497.5 140.6 499.5 139.5 500.5 139.6 504.5 133.6 505.5 131.2 506.5 130" stroke="#D0A0D0" stroke-width="0.8" stroke-opacity="0.7"/>
<path d="M476.5 137.6 477.5 137 478.5 137.8 479.5 138.2 480.5 138.3 481.5 138 482.5 138.9 483.5 139.1 485.5 139 486.5 139.8 488.5 139.7 489.5 140.2 490.5 141.1 492.5 141.1 494.5 142.2 496.5 141.7 497.5 142.2 498.5 141.9 500.5 140.6 501.5 140.2 504.5 134.7 505.5 133.4 506.5 131.5" stroke="#4DBEEE" stroke-width="0.8" stroke-opacity="0.7"/>
<line x1="452.8" y1="104.7" x2="465" y2="93" stroke="#333" stroke-width="0.8"/>
<line x1="443.3" y1="116.2" x2="433.5" y2="126.8" stroke="#333" stroke-width="0.8"/>
<line x1="464.3" y1="115.4" x2="476.5" y2="120.3" stroke="#333" stroke-width="0.8"/>
<text x="444.9" y="113.2" font-size="9" text-anchor="start" textLength="20.2" lengthAdjust="spacingAndGlyphs" >Noise</text>
<line x1="433.5" y1="156.4" x2="442.8" y2="167.9" stroke="#222" stroke-width="0.8"/>
<polygon points="446.3,172.2 441.1,169.3 444.5,166.5" fill="#111"/>
<line x1="491.5" y1="58.3" x2="506.5" y2="49.4" stroke="#222" stroke-width="0.8"/>
<polygon points="511.2,46.6 507.6,51.3 505.3,47.5" fill="#111"/>
<line x1="501.2" y1="147" x2="503.7" y2="153.3" stroke="#222" stroke-width="0.8"/>
<polygon points="505.8,158.4 501.7,154.1 505.8,152.5" fill="#111"/>
<text x="351.6" y="11.6" font-size="10" text-anchor="start" textLength="132.4" lengthAdjust="spacingAndGlyphs" >Raw NIR Spectroscopy-Grade 2</text>
<text x="381.3" y="216.3" font-size="10" text-anchor="start" textLength="79.2" lengthAdjust="spacingAndGlyphs" >Wavenumber(cm<tspan font-size="6.5" dy="-3.2">-1</tspan><tspan dy="3.2">)</tspan></text>
<text x="408.5" y="229.4" font-size="10" text-anchor="start" textLength="11.2" lengthAdjust="spacingAndGlyphs" >(b)</text>
<text transform="translate(288.6 108.5) rotate(-90)" font-size="10" text-anchor="middle" textLength="88" lengthAdjust="spacingAndGlyphs">Absorbance(log(1/R))</text>
<path d="M231.4 360 232.2 336 233 302 234 279 235 286.8 236.3 303 239.8 421.1 240.5 408 244.2 370 246.2 359.2" stroke="#7E2F8E" stroke-width="0.6"/>
<path d="M231.4 360 234 270.8 235 278.5 236.3 303 239.8 420 240.5 408 244.2 370 246.2 359.2" stroke="#0072BD" stroke-width="0.6"/>
<path d="M231.4 360 232.2 336 233 302 233.8 282.9 235 294.4 236.3 303 237.3 333 239.7 420.3 240.5 408 244.2 370 246.2 359.2" stroke="#D95319" stroke-width="0.6"/>
<path d="M231.4 360 232.2 336 233 302 233.7 292 236.2 278 236.9 300 238.4 372 239.2 402 240 416.7 240.5 408 244.2 370 246.2 359.2" stroke="#77AC30" stroke-width="0.6"/>
<path d="M231.4 360 232.2 336 233 302 234 275.9 235 283.9 236.3 303 237.3 333 239.7 420.1 240.5 408 244.2 370 246.2 359.2" stroke="#4DBEEE" stroke-width="0.6"/>
<path d="M231.4 360 232.2 336 233.6 279.9 235 286.7 236.3 303 239.8 421.7 240.5 408 244.2 370 246.2 359.2" stroke="#A2142F" stroke-width="0.6"/>
<path d="M231.4 360 232.2 336 233.6 278.1 235 286.8 236.3 303 239.8 421.3 240.5 408 244.2 370 246.2 359.2" stroke="#EDB120" stroke-width="0.6"/>
<path d="M231.4 360 232.2 336 233 302 233.8 283.6 236.3 303 239.7 417.7 242 392 244.2 370 246.2 359.2" stroke="#7E2F8E" stroke-width="0.6"/>
<path d="M231.4 360 232.2 336 233 302 233.9 285.4 235 294.8 236.3 303 237.3 333 239.2 402 239.9 417.8 240.5 408 244.2 370 246.2 359.2" stroke="#0072BD" stroke-width="0.6"/>
<path d="M231.4 360 232.2 336 233 302 233.8 283.1 235 289.5 236.3 303 237.3 333 239.2 402 239.9 419.1 240.5 408 244.2 370 246.2 359.2" stroke="#D95319" stroke-width="0.6"/>
<path d="M231.4 360 232.2 336 233 302 233.8 286.1 236.3 303 237.3 333 239.2 402 239.9 417.9 240.5 408 244.2 370 246.2 359.2" stroke="#77AC30" stroke-width="0.6"/>
<path d="M231.4 360 232.2 336 233 302 233.7 287.5 236.3 303 239.8 418.4 240.5 408 244.2 370 246.2 359.2" stroke="#4DBEEE" stroke-width="0.6"/>
<path d="M231.4 360 232.2 336 233 302 233.7 288.7 236.3 303 237.3 333 239.2 402 239.8 417.7 240.5 408 244.2 370 246.2 359.2" stroke="#A2142F" stroke-width="0.6"/>
<path d="M231.4 360 232.2 336 233 302 233.7 289.6 236.3 303 237.3 333 239.2 402 239.8 418.3 240.5 408 244.2 370 246.2 359.2" stroke="#EDB120" stroke-width="0.6"/>
<path d="M231.4 360 232.2 336 233 302 233.7 290.7 236.3 303 239.8 418.2 240.5 408 244.2 370 246.2 359.2" stroke="#7E2F8E" stroke-width="0.6"/>
<path d="M231.4 360 232.2 336 233 302 233.7 292 236.3 303 239.8 418 240.5 408 244.2 370 246.2 359.2" stroke="#EDB120" stroke-width="0.6"/>
<path d="M246.2 359.7 247.2 364.4 247.7 367.9 249.2 382.9 249.7 386.2 250.2 387 250.7 386.5 251.2 384.7 252.7 377.6 253.2 376.1 253.7 375.2 254.2 375.1 255.7 372.9 256.2 370.6 257.2 363.6 257.7 361.8" stroke="#0072BD" stroke-width="0.55"/>
<path d="M246.2 359.5 247.2 363.9 247.7 367.7 249.2 383.3 249.7 386.4 250.2 387.5 251.2 385.1 252.7 377.5 253.2 376.1 254.7 374.8 255.7 372.7 256.2 370.5 257.2 363.1 257.7 361.9" stroke="#7E2F8E" stroke-width="0.55"/>
<path d="M246.2 359.8 246.7 361.1 247.2 364.2 249.2 383.1 249.7 386.5 250.2 387.6 250.7 386.5 251.7 383.1 252.7 377.6 253.2 376.1 254.2 374.7 254.7 374.5 255.7 373 257.2 363.2 257.7 361.7" stroke="#77AC30" stroke-width="0.55"/>
<path d="M186 366.9 187.5 371 188.5 373.1 190 374.8 191 375.4 192 375.6 193.5 375.1 198 372.1 199.5 371.6 201 372 205.5 374.8 206.5 375.1 207.5 374.9 208.5 374.4 210 373.1 212 369.8" stroke="#0072BD" stroke-width="0.5" stroke-opacity="0.8"/>
<path d="M186 366.5 187.5 370.6 188.5 372.8 190 374.4 191 375 192 375.2 193.5 374.7 198 371.8 199.5 371.2 201 371.6 205.5 374.4 206.5 374.7 207.5 374.5 208.5 374 210 372.7 212 369.4" stroke="#7E2F8E" stroke-width="0.5" stroke-opacity="0.8"/>
<path d="M186 366.4 187.5 370.6 188.5 372.7 190 374.4 191 374.9 192 375.2 193.5 374.6 198 371.7 199.5 371.1 201 371.5 205.5 374.4 206.5 374.6 207.5 374.5 208.5 373.9 210 372.6 212 369.3" stroke="#77AC30" stroke-width="0.5" stroke-opacity="0.8"/>
<path d="M186 366.4 187.5 370.6 188.5 372.7 190 374.4 191 375 192 375.2 193.5 374.7 198 371.7 199.5 371.1 201 371.6 205.5 374.4 206.5 374.7 207.5 374.5 208.5 374 210 372.6 212 369.3" stroke="#A2142F" stroke-width="0.5" stroke-opacity="0.8"/>
<path d="M32.5 371 108.5 371 125 370.8 128.5 370.5 134 369.7 135.5 369.3 137.5 368.3 138.1 368.4 138.5 369 139.4 371.5 140 372.7 140.7 373.4 141 373.2 142 371.7 143 371.4 154 371.6 159 371.5 164 371.1 167 370.4 169.3 368.7 171.5 368.6 172.6 368.2 173.5 367.1 175.5 363.9 178.3 361 179.5 359.2 179.8 359.1 180.5 359.6 182.6 362.4 185 365" stroke="#ffffff" stroke-width="1.3"/>
<path d="M212 369.8 212.6 366 214 334.8 214.2 333.9 215.4 372 216 385.3 216.2 386.6 216.5 385.2 218.5 360.1 219 356.8 220.3 391.1 221.5 370.1 222.1 363.6 223.3 380 223.5 379.6 224.5 373.4 225 372.3 227 369.4 228 368.5 228.5 368.8 229.5 370.4 230 370.5 230.3 370 231.5 360 233 302 233.7 292 236.3 303 239.8 418 240.5 408 244.2 370 246.2 359.2" stroke="#ffffff" stroke-width="1.3"/>
<path d="M169 368.9 169.9 371.7 171.8 364.7 172.7 369.9 173.7 360.7 174.5 359 176.2 370.8 177.4 364.3 178.4 355.8 179 360.3 179.7 355 180.4 353.9 181.3 360 182.4 362.2" stroke="#A2142F" stroke-width="0.7" stroke-opacity="0.95"/>
<path d="M169 368.9 170 368.2 170.8 373.5 171.9 372.8 172.9 365.3 173.7 363.7 174.4 369.8 175.2 369.8 176.1 370.6 177.1 354.3 177.9 367.7 178.8 367.2 179.6 353.4 180.6 362.9 181.4 356.7 182.2 365" stroke="#B01838" stroke-width="0.7" stroke-opacity="0.95"/>
<path d="M169 368.9 169.8 365.9 170.4 371.2 171.2 369.3 172 364.6 174 360.4 174.9 360.3 175.7 371.2 176.7 359.5 177.8 357.1 178.7 365.6 179.6 353.8 180.8 356.8 181.6 363.4 182.4 360.9" stroke="#A2142F" stroke-width="0.7" stroke-opacity="0.95"/>
<path d="M169 368.9 169.9 366.7 170.9 367.3 171.8 374.2 173.8 362 174.5 371.8 175.5 359.8 176.3 366.8 177.4 357.2 178.6 366.2 180.2 353.7 181.4 358.2 182.4 360.6" stroke="#D95319" stroke-width="0.7" stroke-opacity="0.95"/>
<path d="M176 363.3 176.6 363.3 177.4 364 179 362 180.2 357.6 181 361.6 181.8 359.6 182.5 364.8 183.6 365.4 184.4 366.9 185.3 363.9 186.8 369.3 187.6 371.5" stroke="#A2142F" stroke-width="0.6" stroke-opacity="0.95"/>
<path d="M176 363.3 176.8 363.6 178 361.3 179.2 356.7 179.9 357 181 361.5 182 360.1 182.9 365.4 183.6 360.9 184.3 363.9 186.2 367.4 186.9 371 187.7 371.1" stroke="#7E2F8E" stroke-width="0.6" stroke-opacity="0.95"/>
<path d="M224.8 372.7 225.8 373.1 226.5 363.5 227.3 365.5 228.4 371.7 229.3 371 230.3 366.3" stroke="#A2142F" stroke-width="0.7" stroke-opacity="0.95"/>
<path d="M224.8 372.7 225.9 366 227 363.1 228 365.9 228.8 374.6 229.5 364.3 230.6 368.1" stroke="#B01838" stroke-width="0.7" stroke-opacity="0.95"/>
<path d="M224.8 372.7 225.9 366.6 226.8 364.4 227.6 370.6 228.3 371.7 229 364.6 230 369.3 230.9 365.3" stroke="#A2142F" stroke-width="0.7" stroke-opacity="0.95"/>
<path d="M224.8 372.7 225.4 373.7 226.6 376.8 227.6 366.5 228.4 371.7 229.4 364.9 230.2 368.8 231.1 364" stroke="#7E2F8E" stroke-width="0.7" stroke-opacity="0.95"/>
<path d="M69.5 371 70.5 371.3 71.6 370.4 72.3 370.3 73.1 371.5 74.5 370.7 75.4 371.2" stroke="#A2142F" stroke-width="0.6" stroke-opacity="0.95"/>
<path d="M69.5 371 70.3 370.6 71.4 371.6 73.5 371.8 74.5 370.7" stroke="#D95319" stroke-width="0.6" stroke-opacity="0.95"/>
<path d="M124.5 370.8 125.5 371.2 126.6 369.9 127.4 371.5 128.4 369.9 129.4 370.2" stroke="#A2142F" stroke-width="0.6" stroke-opacity="0.95"/>
<path d="M124.5 370.8 125.3 371.7 126.1 370 127.1 371.1 127.8 370.8 128.8 369.5 129.8 369.9" stroke="#D95319" stroke-width="0.6" stroke-opacity="0.95"/>
<path d="M124.5 370.8 125.2 371.9 126.1 372.3 127 371.1 128.1 371.2 129.7 369.9" stroke="#A2142F" stroke-width="0.6" stroke-opacity="0.95"/>
<path d="M32.5 371 108.5 371 125 370.8 128.5 370.5 134 369.7 135.5 369.3 137.5 368.3 138.1 368.4 138.5 369 139.4 371.5 140 372.7 140.7 373.4 141 373.2 142 371.7 143 371.4 154 371.6 159 371.5 164 371.1 167 370.4 169.3 368.7 171.5 368.6 172.6 368.2 173.5 367.1 175.5 363.9 178.3 361 179.5 359.2 179.8 359.1 180.5 359.6 182.6 362.4 185 365 186 366.9 188.4 373 189.5 374.4 190.5 375.2 192 375.6 193 375.4 195.5 373.9 198 372.1 199.5 371.6 201 372 205.5 374.8 206.4 375.1 207 375.1 208 374.7 209 374 210.5 372.4 212 369.8 212.5 367.1 214 334.8 214.2 333.9 215 360.6 216 385.3 216.2 386.6 216.5 385.2 218.5 360.1 219.1 356.9 220.3 391.1 221.5 370.1 222.1 363.6 223.3 380 223.5 379.6 224.3 374 225 372.3 227 369.4 228 368.5 228.5 368.8 229.5 370.4 230 370.5 230.3 370 230.5 368.9 231.5 360 233 302 233.7 292 236.3 303 239.8 418 240.5 408 244.2 370 246.2 359.2 247.2 363.8 249.2 383.5 249.7 386.9 250.2 388.2 250.7 387.3 251.3 385 253 377 253.7 375.7 255.2 374 255.8 372.5 257.2 362.9 257.5 361.5 257.7 361.5" stroke="#EDB120" stroke-width="0.75"/>
<line x1="32.4" y1="429.9" x2="32.4" y2="427.7" stroke="#8c8c8c" stroke-width="0.8"/>
<line x1="32.4" y1="252.5" x2="32.4" y2="254.7" stroke="#8c8c8c" stroke-width="0.8"/>
<line x1="77.4" y1="429.9" x2="77.4" y2="427.7" stroke="#8c8c8c" stroke-width="0.8"/>
<line x1="77.4" y1="252.5" x2="77.4" y2="254.7" stroke="#8c8c8c" stroke-width="0.8"/>
<line x1="122.5" y1="429.9" x2="122.5" y2="427.7" stroke="#8c8c8c" stroke-width="0.8"/>
<line x1="122.5" y1="252.5" x2="122.5" y2="254.7" stroke="#8c8c8c" stroke-width="0.8"/>
<line x1="167.5" y1="429.9" x2="167.5" y2="427.7" stroke="#8c8c8c" stroke-width="0.8"/>
<line x1="167.5" y1="252.5" x2="167.5" y2="254.7" stroke="#8c8c8c" stroke-width="0.8"/>
<line x1="212.6" y1="429.9" x2="212.6" y2="427.7" stroke="#8c8c8c" stroke-width="0.8"/>
<line x1="212.6" y1="252.5" x2="212.6" y2="254.7" stroke="#8c8c8c" stroke-width="0.8"/>
<line x1="257.6" y1="429.9" x2="257.6" y2="427.7" stroke="#8c8c8c" stroke-width="0.8"/>
<line x1="257.6" y1="252.5" x2="257.6" y2="254.7" stroke="#8c8c8c" stroke-width="0.8"/>
<line x1="32.4" y1="429.9" x2="34.6" y2="429.9" stroke="#8c8c8c" stroke-width="0.8"/>
<line x1="257.6" y1="429.9" x2="255.4" y2="429.9" stroke="#8c8c8c" stroke-width="0.8"/>
<line x1="32.4" y1="371" x2="34.6" y2="371" stroke="#8c8c8c" stroke-width="0.8"/>
<line x1="257.6" y1="371" x2="255.4" y2="371" stroke="#8c8c8c" stroke-width="0.8"/>
<line x1="32.4" y1="311.6" x2="34.6" y2="311.6" stroke="#8c8c8c" stroke-width="0.8"/>
<line x1="257.6" y1="311.6" x2="255.4" y2="311.6" stroke="#8c8c8c" stroke-width="0.8"/>
<line x1="32.4" y1="252.5" x2="34.6" y2="252.5" stroke="#8c8c8c" stroke-width="0.8"/>
<line x1="257.6" y1="252.5" x2="255.4" y2="252.5" stroke="#8c8c8c" stroke-width="0.8"/>
<rect x="32.4" y="252.5" width="225.2" height="177.4" fill="none" stroke="#8c8c8c" stroke-width="1"/>
<text x="30.4" y="432" font-size="9.9" text-anchor="end" >-0.05</text>
<text x="30.4" y="374.4" font-size="9.9" text-anchor="end" >0</text>
<text x="30.4" y="315" font-size="9.9" text-anchor="end" >0.05</text>
<text x="30.4" y="255.9" font-size="9.9" text-anchor="end" >0.1</text>
<text x="31.4" y="440.9" font-size="9.3" text-anchor="middle" >12,000</text>
<text x="77.4" y="440.9" font-size="9.3" text-anchor="middle" >10,500</text>
<text x="122.5" y="440.9" font-size="9.3" text-anchor="middle" >9000</text>
<text x="167.5" y="440.9" font-size="9.3" text-anchor="middle" >7500</text>
<text x="212.6" y="440.9" font-size="9.3" text-anchor="middle" >6000</text>
<text x="257.6" y="440.9" font-size="9.3" text-anchor="middle" >4500</text>
<text x="121.5" y="246.8" font-size="10" text-anchor="start" textLength="48.5" lengthAdjust="spacingAndGlyphs" >Grade 1-FD</text>
<text x="103.6" y="451" font-size="10" text-anchor="start" textLength="79" lengthAdjust="spacingAndGlyphs" >Wavenumber(cm<tspan font-size="6.5" dy="-3.2">-1</tspan><tspan dy="3.2">)</tspan></text>
<text x="130.7" y="464.6" font-size="10" text-anchor="start" textLength="10.9" lengthAdjust="spacingAndGlyphs" >(c)</text>
<path d="M510.3 331 511.2 312 513.9 267.7 514.6 284.8 514.9 353.3 516.4 417.2 518 366.6 521 358" stroke="#7E2F8E" stroke-width="0.65"/>
<path d="M510.3 331 511.2 312 513.8 266.1 516.5 331 518.5 406.8 519.8 365.7 521 358" stroke="#0072BD" stroke-width="0.65"/>
<path d="M510.3 331 513.2 275.8 513.9 288 515 345.2 515.7 405.9 517.3 366.3 521 358" stroke="#7E2F8E" stroke-width="0.65"/>
<path d="M510.3 331 513.7 260.4 514.4 271.3 514.5 350 515.9 410.9 517.5 362.4 521 358" stroke="#D95319" stroke-width="0.65"/>
<path d="M510.3 331 514 262 514.7 270.1 516.5 388.2 518.1 363.7 521 358" stroke="#77AC30" stroke-width="0.65"/>
<path d="M510.3 331 511.2 312 513.3 276.9 514 292.3 514.8 342 515.8 391.5 517.4 362.2 521 358" stroke="#7E2F8E" stroke-width="0.65"/>
<path d="M510.3 331 512.9 281.4 513.6 291.4 514.4 325.8 516.5 387.3 518.1 362.4 521 358" stroke="#4DBEEE" stroke-width="0.65"/>
<path d="M510.3 331 513.4 269.8 514.1 280.9 514.6 341.9 516.6 401.8 518.2 365.8 521 358" stroke="#A2142F" stroke-width="0.65"/>
<path d="M510.3 331 513.3 274.2 514 287.6 514.6 322 515.8 409.4 517.4 368.1 521 358" stroke="#EDB120" stroke-width="0.65"/>
<path d="M510.3 331 511.2 312 513.6 288.2 514.1 278.2 514.8 286.5 514.6 342.8 516 406.6 517.6 365.5 521 358" stroke="#7E2F8E" stroke-width="0.65"/>
<path d="M510.3 331 511.2 312 513.3 282.8 513.8 272.8 516 325.4 516.8 399.5 518.4 365.5 521 358" stroke="#0072BD" stroke-width="0.65"/>
<path d="M510.3 331 512.7 275.7 515.8 321.3 518 396.8 519.6 364.3 521 358" stroke="#7E2F8E" stroke-width="0.65"/>
<path d="M510.3 331 513.1 273.6 513.8 285.9 516 345.4 517.9 402.4 519.5 368.8 521 358" stroke="#D95319" stroke-width="0.65"/>
<path d="M510.3 331 511.2 312 513.4 278.7 513.9 268.7 514.6 282.9 517.3 404.5 518.9 365.6 521 358" stroke="#77AC30" stroke-width="0.65"/>
<path d="M510.3 331 512.9 281.7 515.8 325.4 517.3 391 518.9 366 521 358" stroke="#7E2F8E" stroke-width="0.65"/>
<path d="M510.3 331 511.2 312 513.4 294.6 513.9 284.6 514.6 292.7 516.3 346.3 517.3 403.3 518.9 369 521 358" stroke="#4DBEEE" stroke-width="0.65"/>
<path d="M510.3 331 511.2 312 513.3 289.4 513.8 279.4 514.5 295.2 515.4 323.4 515.9 403.2 517.5 362.3 521 358" stroke="#A2142F" stroke-width="0.65"/>
<path d="M510.3 331 511.2 312 512.9 282.7 513.6 300.3 515.9 344.8 518 392.4 519.6 367.2 521 358" stroke="#EDB120" stroke-width="0.65"/>
<path d="M510.3 331 512.8 274.1 513.5 283.4 515.4 317.5 518.2 374.6 519.8 366.3 521 358" stroke="#7E2F8E" stroke-width="0.65"/>
<path d="M510.3 331 511.2 312 512.8 291.8 513.3 281.8 514 291.1 514.3 326.5 516.1 393.3 517.7 362.6 521 358" stroke="#0072BD" stroke-width="0.65"/>
<path d="M510.3 331 512.9 281.2 513.6 291.5 514.6 341.5 517.2 399.5 518.8 365.2 521 358" stroke="#7E2F8E" stroke-width="0.65"/>
<path d="M510.3 331 511.2 312 512.6 295.9 513.1 285.9 513.8 294 514.8 344 516.3 389.9 517.9 364.1 521 358" stroke="#D95319" stroke-width="0.65"/>
<path d="M510.3 331 511.2 312 512.6 292.5 513.1 282.5 514.6 327 516.2 396.6 517.8 362.3 521 358" stroke="#77AC30" stroke-width="0.65"/>
<path d="M510.3 331 511.2 312 513.1 295.9 513.6 285.9 514.3 294.3 515.9 345.8 518.5 394.4 519.8 364.3 521 358" stroke="#7E2F8E" stroke-width="0.65"/>
<path d="M510.3 331 511.2 312 512.7 289.1 513.2 279.1 513.9 293.3 516.7 395.9 518.3 368.1 521 358" stroke="#4DBEEE" stroke-width="0.65"/>
<path d="M510.3 331 511.2 312 513 295.6 513.5 285.6 516.1 340.7 518 389 519.6 364 521 358" stroke="#A2142F" stroke-width="0.65"/>
<path d="M510.3 331 511.2 312 512.8 295.6 513.3 285.6 514 294.6 516.1 335.4 518 396.4 519.6 365.1 521 358" stroke="#EDB120" stroke-width="0.65"/>
<path d="M510.3 331 511.2 312 512.5 296.6 513 286.6 513.7 296.3 516 376.4 517.6 364.7 521 358" stroke="#7E2F8E" stroke-width="0.65"/>
<path d="M510.3 331 511.2 312 512.9 282.3 513.6 296 514.6 339.2 517.1 380.5 518.7 368.3 521 358" stroke="#0072BD" stroke-width="0.65"/>
<path d="M510.3 331 511.2 312 512.9 292.2 513.4 282.2 516.1 337.2 517.1 393 518.7 364.7 521 358" stroke="#7E2F8E" stroke-width="0.65"/>
<path d="M510.3 331 511.2 312 512.6 295.3 513.1 285.3 513.8 297.9 515.8 326.8 517.2 383.8 518.8 365.8 521 358" stroke="#D95319" stroke-width="0.65"/>
<path d="M510.3 331 511.2 312 512.5 297.3 513 287.3 513.7 304.6 516.2 340.7 518.2 383.1 519.8 364.1 521 358" stroke="#77AC30" stroke-width="0.65"/>
<path d="M510.3 331 511.2 312 512.5 294.9 513 284.9 513.7 301.6 516.2 334.9 518.1 384.9 519.7 363.7 521 358" stroke="#7E2F8E" stroke-width="0.65"/>
<path d="M510.3 331 511.2 312 512.5 297.5 513 287.5 513.7 303.7 515.1 324.3 516.5 375.2 518.1 365.8 521 358" stroke="#4DBEEE" stroke-width="0.65"/>
<path d="M510.3 331 511.2 312 512.7 297 513.2 287 515.9 327.1 517.5 381.9 519.1 364.5 521 358" stroke="#A2142F" stroke-width="0.65"/>
<path d="M510.3 331 511.2 312 512.5 296.8 513 286.8 513.7 303.8 514.4 329.3 515.7 385.8 517.3 364.9 521 358" stroke="#EDB120" stroke-width="0.65"/>
<path d="M510.3 331 511.2 312 512.5 298.4 513 288.4 513.7 301.9 515.1 320.7 516.3 379.8 517.9 362.4 521 358" stroke="#7E2F8E" stroke-width="0.65"/>
<path d="M510.3 331 511.2 312 512.5 298.7 513 288.7 513.7 298.5 515.1 331 515.7 386.3 517.3 365 521 358" stroke="#0072BD" stroke-width="0.65"/>
<path d="M510.3 331 511.2 312 512.5 299.3 513 289.3 515.4 326.9 518 377.7 519.6 364.6 521 358" stroke="#7E2F8E" stroke-width="0.65"/>
<path d="M510.3 331 511.2 312 512.5 300 513 290 513.7 301.2 515 335.4 515.7 381.6 517.3 365.7 521 358" stroke="#D95319" stroke-width="0.65"/>
<path d="M521 361.7 523 345.8 524.5 338.4 525.5 335.9 526 335.6 528.5 351.8 529 353.3 529.5 353.5 532 346.8 534 342.6 535 340.9 536.5 339.3" stroke="#7E2F8E" stroke-width="0.6"/>
<path d="M521 359.9 521.5 357.2 523 345.5 524.5 338.7 525.5 336.4 526 336.4 526.5 338.6 528.5 350.8 529 352.4 529.5 352.2 530 351.2 532.5 345.1 534 342.3 534.5 341.7 535 340.8 536.5 339.6" stroke="#0072BD" stroke-width="0.6"/>
<path d="M521 358 523 344.8 524.5 339 525 337.4 525.5 336.6 526 336.9 526.5 338.8 528.5 349.9 529 351.2 529.5 351.2 533.5 342.8 535 340.7 535.5 340.6 536.5 339.4" stroke="#D95319" stroke-width="0.6"/>
<path d="M521 358.1 521.5 355.7 523 345 524.5 338.7 525 337.5 525.5 336.8 526 336.7 526.5 338.8 528.5 350 529 351.5 529.5 351.5 530 350.6 531 348.1 533.5 342.9 535.5 340.2 536.5 339.8" stroke="#77AC30" stroke-width="0.6"/>
<path d="M521 355.7 523 344.5 524.5 339.3 525.5 337.4 526 337.3 526.5 338.9 528 346.5 529 350 529.5 349.9 532 345.4 533 343.3 535.5 340.3 536 340 536.5 339.9" stroke="#A2142F" stroke-width="0.6"/>
<path d="M521 357.4 521.5 355.2 523 345 524.5 338.9 525 337.7 525.5 337 526 336.7 528.5 349.6 529 350.8 529.5 351.1 532.5 344.6 534.5 341.4 536.5 339.5" stroke="#4DBEEE" stroke-width="0.6"/>
<path d="M521 356.5 523 344.5 524 340.6 525 337.9 525.5 337.2 526 337.2 526.5 339.1 528 346.8 529 350.4 529.5 350.3 530 349.5 533 343.4 535.5 340.4 536.5 339.8" stroke="#7E2F8E" stroke-width="0.6"/>
<path d="M521 357 522.5 347.4 523.5 342.6 524.5 338.9 525.5 336.9 526 337.1 526.5 338.8 528.5 349.4 529 350.7 529.5 350.8 532.5 344.5 533.5 342.8 534.5 341.7 535 340.8 536.5 339.8" stroke="#0072BD" stroke-width="0.6"/>
<path d="M446 340.7 448.5 338.9 450 336.1 450.5 335.5 451 335.8 451.5 343 452 341.9 452.5 338 453 336.5 454.5 333.6 456.5 328 457 327.1 457.5 326.8 458 327 458.5 327.7 460.5 331.7 464.5 337.5 467.5 344.1 468 344.8 469 345.6 470.5 345.9 471.5 345.8 472.5 345.5 475.5 343.5 477.5 341.9 478.5 341.4 479.5 341.6 481 342.8 483 343.8 484 344.1 485 344.1 486 343.8 488 342.6 489.5 342 490 341.4 490.5 340.3 491 337.9 492 329" stroke="#7E2F8E" stroke-width="0.6"/>
<path d="M446 340.8 448.5 339.5 450 337.5 450.5 337.1 451 337.3 451.5 342.9 452 341.8 452.5 338.9 453 337.8 454.5 335.7 456.5 331.8 457 331.1 457.5 330.9 458 331 458.5 331.5 460.5 334.4 464.5 338.5 465.5 340.1 467.5 343.9 468 344.5 469 345.3 470.5 345.6 472.5 345.2 475.5 343.4 477.5 341.8 478.5 341.4 479.5 341.6 481 342.7 483 343.6 484 343.9 485 343.9 489.5 341.9 490 341.4 490.5 340.5 491 338.8 492 332.5" stroke="#0072BD" stroke-width="0.6"/>
<path d="M446 340.7 448.5 339.1 450 336.4 450.5 335.9 451 336.1 451.5 342.6 452 341.7 452.5 338.2 453 336.9 454.5 334.1 456.5 329 457 328.1 457.5 327.8 458 328 458.5 328.7 460.5 332.4 464.5 337.8 467 342.7 468.5 344.4 470 344.9 472 344.7 475 343.3 477.5 341.7 478.5 341.3 479.5 341.5 481.5 342.7 483.5 343.4 484.5 343.5 485.5 343.3 489.5 341.8 490 341.3 490.5 340.3 491 338.2 492 329.9" stroke="#D95319" stroke-width="0.6"/>
<path d="M446 340.8 448.5 339.6 450 337.7 450.5 337.3 451 337.4 451.5 342.9 452 341.9 452.5 339 453 338 454.5 336 456.5 332.2 457 331.6 457.5 331.3 458 331.5 458.5 332 460.5 334.7 464.5 338.6 466 341 467.5 343.9 468 344.6 469 345.3 470.5 345.6 472.5 345.2 475.5 343.4 477.5 341.8 478.5 341.4 479.5 341.6 481 342.7 483 343.6 484 343.9 485 343.9 489.5 341.9 490 341.4 490.5 340.5 491 338.9 492 332.9" stroke="#A2142F" stroke-width="0.6"/>
<path d="M446 340.7 448.5 339.2 450 336.7 450.5 336.2 451 336.4 451.5 342.9 452 341.9 452.5 338.4 453 337.1 454.5 334.5 456.5 329.6 457 328.8 457.5 328.5 458 328.7 458.5 329.3 460.5 332.9 464 337.2 465 338.8 467.5 343.9 468 344.6 469 345.3 470.5 345.6 472.5 345.2 475.5 343.4 477.5 341.8 478.5 341.4 479.5 341.6 481 342.7 483 343.6 484 343.9 485 343.9 489.5 341.9 490 341.4 490.5 340.4 491 338.3 492 330.5" stroke="#4DBEEE" stroke-width="0.6"/>
<path d="M446 340.7 448.5 339.1 450 336.5 450.5 335.9 451 336.2 451.5 342.9 452 341.8 452.5 338.2 453 336.9 454.5 334.2 456.5 329.1 457 328.2 457.5 327.9 458 328.1 458.5 328.7 460.5 332.5 464.5 337.8 467.5 343.9 468 344.5 469 345.3 470.5 345.6 472.5 345.2 475.5 343.4 477.5 341.8 478.5 341.4 479.5 341.6 481 342.7 483 343.6 484 343.9 485 343.9 489.5 341.9 490 341.4 490.5 340.3 491 338.2 492 330" stroke="#77AC30" stroke-width="0.6"/>
<path d="M446 340.8 448.5 339.6 450 337.6 450.5 337.2 451 337.4 451.5 343 452 341.9 452.5 339 453 337.9 454.5 335.9 456.5 332.1 457 331.5 457.5 331.3 458 331.4 458.5 331.9 460.5 334.7 464.5 338.6 466 341 467.5 344.1 468 344.8 469 345.6 470.5 346 471.5 345.9 472.5 345.5 475.5 343.5 477.5 341.9 478.5 341.4 479.5 341.6 481 342.8 483 343.8 484 344.1 485 344.1 486 343.8 488 342.6 489.5 342 490 341.4 490.5 340.5 491 338.9 492 332.8" stroke="#7E2F8E" stroke-width="0.6"/>
<path d="M446 340.7 448.5 338.9 450 336.1 450.5 335.6 451 335.8 451.5 342.6 452 341.7 452.5 338 453 336.6 454.5 333.7 456.5 328.2 457 327.3 457.5 326.9 458 327.2 458.5 327.9 460.5 331.8 464 336.7 467 342.7 468.5 344.4 470 344.8 472 344.7 475 343.3 477.5 341.7 478.5 341.3 479.5 341.5 481.5 342.6 483.5 343.3 484.5 343.5 485.5 343.3 489.5 341.8 490 341.3 490.5 340.3 491 338 492 329.2" stroke="#0072BD" stroke-width="0.6"/>
<path d="M446 340.7 448.5 339.1 450 336.4 450.5 335.9 451 336.1 451.5 343 452 341.9 452.5 338.2 453 336.8 454.5 334.1 456.5 328.9 457 328.1 457.5 327.7 458 328 458.5 328.6 460.5 332.4 464 337 465 338.7 467.5 344.1 468 344.8 469 345.6 470.5 346 471.5 345.9 472.5 345.5 475.5 343.5 477.5 341.9 478.5 341.4 479.5 341.6 481 342.8 483 343.8 484 344.1 485 344.1 486 343.8 488 342.6 489.5 342 490 341.4 490.5 340.3 491 338.1 492 329.9" stroke="#D95319" stroke-width="0.6"/>
<path d="M446 340.7 448.5 339.3 450 337 450.5 336.5 451 336.7 451.5 342.6 452 341.7 452.5 338.6 453 337.4 454.5 335 456.5 330.5 457 329.7 457.5 329.4 458 329.6 458.5 330.2 460.5 333.5 464.5 338.2 467.5 343.4 468 344 469 344.6 470.5 344.8 472.5 344.5 475.5 343 477.5 341.7 478.5 341.3 479.5 341.5 481 342.4 483 343.2 484 343.4 485 343.4 489.5 341.7 490 341.3 490.5 340.4 491 338.5 492 331.3" stroke="#A2142F" stroke-width="0.6"/>
<path d="M311.5 341 406 340.9 411 340.7 414.5 340.3 416 340 417.5 339 418 339 418.5 339.6 419.5 342.1 419.9 342.6 421 341.4 422 341.2 440 341.3 445 341 446.5 340.6 448.5 339.6 450 337.7 450.5 337.3 451 337.5 451.6 343 452.5 339 453 338 454.5 336 456.5 332.3 457 331.7 457.5 331.5 458 331.6 458.5 332.1 460.4 334.7 464.5 338.7 467.5 343.4 468 343.9 469 344.5 470.5 344.8 472.5 344.4 475.5 342.9 477.5 341.7 478.6 341.3 479.5 341.5 481 342.4 482.5 343 484.6 343.4 486 343.1 489.5 341.7 490 341.3 490.6 340.3 491 338.9 492 333 493 322.9 493.2 322.3 494.5 340.1 495 344.6 495.5 343.7 496.5 338 497.5 334.1 498 333.2 498.2 333.4 499.5 350.5 501 340.6 501.3 340 502.5 347 503.5 342 504 343.3 504.5 345.8 505 347 506.5 341 507 342 507.5 344.2 508 345 508.5 343.3 510.3 331 510.5 331 511.2 312 512.5 300 513 290 513.7 301.2 515 335.4 515.7 381.6 517.3 365.7 518.1 364" stroke="#ffffff" stroke-width="1.3"/>
<path d="M311.5 341 406 340.9 411 340.7 414.5 340.3 416 340 417.5 339 418 339 418.5 339.6 419.5 342.1 419.9 342.6 421 341.4 422 341.2 440 341.3 445 341 446.5 340.6 448.5 339.6 450 337.7 450.5 337.3 451 337.5 451.6 343 452.5 339 453 338 454.5 336 456.5 332.3 457 331.7 457.5 331.5 458 331.6 458.5 332.1 460.4 334.7 464.5 338.7 467.5 343.4 468 343.9 469 344.5 470.5 344.8 472.5 344.4 475.5 342.9 477.5 341.7 478.6 341.3 479.5 341.5 481 342.4 482.5 343 484.6 343.4 486 343.1 489.5 341.7 490 341.3 490.6 340.3 491 338.9 492 333 493 322.9 493.2 322.3 494.5 340.1 495 344.6 495.5 343.7 496.5 338 497.5 334.1 498 333.2 498.2 333.4 499.5 350.5 501 340.6 501.3 340 502.5 347 503.5 342 504 343.3 504.5 345.8 505 347 506.5 341 507 342 507.5 344.2 508 345 508.5 343.3 510.3 331 510.5 331 511.2 312 512.5 300 513 290 513.7 301.2 515 335.4 515.7 381.6 517.3 365.7 521 358 523 345 524 340.7 525 337.5 525.5 336.7 525.8 336.5 526 336.7 528.5 349.8 529 351.2 529.5 351.2 530 350.3 533.5 343 535 340.9 536.5 339.6" stroke="#EDB120" stroke-width="0.75"/>
<line x1="311.4" y1="429.8" x2="311.4" y2="427.6" stroke="#8c8c8c" stroke-width="0.8"/>
<line x1="311.4" y1="252.4" x2="311.4" y2="254.6" stroke="#8c8c8c" stroke-width="0.8"/>
<line x1="356.5" y1="429.8" x2="356.5" y2="427.6" stroke="#8c8c8c" stroke-width="0.8"/>
<line x1="356.5" y1="252.4" x2="356.5" y2="254.6" stroke="#8c8c8c" stroke-width="0.8"/>
<line x1="401.5" y1="429.8" x2="401.5" y2="427.6" stroke="#8c8c8c" stroke-width="0.8"/>
<line x1="401.5" y1="252.4" x2="401.5" y2="254.6" stroke="#8c8c8c" stroke-width="0.8"/>
<line x1="446.6" y1="429.8" x2="446.6" y2="427.6" stroke="#8c8c8c" stroke-width="0.8"/>
<line x1="446.6" y1="252.4" x2="446.6" y2="254.6" stroke="#8c8c8c" stroke-width="0.8"/>
<line x1="491.6" y1="429.8" x2="491.6" y2="427.6" stroke="#8c8c8c" stroke-width="0.8"/>
<line x1="491.6" y1="252.4" x2="491.6" y2="254.6" stroke="#8c8c8c" stroke-width="0.8"/>
<line x1="536.7" y1="429.8" x2="536.7" y2="427.6" stroke="#8c8c8c" stroke-width="0.8"/>
<line x1="536.7" y1="252.4" x2="536.7" y2="254.6" stroke="#8c8c8c" stroke-width="0.8"/>
<line x1="311.4" y1="429.8" x2="313.6" y2="429.8" stroke="#8c8c8c" stroke-width="0.8"/>
<line x1="536.7" y1="429.8" x2="534.5" y2="429.8" stroke="#8c8c8c" stroke-width="0.8"/>
<line x1="311.4" y1="400.2" x2="313.6" y2="400.2" stroke="#8c8c8c" stroke-width="0.8"/>
<line x1="536.7" y1="400.2" x2="534.5" y2="400.2" stroke="#8c8c8c" stroke-width="0.8"/>
<line x1="311.4" y1="370.7" x2="313.6" y2="370.7" stroke="#8c8c8c" stroke-width="0.8"/>
<line x1="536.7" y1="370.7" x2="534.5" y2="370.7" stroke="#8c8c8c" stroke-width="0.8"/>
<line x1="311.4" y1="341" x2="313.6" y2="341" stroke="#8c8c8c" stroke-width="0.8"/>
<line x1="536.7" y1="341" x2="534.5" y2="341" stroke="#8c8c8c" stroke-width="0.8"/>
<line x1="311.4" y1="311.5" x2="313.6" y2="311.5" stroke="#8c8c8c" stroke-width="0.8"/>
<line x1="536.7" y1="311.5" x2="534.5" y2="311.5" stroke="#8c8c8c" stroke-width="0.8"/>
<line x1="311.4" y1="282" x2="313.6" y2="282" stroke="#8c8c8c" stroke-width="0.8"/>
<line x1="536.7" y1="282" x2="534.5" y2="282" stroke="#8c8c8c" stroke-width="0.8"/>
<line x1="311.4" y1="252.4" x2="313.6" y2="252.4" stroke="#8c8c8c" stroke-width="0.8"/>
<line x1="536.7" y1="252.4" x2="534.5" y2="252.4" stroke="#8c8c8c" stroke-width="0.8"/>
<rect x="311.4" y="252.4" width="225.3" height="177.4" fill="none" stroke="#8c8c8c" stroke-width="1"/>
<text x="309.2" y="431.8" font-size="9.7" text-anchor="end" >-0.15</text>
<text x="309.2" y="403.5" font-size="9.7" text-anchor="end" >-0.1</text>
<text x="309.2" y="374" font-size="9.7" text-anchor="end" >-0.05</text>
<text x="309.2" y="344.3" font-size="9.7" text-anchor="end" >0</text>
<text x="309.2" y="314.8" font-size="9.7" text-anchor="end" >0.05</text>
<text x="309.2" y="285.3" font-size="9.7" text-anchor="end" >0.1</text>
<text x="309.2" y="255.7" font-size="9.7" text-anchor="end" >0.15</text>
<text x="310.4" y="440.9" font-size="9.3" text-anchor="middle" >12,000</text>
<text x="356.5" y="440.9" font-size="9.3" text-anchor="middle" >10,500</text>
<text x="401.5" y="440.9" font-size="9.3" text-anchor="middle" >9000</text>
<text x="446.6" y="440.9" font-size="9.3" text-anchor="middle" >7500</text>
<text x="491.6" y="440.9" font-size="9.3" text-anchor="middle" >6000</text>
<text x="536.7" y="440.9" font-size="9.3" text-anchor="middle" >4500</text>
<text x="400.9" y="246.8" font-size="10" text-anchor="start" textLength="48.7" lengthAdjust="spacingAndGlyphs" >Grade 2-FD</text>
<text x="383.1" y="451.3" font-size="10" text-anchor="start" textLength="79.5" lengthAdjust="spacingAndGlyphs" >Wavenumber(cm<tspan font-size="6.5" dy="-3.2">-1</tspan><tspan dy="3.2">)</tspan></text>
<text x="410.4" y="464.5" font-size="10" text-anchor="start" textLength="11.4" lengthAdjust="spacingAndGlyphs" >(d)</text>
</svg></body></html>
